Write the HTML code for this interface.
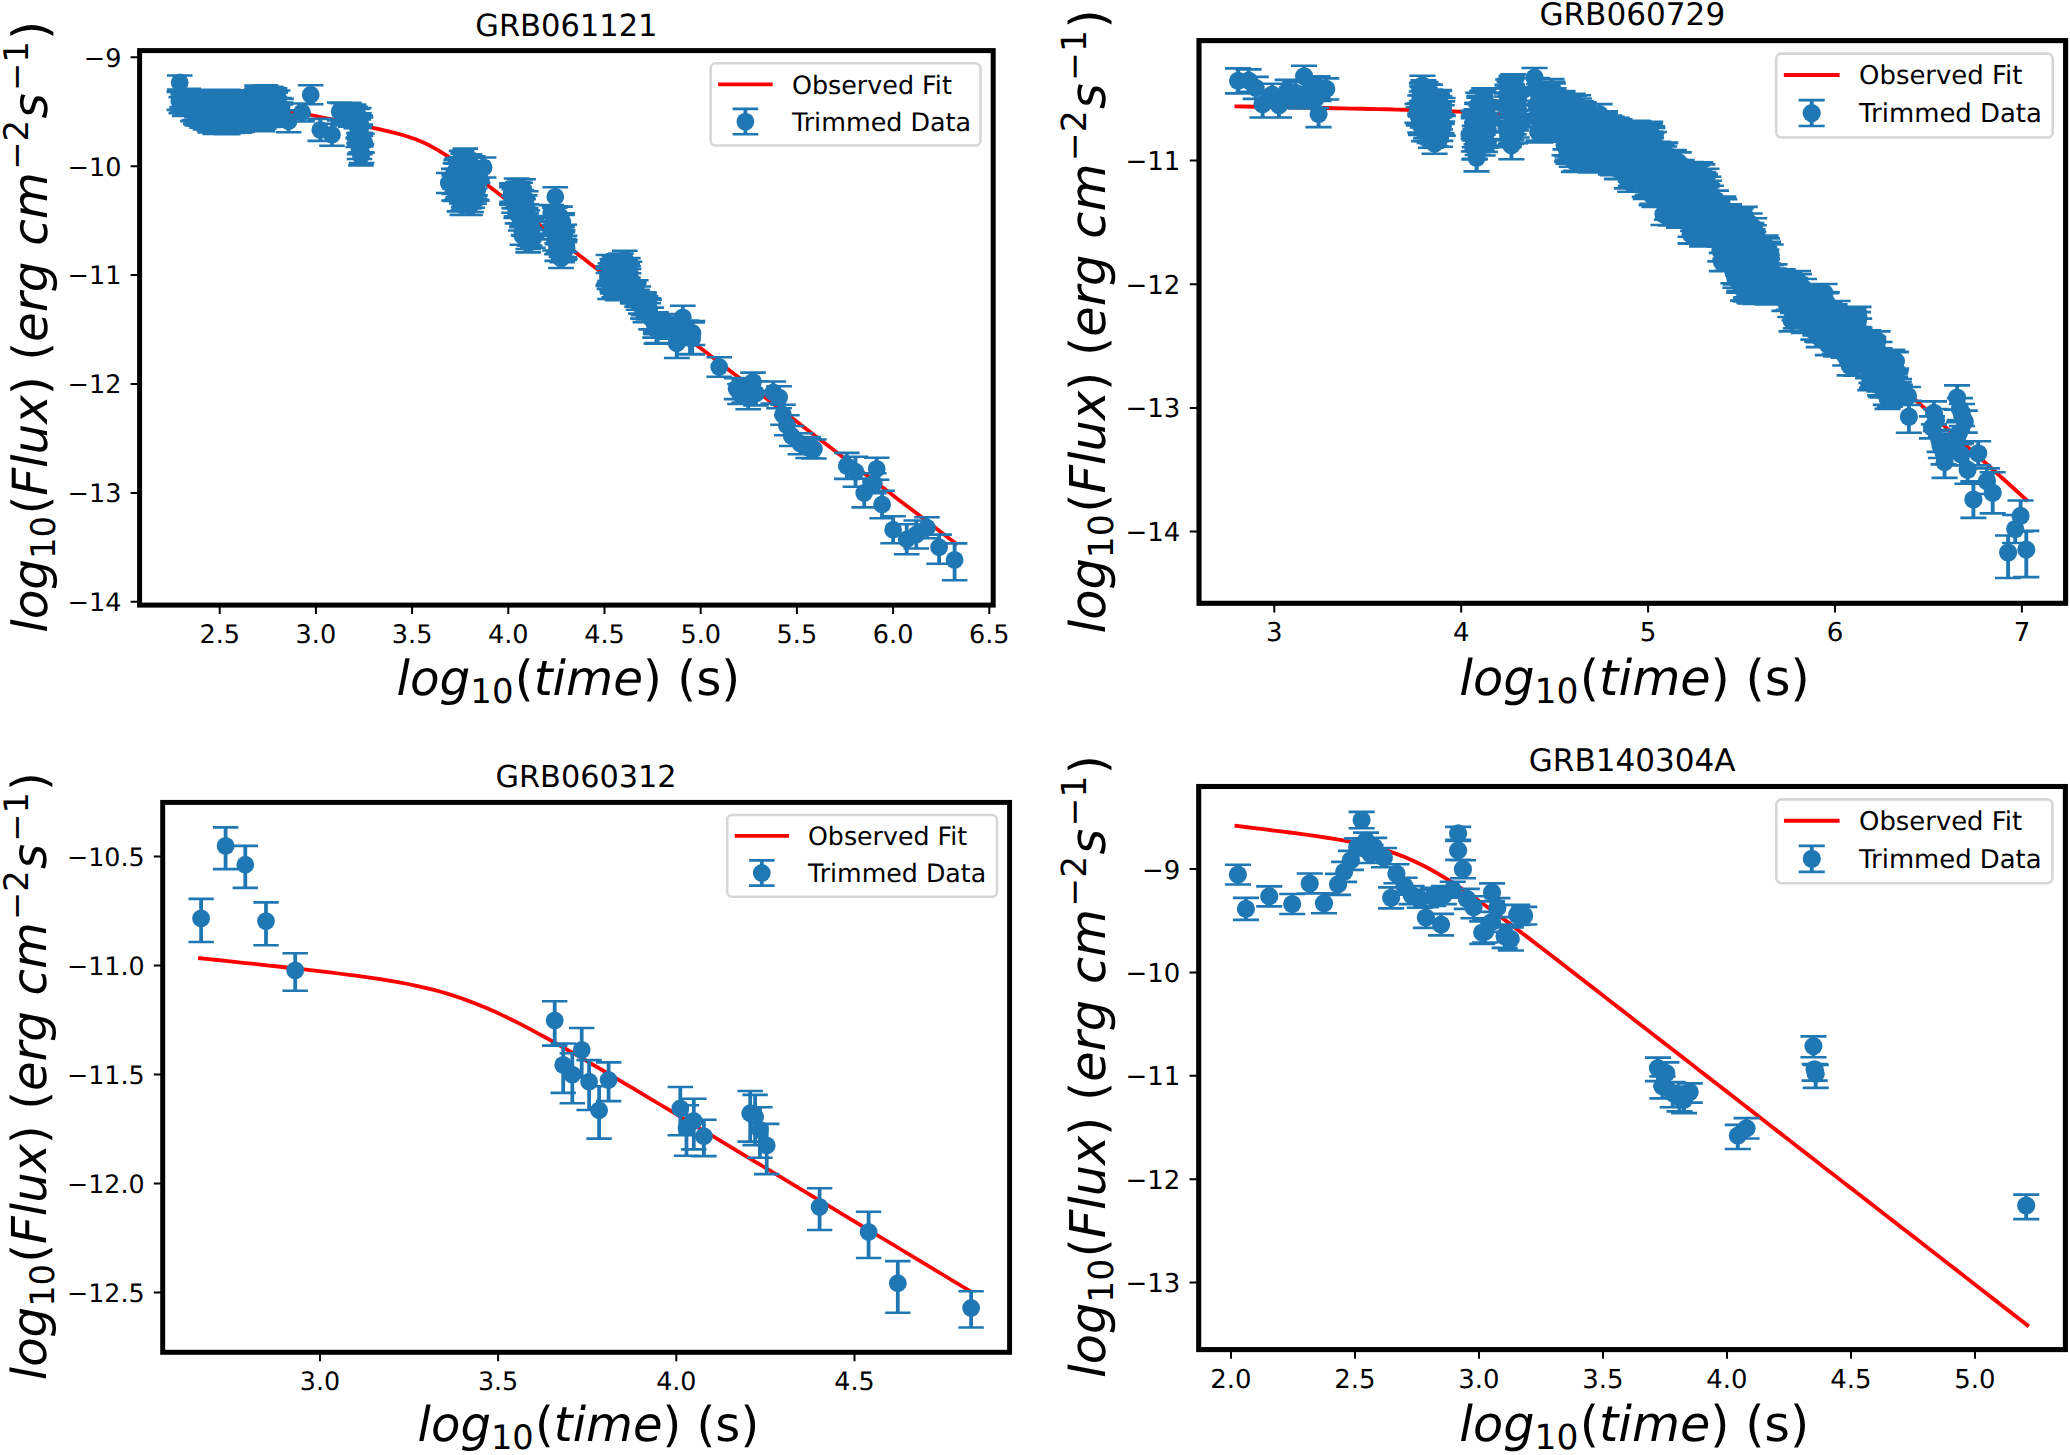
<!DOCTYPE html>
<html lang="en"><head><meta charset="utf-8"><title>GRB light curves</title>
<style>html,body{margin:0;padding:0;background:#fff}svg{display:block}text{font-family:"DejaVu Sans","Liberation Sans",sans-serif;fill:#000;text-rendering:geometricPrecision}.it{font-style:oblique}</style></head><body>
<svg width="2070" height="1455" viewBox="0 0 2070 1455">
<rect width="2070" height="1455" fill="#fff"/>
<g>
<path d="M179.7 105.0 L250.0 109.0 L306.0 114.0 L313.3 115.5 L320.6 117.0 L327.9 118.5 L335.2 120.0 L342.5 121.5 L349.8 123.0 L357.1 124.5 L364.4 126.0 L371.7 127.6 L379.0 129.1 L386.3 130.8 L393.6 132.6 L400.9 134.5 L408.2 136.7 L415.6 139.2 L422.9 142.2 L430.2 145.8 L437.5 149.8 L444.8 154.3 L452.1 159.2 L459.4 164.3 L466.7 169.6 L474.0 175.0 L481.3 180.5 L488.6 186.1 L495.9 191.6 L503.2 197.2 L510.5 202.7 L517.8 208.3 L525.1 213.9 L532.4 219.5 L539.7 225.1 L547.0 230.7 L554.3 236.3 L561.6 241.8 L568.9 247.4 L576.2 253.0 L583.5 258.6 L590.8 264.2 L598.1 269.8 L605.4 275.4 L612.7 281.0 L620.0 286.5 L627.3 292.1 L634.7 297.7 L642.0 303.3 L649.3 308.9 L656.6 314.5 L663.9 320.1 L671.2 325.7 L678.5 331.2 L685.8 336.8 L693.1 342.4 L700.4 348.0 L707.7 353.6 L715.0 359.2 L722.3 364.8 L729.6 370.4 L736.9 375.9 L744.2 381.5 L751.5 387.1 L758.8 392.7 L766.1 398.3 L773.4 403.9 L780.7 409.5 L788.0 415.1 L795.3 420.6 L802.6 426.2 L809.9 431.8 L817.2 437.4 L824.5 443.0 L831.8 448.6 L839.1 454.2 L846.4 459.8 L853.8 465.3 L861.1 470.9 L868.4 476.5 L875.7 482.1 L883.0 487.7 L890.3 493.3 L897.6 498.9 L904.9 504.5 L912.2 510.0 L919.5 515.6 L926.8 521.2 L934.1 526.8 L941.4 532.4 L948.7 538.0 L956.0 543.6" fill="none" stroke="#ff0000" stroke-width="3.80" stroke-linecap="square" stroke-linejoin="round"/>
<path d="M179.7 75.5V89.5M179.3 91.9V109.9M248.9 109.7V127.1M215.3 117.9V134.0M227.8 89.9V109.4M213.0 90.0V106.4M267.3 105.5V123.8M199.8 95.6V112.1M261.2 101.1V121.7M273.0 95.1V114.9M205.4 111.7V129.5M221.1 91.3V111.9M262.1 96.1V113.4M237.1 111.8V128.0M226.6 103.7V122.5M231.6 110.5V130.9M234.9 102.4V120.9M269.7 87.7V104.6M227.8 113.1V134.0M256.7 88.8V109.7M217.7 90.7V109.2M243.4 101.5V117.6M257.6 101.5V119.4M275.2 107.8V126.0M250.0 96.1V114.0M197.3 107.0V125.5M230.8 105.2V122.9M221.5 100.4V117.0M248.5 104.8V121.6M261.8 103.0V119.1M203.5 98.9V115.2M233.4 106.0V125.8M266.1 91.8V109.1M190.8 91.3V109.2M243.8 109.6V126.5M264.1 100.8V121.2M237.6 101.5V122.3M241.9 111.1V132.0M203.7 92.9V110.7M181.3 97.1V113.1M205.8 96.6V115.0M233.2 111.3V131.3M244.5 91.0V111.8M216.2 111.2V131.4M212.5 89.8V108.3M216.0 100.5V120.0M243.1 90.5V111.2M199.9 90.5V107.6M247.4 91.0V108.8M270.6 87.1V106.6M273.8 101.5V118.0M217.3 113.3V130.0M207.1 102.6V122.2M230.0 96.6V114.6M214.2 102.0V118.6M207.8 95.7V115.9M202.8 105.1V123.0M263.8 110.0V128.8M240.6 91.9V109.9M188.2 88.8V106.9M209.9 101.0V119.4M240.7 108.5V128.6M239.2 111.7V130.5M215.0 101.5V120.7M186.5 90.9V109.8M226.6 114.6V132.8M251.6 95.1V112.5M192.9 102.3V121.1M234.9 96.0V116.9M250.7 107.5V125.6M257.9 92.8V109.4M222.6 98.5V117.8M215.5 99.1V118.5M223.3 99.4V120.1M263.6 105.5V125.1M209.6 98.4V114.8M234.6 109.9V127.6M247.2 107.3V126.7M266.7 102.3V118.4M219.8 90.4V111.2M274.5 96.8V114.1M210.2 115.8V132.5M204.6 96.0V113.4M267.3 94.1V114.1M265.4 85.4V103.5M245.5 101.7V120.9M277.6 90.5V106.7M194.6 102.7V120.1M266.7 94.4V111.1M274.4 98.5V116.6M257.0 85.5V105.6M194.1 101.7V120.8M271.9 96.0V115.3M251.5 102.9V122.7M270.1 100.3V118.7M249.8 95.9V114.2M225.3 90.3V109.7M237.1 110.2V131.1M280.6 102.5V118.6M215.8 105.1V121.4M246.0 95.7V112.1M187.8 92.6V112.3M210.1 106.5V126.9M206.8 90.0V106.4M206.0 105.0V124.6M225.4 104.3V122.5M273.8 102.3V118.3M183.2 94.1V111.4M274.5 88.4V104.7M265.6 109.7V126.8M259.8 107.7V128.1M268.2 108.7V126.2M248.8 93.5V113.1M242.0 100.1V119.4M267.7 90.4V110.3M252.3 90.4V111.2M219.8 110.8V128.8M233.0 107.4V126.3M210.0 99.5V118.3M241.4 103.6V121.5M209.4 112.5V130.8M263.7 109.2V125.9M265.5 88.3V106.3M215.4 96.0V113.2M251.6 102.4V121.8M226.7 117.3V134.1M259.7 86.2V105.4M213.2 96.2V116.3M213.0 89.7V108.0M271.6 107.6V126.7M223.9 94.8V111.8M277.2 108.6V125.2M279.0 98.0V116.0M242.2 99.7V119.9M269.3 91.4V109.8M258.7 93.1V110.6M271.7 100.2V120.1M239.3 94.7V114.9M231.7 105.5V121.7M237.6 99.7V117.2M251.9 96.1V116.3M273.1 89.1V107.5M260.8 94.7V113.0M235.1 103.7V119.9M231.0 111.4V127.5M213.7 96.0V115.5M182.2 90.2V107.1M281.1 98.9V116.4M271.9 103.3V121.4M205.2 103.7V121.7M225.5 100.5V116.8M265.0 88.8V106.4M259.3 89.3V108.0M195.8 103.9V124.0M275.3 92.8V111.4M264.1 93.7V110.8M219.3 115.0V132.5M213.2 102.2V119.7M233.5 109.4V128.6M260.8 85.5V105.6M264.1 86.9V107.3M205.1 92.9V113.7M200.6 106.6V125.8M197.7 104.7V123.5M201.3 105.9V122.5M261.2 108.3V124.6M254.9 101.6V121.8M187.6 96.9V114.0M225.0 101.6V118.7M220.6 105.4V125.0M184.6 97.6V116.0M230.7 110.0V128.4M262.3 113.2V131.1M270.8 105.0V121.4M259.8 95.8V111.9M260.5 106.5V124.1M242.3 94.4V111.7M268.3 93.1V112.7M245.3 97.4V115.9M247.9 99.1V118.5M202.1 109.8V127.6M215.7 109.7V129.8M272.9 103.2V123.5M233.6 90.7V108.6M217.3 93.9V112.9M270.4 99.4V116.9M248.2 98.9V119.6M271.1 91.2V107.7M199.0 102.4V121.3M270.6 92.0V112.6M227.3 90.9V109.0M272.3 87.7V104.3M248.8 96.0V116.0M280.5 104.4V123.7M232.1 112.2V133.0M260.2 92.7V113.3M239.3 113.7V132.6M250.9 95.7V114.4M232.8 111.9V128.1M258.3 101.5V119.0M197.0 97.5V117.2M242.1 104.7V122.7M246.3 97.3V117.9M257.9 86.4V107.0M196.4 93.2V114.1M269.7 86.7V106.0M224.2 90.8V110.7M226.7 114.4V131.0M250.1 113.4V130.1M268.3 109.6V127.0M197.7 102.9V122.2M205.0 98.4V116.1M288.5 110.2V132.2M302.0 103.5V121.5M310.7 85.2V104.2M320.3 118.9V140.9M332.0 123.7V145.7M339.7 102.5V120.5M343.7 103.2V122.2M341.4 102.9V120.1M346.3 106.1V125.5M348.9 102.9V121.1M350.7 107.0V126.6M354.5 108.6V125.7M353.6 104.9V122.3M353.0 104.6V122.0M357.3 108.4V127.9M356.3 108.3V128.2M355.2 106.9V126.1M356.9 108.9V126.8M358.7 108.0V125.1M358.9 113.2V133.1M360.1 115.2V132.8M358.2 118.7V138.2M360.5 117.4V135.8M358.3 119.5V137.5M359.0 124.9V143.2M360.2 124.6V141.8M359.5 127.9V145.2M358.3 127.4V147.0M361.0 133.8V152.2M362.0 133.7V152.7M359.6 136.1V154.1M359.9 135.4V153.9M359.5 139.6V159.0M361.5 144.1V163.0M360.9 146.4V165.4M463.4 169.8V190.8M453.8 168.9V186.4M472.9 170.5V189.7M460.8 168.0V186.8M457.7 158.0V176.9M465.4 179.5V200.4M476.8 161.3V179.9M466.8 185.3V204.3M461.8 177.8V195.6M464.8 166.5V187.3M466.5 171.2V192.1M463.6 175.8V192.9M457.4 163.6V181.6M464.3 190.2V208.0M454.2 175.5V194.0M473.8 182.9V203.8M471.2 191.6V212.0M467.4 180.0V197.9M461.7 157.3V175.9M474.5 164.8V185.3M458.1 179.5V197.4M469.6 184.3V204.9M472.8 156.4V176.1M460.6 173.5V191.1M464.5 180.2V197.7M468.3 189.4V208.5M461.5 159.7V178.5M463.3 180.5V200.5M471.1 183.3V203.4M471.9 161.4V180.7M463.2 153.6V173.2M456.7 180.6V199.7M454.9 168.9V188.1M459.5 190.6V211.4M455.7 182.2V200.9M466.0 178.7V197.1M461.6 150.9V171.7M468.1 167.4V188.1M456.1 160.3V180.7M457.4 168.5V188.5M469.0 176.5V195.7M469.3 162.0V182.6M463.1 192.7V210.6M465.8 173.4V191.0M465.5 154.7V172.8M474.6 180.7V199.1M469.9 157.7V177.3M460.8 162.6V180.0M476.8 180.6V200.0M468.9 180.5V198.7M457.0 158.6V178.8M461.4 167.0V187.0M468.3 169.5V187.2M461.8 185.4V203.5M467.6 171.5V188.6M474.7 169.8V188.5M466.0 163.7V182.6M467.9 177.3V198.1M468.0 186.7V205.6M464.8 190.8V209.0M460.9 175.3V192.8M457.3 172.9V192.5M454.1 180.0V200.6M455.4 163.2V183.0M469.7 188.4V208.1M477.6 162.9V182.9M468.3 167.4V187.3M475.0 175.6V195.4M463.7 188.6V207.1M469.2 176.7V195.7M476.9 181.3V200.6M471.5 182.0V200.4M461.2 178.0V195.6M474.1 184.1V203.6M472.3 188.0V207.8M467.5 163.6V181.3M474.2 178.4V196.3M458.4 171.6V191.2M472.8 172.1V190.1M470.6 156.9V174.5M462.7 176.2V193.3M456.5 181.8V200.5M464.6 171.9V189.6M469.5 154.2V173.9M474.0 165.9V183.5M465.3 148.6V167.2M448.8 173.0V193.0M483.6 157.5V177.5M462.4 193.7V214.9M470.0 197.0V215.0M519.5 179.4V196.1M523.1 179.2V198.9M511.9 183.3V203.2M517.8 182.4V200.1M520.1 182.8V202.2M516.9 184.2V202.5M512.1 184.8V201.8M512.9 186.3V205.0M511.8 187.1V204.6M516.3 191.9V208.5M514.2 189.2V208.3M525.7 191.3V208.0M521.4 190.0V209.8M514.1 195.9V212.7M522.1 196.1V213.4M520.0 196.0V215.2M524.7 195.4V214.8M516.5 198.8V216.4M518.7 197.8V216.3M520.7 198.2V218.0M521.4 199.6V216.8M516.2 200.9V218.0M526.4 204.4V220.8M517.5 204.6V223.4M522.0 205.8V224.6M523.7 207.5V224.0M521.9 208.3V227.1M520.8 213.3V230.5M526.2 213.3V231.4M523.4 208.3V226.5M526.1 213.2V231.5M527.4 210.5V228.7M530.0 216.0V233.6M524.4 217.2V236.0M523.5 218.2V235.1M530.8 216.7V236.2M531.6 219.5V237.0M531.0 219.1V238.2M522.4 226.3V244.8M532.9 230.0V247.8M529.6 227.7V245.6M528.2 234.3V252.4M516.6 178.5V196.5M528.2 230.0V249.0M555.3 187.2V206.2M551.3 205.1V221.1M554.7 207.6V225.0M560.0 206.6V226.0M562.3 213.2V230.4M562.1 215.0V231.6M552.3 217.2V233.6M553.0 217.7V235.9M556.0 216.1V233.7M558.4 220.7V239.2M552.7 221.9V239.5M553.3 221.3V239.4M562.2 226.1V243.7M564.3 224.8V242.0M557.9 228.0V244.1M562.6 230.8V247.9M561.6 227.5V246.5M562.5 232.3V249.7M558.5 233.9V253.0M564.6 235.7V251.9M555.0 231.7V250.5M556.9 234.9V254.2M561.5 240.0V256.9M557.2 243.4V260.9M564.3 240.3V257.3M564.1 242.2V259.9M563.8 238.7V258.4M564.9 240.1V258.9M562.3 245.9V262.3M561.0 249.0V268.0M625.9 276.4V296.0M625.1 259.6V278.6M622.7 263.8V283.3M608.3 266.4V285.9M619.7 264.2V280.7M612.2 259.0V278.9M620.1 260.4V280.0M621.4 260.5V279.1M608.6 267.6V285.7M609.5 272.8V288.9M612.3 274.4V292.0M623.9 268.2V286.1M621.0 253.6V269.6M628.6 273.3V290.1M623.3 279.1V298.4M622.1 267.5V286.0M612.0 264.6V284.1M616.0 260.0V278.1M625.9 277.5V297.5M618.0 268.2V286.9M610.4 263.2V280.7M621.4 263.4V280.7M612.1 272.3V289.5M616.5 261.4V277.8M619.4 262.1V280.4M614.8 266.8V283.3M624.2 265.2V282.0M622.6 269.8V288.3M629.5 261.7V281.4M617.5 280.3V300.2M617.1 266.2V285.8M619.1 254.3V273.6M613.9 262.2V279.5M623.8 261.8V279.6M627.2 264.4V284.0M628.2 266.2V283.1M628.6 269.0V286.4M609.3 266.8V283.0M621.8 264.3V281.4M612.8 273.9V293.5M608.2 268.7V285.0M614.9 267.2V286.8M622.1 262.1V280.9M625.2 271.6V289.1M624.6 263.5V280.9M614.4 256.0V273.4M613.0 261.1V278.7M624.8 270.4V289.9M614.1 278.8V298.8M616.7 279.6V298.5M613.0 265.7V282.8M627.9 258.1V277.6M614.1 278.2V297.3M624.1 259.6V278.5M621.8 261.5V281.4M624.8 250.8V268.2M608.4 255.0V273.0M610.0 281.0V299.0M632.9 282.3V302.8M632.6 282.4V303.2M633.8 282.6V303.5M635.8 280.3V300.1M633.3 284.0V300.2M638.3 286.5V305.0M637.0 289.8V306.8M638.5 292.0V309.7M643.7 292.3V308.5M640.9 293.5V313.6M643.6 297.7V315.2M644.0 295.3V314.7M644.1 292.7V314.5M645.7 296.3V313.7M642.8 300.8V318.5M644.3 301.5V319.0M648.3 303.1V319.5M648.5 298.3V317.7M645.4 303.0V322.3M649.2 299.7V319.3M651.1 307.6V329.4M655.8 312.2V331.6M656.1 312.8V332.5M655.7 312.5V333.8M655.1 316.3V337.6M656.1 314.2V333.3M656.3 314.5V334.1M658.2 316.0V334.2M657.7 315.0V343.0M669.3 314.0V336.0M682.8 305.8V329.0M692.5 321.0V345.0M677.0 327.2V358.0M690.0 322.0V354.0M656.4 315.8V343.6M671.0 316.7V338.7M686.4 320.6V342.6M676.7 328.4V358.0M692.2 322.4V354.4M719.2 357.3V376.7M736.6 378.1V399.1M744.3 380.5V402.5M753.0 372.6V391.0M748.2 385.3V409.3M756.0 381.4V405.4M773.3 381.5V403.5M779.1 386.3V408.3M740.0 384.0V404.0M783.0 404.7V424.7M786.9 415.3V435.3M791.7 426.0V446.0M800.4 433.2V454.2M808.1 437.0V458.0M813.9 439.5V458.5M846.8 452.9V478.9M855.5 456.7V486.7M876.7 457.8V479.8M873.8 473.3V493.3M864.2 478.6V507.4M882.1 490.8V518.2M893.1 516.2V543.2M906.7 524.3V554.3M916.3 520.5V548.5M927.0 517.2V538.2M939.1 534.6V563.7M954.6 543.4V580.2" fill="none" stroke="#1f77b4" stroke-width="3.80"/>
<path d="M166.9 75.5h25.6M166.9 89.5h25.6M166.5 91.9h25.6M166.5 109.9h25.6M236.1 109.7h25.6M236.1 127.1h25.6M202.5 117.9h25.6M202.5 134.0h25.6M215.0 89.9h25.6M215.0 109.4h25.6M200.2 90.0h25.6M200.2 106.4h25.6M254.5 105.5h25.6M254.5 123.8h25.6M187.0 95.6h25.6M187.0 112.1h25.6M248.4 101.1h25.6M248.4 121.7h25.6M260.2 95.1h25.6M260.2 114.9h25.6M192.6 111.7h25.6M192.6 129.5h25.6M208.3 91.3h25.6M208.3 111.9h25.6M249.3 96.1h25.6M249.3 113.4h25.6M224.3 111.8h25.6M224.3 128.0h25.6M213.8 103.7h25.6M213.8 122.5h25.6M218.8 110.5h25.6M218.8 130.9h25.6M222.1 102.4h25.6M222.1 120.9h25.6M256.9 87.7h25.6M256.9 104.6h25.6M215.0 113.1h25.6M215.0 134.0h25.6M243.9 88.8h25.6M243.9 109.7h25.6M204.9 90.7h25.6M204.9 109.2h25.6M230.6 101.5h25.6M230.6 117.6h25.6M244.8 101.5h25.6M244.8 119.4h25.6M262.4 107.8h25.6M262.4 126.0h25.6M237.2 96.1h25.6M237.2 114.0h25.6M184.5 107.0h25.6M184.5 125.5h25.6M218.0 105.2h25.6M218.0 122.9h25.6M208.7 100.4h25.6M208.7 117.0h25.6M235.7 104.8h25.6M235.7 121.6h25.6M249.0 103.0h25.6M249.0 119.1h25.6M190.7 98.9h25.6M190.7 115.2h25.6M220.6 106.0h25.6M220.6 125.8h25.6M253.3 91.8h25.6M253.3 109.1h25.6M178.0 91.3h25.6M178.0 109.2h25.6M231.0 109.6h25.6M231.0 126.5h25.6M251.3 100.8h25.6M251.3 121.2h25.6M224.8 101.5h25.6M224.8 122.3h25.6M229.1 111.1h25.6M229.1 132.0h25.6M190.9 92.9h25.6M190.9 110.7h25.6M168.5 97.1h25.6M168.5 113.1h25.6M193.0 96.6h25.6M193.0 115.0h25.6M220.4 111.3h25.6M220.4 131.3h25.6M231.7 91.0h25.6M231.7 111.8h25.6M203.4 111.2h25.6M203.4 131.4h25.6M199.7 89.8h25.6M199.7 108.3h25.6M203.2 100.5h25.6M203.2 120.0h25.6M230.3 90.5h25.6M230.3 111.2h25.6M187.1 90.5h25.6M187.1 107.6h25.6M234.6 91.0h25.6M234.6 108.8h25.6M257.8 87.1h25.6M257.8 106.6h25.6M261.0 101.5h25.6M261.0 118.0h25.6M204.5 113.3h25.6M204.5 130.0h25.6M194.3 102.6h25.6M194.3 122.2h25.6M217.2 96.6h25.6M217.2 114.6h25.6M201.4 102.0h25.6M201.4 118.6h25.6M195.0 95.7h25.6M195.0 115.9h25.6M190.0 105.1h25.6M190.0 123.0h25.6M251.0 110.0h25.6M251.0 128.8h25.6M227.8 91.9h25.6M227.8 109.9h25.6M175.4 88.8h25.6M175.4 106.9h25.6M197.1 101.0h25.6M197.1 119.4h25.6M227.9 108.5h25.6M227.9 128.6h25.6M226.4 111.7h25.6M226.4 130.5h25.6M202.2 101.5h25.6M202.2 120.7h25.6M173.7 90.9h25.6M173.7 109.8h25.6M213.8 114.6h25.6M213.8 132.8h25.6M238.8 95.1h25.6M238.8 112.5h25.6M180.1 102.3h25.6M180.1 121.1h25.6M222.1 96.0h25.6M222.1 116.9h25.6M237.9 107.5h25.6M237.9 125.6h25.6M245.1 92.8h25.6M245.1 109.4h25.6M209.8 98.5h25.6M209.8 117.8h25.6M202.7 99.1h25.6M202.7 118.5h25.6M210.5 99.4h25.6M210.5 120.1h25.6M250.8 105.5h25.6M250.8 125.1h25.6M196.8 98.4h25.6M196.8 114.8h25.6M221.8 109.9h25.6M221.8 127.6h25.6M234.4 107.3h25.6M234.4 126.7h25.6M253.9 102.3h25.6M253.9 118.4h25.6M207.0 90.4h25.6M207.0 111.2h25.6M261.7 96.8h25.6M261.7 114.1h25.6M197.4 115.8h25.6M197.4 132.5h25.6M191.8 96.0h25.6M191.8 113.4h25.6M254.5 94.1h25.6M254.5 114.1h25.6M252.6 85.4h25.6M252.6 103.5h25.6M232.7 101.7h25.6M232.7 120.9h25.6M264.8 90.5h25.6M264.8 106.7h25.6M181.8 102.7h25.6M181.8 120.1h25.6M253.9 94.4h25.6M253.9 111.1h25.6M261.6 98.5h25.6M261.6 116.6h25.6M244.2 85.5h25.6M244.2 105.6h25.6M181.3 101.7h25.6M181.3 120.8h25.6M259.1 96.0h25.6M259.1 115.3h25.6M238.7 102.9h25.6M238.7 122.7h25.6M257.3 100.3h25.6M257.3 118.7h25.6M237.0 95.9h25.6M237.0 114.2h25.6M212.5 90.3h25.6M212.5 109.7h25.6M224.3 110.2h25.6M224.3 131.1h25.6M267.8 102.5h25.6M267.8 118.6h25.6M203.0 105.1h25.6M203.0 121.4h25.6M233.2 95.7h25.6M233.2 112.1h25.6M175.0 92.6h25.6M175.0 112.3h25.6M197.3 106.5h25.6M197.3 126.9h25.6M194.0 90.0h25.6M194.0 106.4h25.6M193.2 105.0h25.6M193.2 124.6h25.6M212.6 104.3h25.6M212.6 122.5h25.6M261.0 102.3h25.6M261.0 118.3h25.6M170.4 94.1h25.6M170.4 111.4h25.6M261.7 88.4h25.6M261.7 104.7h25.6M252.8 109.7h25.6M252.8 126.8h25.6M247.0 107.7h25.6M247.0 128.1h25.6M255.4 108.7h25.6M255.4 126.2h25.6M236.0 93.5h25.6M236.0 113.1h25.6M229.2 100.1h25.6M229.2 119.4h25.6M254.9 90.4h25.6M254.9 110.3h25.6M239.5 90.4h25.6M239.5 111.2h25.6M207.0 110.8h25.6M207.0 128.8h25.6M220.2 107.4h25.6M220.2 126.3h25.6M197.2 99.5h25.6M197.2 118.3h25.6M228.6 103.6h25.6M228.6 121.5h25.6M196.6 112.5h25.6M196.6 130.8h25.6M250.9 109.2h25.6M250.9 125.9h25.6M252.7 88.3h25.6M252.7 106.3h25.6M202.6 96.0h25.6M202.6 113.2h25.6M238.8 102.4h25.6M238.8 121.8h25.6M213.9 117.3h25.6M213.9 134.1h25.6M246.9 86.2h25.6M246.9 105.4h25.6M200.4 96.2h25.6M200.4 116.3h25.6M200.2 89.7h25.6M200.2 108.0h25.6M258.8 107.6h25.6M258.8 126.7h25.6M211.1 94.8h25.6M211.1 111.8h25.6M264.4 108.6h25.6M264.4 125.2h25.6M266.2 98.0h25.6M266.2 116.0h25.6M229.4 99.7h25.6M229.4 119.9h25.6M256.5 91.4h25.6M256.5 109.8h25.6M245.9 93.1h25.6M245.9 110.6h25.6M258.9 100.2h25.6M258.9 120.1h25.6M226.5 94.7h25.6M226.5 114.9h25.6M218.9 105.5h25.6M218.9 121.7h25.6M224.8 99.7h25.6M224.8 117.2h25.6M239.1 96.1h25.6M239.1 116.3h25.6M260.3 89.1h25.6M260.3 107.5h25.6M248.0 94.7h25.6M248.0 113.0h25.6M222.3 103.7h25.6M222.3 119.9h25.6M218.2 111.4h25.6M218.2 127.5h25.6M200.9 96.0h25.6M200.9 115.5h25.6M169.4 90.2h25.6M169.4 107.1h25.6M268.3 98.9h25.6M268.3 116.4h25.6M259.1 103.3h25.6M259.1 121.4h25.6M192.4 103.7h25.6M192.4 121.7h25.6M212.7 100.5h25.6M212.7 116.8h25.6M252.2 88.8h25.6M252.2 106.4h25.6M246.5 89.3h25.6M246.5 108.0h25.6M183.0 103.9h25.6M183.0 124.0h25.6M262.5 92.8h25.6M262.5 111.4h25.6M251.3 93.7h25.6M251.3 110.8h25.6M206.5 115.0h25.6M206.5 132.5h25.6M200.4 102.2h25.6M200.4 119.7h25.6M220.7 109.4h25.6M220.7 128.6h25.6M248.0 85.5h25.6M248.0 105.6h25.6M251.3 86.9h25.6M251.3 107.3h25.6M192.3 92.9h25.6M192.3 113.7h25.6M187.8 106.6h25.6M187.8 125.8h25.6M184.9 104.7h25.6M184.9 123.5h25.6M188.5 105.9h25.6M188.5 122.5h25.6M248.4 108.3h25.6M248.4 124.6h25.6M242.1 101.6h25.6M242.1 121.8h25.6M174.8 96.9h25.6M174.8 114.0h25.6M212.2 101.6h25.6M212.2 118.7h25.6M207.8 105.4h25.6M207.8 125.0h25.6M171.8 97.6h25.6M171.8 116.0h25.6M217.9 110.0h25.6M217.9 128.4h25.6M249.5 113.2h25.6M249.5 131.1h25.6M258.0 105.0h25.6M258.0 121.4h25.6M247.0 95.8h25.6M247.0 111.9h25.6M247.7 106.5h25.6M247.7 124.1h25.6M229.5 94.4h25.6M229.5 111.7h25.6M255.5 93.1h25.6M255.5 112.7h25.6M232.5 97.4h25.6M232.5 115.9h25.6M235.1 99.1h25.6M235.1 118.5h25.6M189.3 109.8h25.6M189.3 127.6h25.6M202.9 109.7h25.6M202.9 129.8h25.6M260.1 103.2h25.6M260.1 123.5h25.6M220.8 90.7h25.6M220.8 108.6h25.6M204.5 93.9h25.6M204.5 112.9h25.6M257.6 99.4h25.6M257.6 116.9h25.6M235.4 98.9h25.6M235.4 119.6h25.6M258.3 91.2h25.6M258.3 107.7h25.6M186.2 102.4h25.6M186.2 121.3h25.6M257.8 92.0h25.6M257.8 112.6h25.6M214.5 90.9h25.6M214.5 109.0h25.6M259.5 87.7h25.6M259.5 104.3h25.6M236.0 96.0h25.6M236.0 116.0h25.6M267.7 104.4h25.6M267.7 123.7h25.6M219.3 112.2h25.6M219.3 133.0h25.6M247.4 92.7h25.6M247.4 113.3h25.6M226.5 113.7h25.6M226.5 132.6h25.6M238.1 95.7h25.6M238.1 114.4h25.6M220.0 111.9h25.6M220.0 128.1h25.6M245.5 101.5h25.6M245.5 119.0h25.6M184.2 97.5h25.6M184.2 117.2h25.6M229.3 104.7h25.6M229.3 122.7h25.6M233.5 97.3h25.6M233.5 117.9h25.6M245.1 86.4h25.6M245.1 107.0h25.6M183.6 93.2h25.6M183.6 114.1h25.6M256.9 86.7h25.6M256.9 106.0h25.6M211.4 90.8h25.6M211.4 110.7h25.6M213.9 114.4h25.6M213.9 131.0h25.6M237.3 113.4h25.6M237.3 130.1h25.6M255.5 109.6h25.6M255.5 127.0h25.6M184.9 102.9h25.6M184.9 122.2h25.6M192.2 98.4h25.6M192.2 116.1h25.6M275.7 110.2h25.6M275.7 132.2h25.6M289.2 103.5h25.6M289.2 121.5h25.6M297.9 85.2h25.6M297.9 104.2h25.6M307.5 118.9h25.6M307.5 140.9h25.6M319.2 123.7h25.6M319.2 145.7h25.6M326.9 102.5h25.6M326.9 120.5h25.6M330.9 103.2h25.6M330.9 122.2h25.6M328.6 102.9h25.6M328.6 120.1h25.6M333.5 106.1h25.6M333.5 125.5h25.6M336.1 102.9h25.6M336.1 121.1h25.6M337.9 107.0h25.6M337.9 126.6h25.6M341.7 108.6h25.6M341.7 125.7h25.6M340.8 104.9h25.6M340.8 122.3h25.6M340.2 104.6h25.6M340.2 122.0h25.6M344.5 108.4h25.6M344.5 127.9h25.6M343.5 108.3h25.6M343.5 128.2h25.6M342.4 106.9h25.6M342.4 126.1h25.6M344.1 108.9h25.6M344.1 126.8h25.6M345.9 108.0h25.6M345.9 125.1h25.6M346.1 113.2h25.6M346.1 133.1h25.6M347.3 115.2h25.6M347.3 132.8h25.6M345.4 118.7h25.6M345.4 138.2h25.6M347.7 117.4h25.6M347.7 135.8h25.6M345.5 119.5h25.6M345.5 137.5h25.6M346.2 124.9h25.6M346.2 143.2h25.6M347.4 124.6h25.6M347.4 141.8h25.6M346.7 127.9h25.6M346.7 145.2h25.6M345.5 127.4h25.6M345.5 147.0h25.6M348.2 133.8h25.6M348.2 152.2h25.6M349.2 133.7h25.6M349.2 152.7h25.6M346.8 136.1h25.6M346.8 154.1h25.6M347.1 135.4h25.6M347.1 153.9h25.6M346.7 139.6h25.6M346.7 159.0h25.6M348.7 144.1h25.6M348.7 163.0h25.6M348.1 146.4h25.6M348.1 165.4h25.6M450.6 169.8h25.6M450.6 190.8h25.6M441.0 168.9h25.6M441.0 186.4h25.6M460.1 170.5h25.6M460.1 189.7h25.6M448.0 168.0h25.6M448.0 186.8h25.6M444.9 158.0h25.6M444.9 176.9h25.6M452.6 179.5h25.6M452.6 200.4h25.6M464.0 161.3h25.6M464.0 179.9h25.6M454.0 185.3h25.6M454.0 204.3h25.6M449.0 177.8h25.6M449.0 195.6h25.6M452.0 166.5h25.6M452.0 187.3h25.6M453.7 171.2h25.6M453.7 192.1h25.6M450.8 175.8h25.6M450.8 192.9h25.6M444.6 163.6h25.6M444.6 181.6h25.6M451.5 190.2h25.6M451.5 208.0h25.6M441.4 175.5h25.6M441.4 194.0h25.6M461.0 182.9h25.6M461.0 203.8h25.6M458.4 191.6h25.6M458.4 212.0h25.6M454.6 180.0h25.6M454.6 197.9h25.6M448.9 157.3h25.6M448.9 175.9h25.6M461.7 164.8h25.6M461.7 185.3h25.6M445.3 179.5h25.6M445.3 197.4h25.6M456.8 184.3h25.6M456.8 204.9h25.6M460.0 156.4h25.6M460.0 176.1h25.6M447.8 173.5h25.6M447.8 191.1h25.6M451.7 180.2h25.6M451.7 197.7h25.6M455.5 189.4h25.6M455.5 208.5h25.6M448.7 159.7h25.6M448.7 178.5h25.6M450.5 180.5h25.6M450.5 200.5h25.6M458.3 183.3h25.6M458.3 203.4h25.6M459.1 161.4h25.6M459.1 180.7h25.6M450.4 153.6h25.6M450.4 173.2h25.6M443.9 180.6h25.6M443.9 199.7h25.6M442.1 168.9h25.6M442.1 188.1h25.6M446.7 190.6h25.6M446.7 211.4h25.6M442.9 182.2h25.6M442.9 200.9h25.6M453.2 178.7h25.6M453.2 197.1h25.6M448.8 150.9h25.6M448.8 171.7h25.6M455.3 167.4h25.6M455.3 188.1h25.6M443.3 160.3h25.6M443.3 180.7h25.6M444.6 168.5h25.6M444.6 188.5h25.6M456.2 176.5h25.6M456.2 195.7h25.6M456.5 162.0h25.6M456.5 182.6h25.6M450.3 192.7h25.6M450.3 210.6h25.6M453.0 173.4h25.6M453.0 191.0h25.6M452.7 154.7h25.6M452.7 172.8h25.6M461.8 180.7h25.6M461.8 199.1h25.6M457.1 157.7h25.6M457.1 177.3h25.6M448.0 162.6h25.6M448.0 180.0h25.6M464.0 180.6h25.6M464.0 200.0h25.6M456.1 180.5h25.6M456.1 198.7h25.6M444.2 158.6h25.6M444.2 178.8h25.6M448.6 167.0h25.6M448.6 187.0h25.6M455.5 169.5h25.6M455.5 187.2h25.6M449.0 185.4h25.6M449.0 203.5h25.6M454.8 171.5h25.6M454.8 188.6h25.6M461.9 169.8h25.6M461.9 188.5h25.6M453.2 163.7h25.6M453.2 182.6h25.6M455.1 177.3h25.6M455.1 198.1h25.6M455.2 186.7h25.6M455.2 205.6h25.6M452.0 190.8h25.6M452.0 209.0h25.6M448.1 175.3h25.6M448.1 192.8h25.6M444.5 172.9h25.6M444.5 192.5h25.6M441.3 180.0h25.6M441.3 200.6h25.6M442.6 163.2h25.6M442.6 183.0h25.6M456.9 188.4h25.6M456.9 208.1h25.6M464.8 162.9h25.6M464.8 182.9h25.6M455.5 167.4h25.6M455.5 187.3h25.6M462.2 175.6h25.6M462.2 195.4h25.6M450.9 188.6h25.6M450.9 207.1h25.6M456.4 176.7h25.6M456.4 195.7h25.6M464.1 181.3h25.6M464.1 200.6h25.6M458.7 182.0h25.6M458.7 200.4h25.6M448.4 178.0h25.6M448.4 195.6h25.6M461.3 184.1h25.6M461.3 203.6h25.6M459.5 188.0h25.6M459.5 207.8h25.6M454.7 163.6h25.6M454.7 181.3h25.6M461.4 178.4h25.6M461.4 196.3h25.6M445.6 171.6h25.6M445.6 191.2h25.6M460.0 172.1h25.6M460.0 190.1h25.6M457.8 156.9h25.6M457.8 174.5h25.6M449.9 176.2h25.6M449.9 193.3h25.6M443.7 181.8h25.6M443.7 200.5h25.6M451.8 171.9h25.6M451.8 189.6h25.6M456.7 154.2h25.6M456.7 173.9h25.6M461.2 165.9h25.6M461.2 183.5h25.6M452.5 148.6h25.6M452.5 167.2h25.6M436.0 173.0h25.6M436.0 193.0h25.6M470.8 157.5h25.6M470.8 177.5h25.6M449.6 193.7h25.6M449.6 214.9h25.6M457.2 197.0h25.6M457.2 215.0h25.6M506.7 179.4h25.6M506.7 196.1h25.6M510.3 179.2h25.6M510.3 198.9h25.6M499.1 183.3h25.6M499.1 203.2h25.6M505.0 182.4h25.6M505.0 200.1h25.6M507.3 182.8h25.6M507.3 202.2h25.6M504.1 184.2h25.6M504.1 202.5h25.6M499.3 184.8h25.6M499.3 201.8h25.6M500.1 186.3h25.6M500.1 205.0h25.6M499.0 187.1h25.6M499.0 204.6h25.6M503.5 191.9h25.6M503.5 208.5h25.6M501.4 189.2h25.6M501.4 208.3h25.6M512.9 191.3h25.6M512.9 208.0h25.6M508.6 190.0h25.6M508.6 209.8h25.6M501.3 195.9h25.6M501.3 212.7h25.6M509.3 196.1h25.6M509.3 213.4h25.6M507.2 196.0h25.6M507.2 215.2h25.6M511.9 195.4h25.6M511.9 214.8h25.6M503.7 198.8h25.6M503.7 216.4h25.6M505.9 197.8h25.6M505.9 216.3h25.6M507.9 198.2h25.6M507.9 218.0h25.6M508.6 199.6h25.6M508.6 216.8h25.6M503.4 200.9h25.6M503.4 218.0h25.6M513.6 204.4h25.6M513.6 220.8h25.6M504.7 204.6h25.6M504.7 223.4h25.6M509.2 205.8h25.6M509.2 224.6h25.6M510.9 207.5h25.6M510.9 224.0h25.6M509.1 208.3h25.6M509.1 227.1h25.6M508.0 213.3h25.6M508.0 230.5h25.6M513.4 213.3h25.6M513.4 231.4h25.6M510.6 208.3h25.6M510.6 226.5h25.6M513.3 213.2h25.6M513.3 231.5h25.6M514.6 210.5h25.6M514.6 228.7h25.6M517.2 216.0h25.6M517.2 233.6h25.6M511.6 217.2h25.6M511.6 236.0h25.6M510.7 218.2h25.6M510.7 235.1h25.6M518.0 216.7h25.6M518.0 236.2h25.6M518.8 219.5h25.6M518.8 237.0h25.6M518.2 219.1h25.6M518.2 238.2h25.6M509.6 226.3h25.6M509.6 244.8h25.6M520.1 230.0h25.6M520.1 247.8h25.6M516.8 227.7h25.6M516.8 245.6h25.6M515.4 234.3h25.6M515.4 252.4h25.6M503.8 178.5h25.6M503.8 196.5h25.6M515.4 230.0h25.6M515.4 249.0h25.6M542.5 187.2h25.6M542.5 206.2h25.6M538.5 205.1h25.6M538.5 221.1h25.6M541.9 207.6h25.6M541.9 225.0h25.6M547.2 206.6h25.6M547.2 226.0h25.6M549.5 213.2h25.6M549.5 230.4h25.6M549.3 215.0h25.6M549.3 231.6h25.6M539.5 217.2h25.6M539.5 233.6h25.6M540.2 217.7h25.6M540.2 235.9h25.6M543.2 216.1h25.6M543.2 233.7h25.6M545.6 220.7h25.6M545.6 239.2h25.6M539.9 221.9h25.6M539.9 239.5h25.6M540.5 221.3h25.6M540.5 239.4h25.6M549.4 226.1h25.6M549.4 243.7h25.6M551.5 224.8h25.6M551.5 242.0h25.6M545.1 228.0h25.6M545.1 244.1h25.6M549.8 230.8h25.6M549.8 247.9h25.6M548.8 227.5h25.6M548.8 246.5h25.6M549.7 232.3h25.6M549.7 249.7h25.6M545.7 233.9h25.6M545.7 253.0h25.6M551.8 235.7h25.6M551.8 251.9h25.6M542.2 231.7h25.6M542.2 250.5h25.6M544.1 234.9h25.6M544.1 254.2h25.6M548.7 240.0h25.6M548.7 256.9h25.6M544.4 243.4h25.6M544.4 260.9h25.6M551.5 240.3h25.6M551.5 257.3h25.6M551.3 242.2h25.6M551.3 259.9h25.6M551.0 238.7h25.6M551.0 258.4h25.6M552.1 240.1h25.6M552.1 258.9h25.6M549.5 245.9h25.6M549.5 262.3h25.6M548.2 249.0h25.6M548.2 268.0h25.6M613.1 276.4h25.6M613.1 296.0h25.6M612.3 259.6h25.6M612.3 278.6h25.6M609.9 263.8h25.6M609.9 283.3h25.6M595.5 266.4h25.6M595.5 285.9h25.6M606.9 264.2h25.6M606.9 280.7h25.6M599.4 259.0h25.6M599.4 278.9h25.6M607.3 260.4h25.6M607.3 280.0h25.6M608.6 260.5h25.6M608.6 279.1h25.6M595.8 267.6h25.6M595.8 285.7h25.6M596.7 272.8h25.6M596.7 288.9h25.6M599.5 274.4h25.6M599.5 292.0h25.6M611.1 268.2h25.6M611.1 286.1h25.6M608.2 253.6h25.6M608.2 269.6h25.6M615.8 273.3h25.6M615.8 290.1h25.6M610.5 279.1h25.6M610.5 298.4h25.6M609.3 267.5h25.6M609.3 286.0h25.6M599.2 264.6h25.6M599.2 284.1h25.6M603.2 260.0h25.6M603.2 278.1h25.6M613.1 277.5h25.6M613.1 297.5h25.6M605.2 268.2h25.6M605.2 286.9h25.6M597.6 263.2h25.6M597.6 280.7h25.6M608.6 263.4h25.6M608.6 280.7h25.6M599.3 272.3h25.6M599.3 289.5h25.6M603.7 261.4h25.6M603.7 277.8h25.6M606.6 262.1h25.6M606.6 280.4h25.6M602.0 266.8h25.6M602.0 283.3h25.6M611.4 265.2h25.6M611.4 282.0h25.6M609.8 269.8h25.6M609.8 288.3h25.6M616.7 261.7h25.6M616.7 281.4h25.6M604.7 280.3h25.6M604.7 300.2h25.6M604.3 266.2h25.6M604.3 285.8h25.6M606.3 254.3h25.6M606.3 273.6h25.6M601.1 262.2h25.6M601.1 279.5h25.6M611.0 261.8h25.6M611.0 279.6h25.6M614.4 264.4h25.6M614.4 284.0h25.6M615.4 266.2h25.6M615.4 283.1h25.6M615.8 269.0h25.6M615.8 286.4h25.6M596.5 266.8h25.6M596.5 283.0h25.6M609.0 264.3h25.6M609.0 281.4h25.6M600.0 273.9h25.6M600.0 293.5h25.6M595.4 268.7h25.6M595.4 285.0h25.6M602.1 267.2h25.6M602.1 286.8h25.6M609.3 262.1h25.6M609.3 280.9h25.6M612.4 271.6h25.6M612.4 289.1h25.6M611.8 263.5h25.6M611.8 280.9h25.6M601.6 256.0h25.6M601.6 273.4h25.6M600.2 261.1h25.6M600.2 278.7h25.6M612.0 270.4h25.6M612.0 289.9h25.6M601.3 278.8h25.6M601.3 298.8h25.6M603.9 279.6h25.6M603.9 298.5h25.6M600.2 265.7h25.6M600.2 282.8h25.6M615.1 258.1h25.6M615.1 277.6h25.6M601.3 278.2h25.6M601.3 297.3h25.6M611.3 259.6h25.6M611.3 278.5h25.6M609.0 261.5h25.6M609.0 281.4h25.6M612.0 250.8h25.6M612.0 268.2h25.6M595.6 255.0h25.6M595.6 273.0h25.6M597.2 281.0h25.6M597.2 299.0h25.6M620.1 282.3h25.6M620.1 302.8h25.6M619.8 282.4h25.6M619.8 303.2h25.6M621.0 282.6h25.6M621.0 303.5h25.6M623.0 280.3h25.6M623.0 300.1h25.6M620.5 284.0h25.6M620.5 300.2h25.6M625.5 286.5h25.6M625.5 305.0h25.6M624.2 289.8h25.6M624.2 306.8h25.6M625.7 292.0h25.6M625.7 309.7h25.6M630.9 292.3h25.6M630.9 308.5h25.6M628.1 293.5h25.6M628.1 313.6h25.6M630.8 297.7h25.6M630.8 315.2h25.6M631.2 295.3h25.6M631.2 314.7h25.6M631.3 292.7h25.6M631.3 314.5h25.6M632.9 296.3h25.6M632.9 313.7h25.6M630.0 300.8h25.6M630.0 318.5h25.6M631.5 301.5h25.6M631.5 319.0h25.6M635.5 303.1h25.6M635.5 319.5h25.6M635.7 298.3h25.6M635.7 317.7h25.6M632.6 303.0h25.6M632.6 322.3h25.6M636.4 299.7h25.6M636.4 319.3h25.6M638.3 307.6h25.6M638.3 329.4h25.6M643.0 312.2h25.6M643.0 331.6h25.6M643.3 312.8h25.6M643.3 332.5h25.6M642.9 312.5h25.6M642.9 333.8h25.6M642.3 316.3h25.6M642.3 337.6h25.6M643.3 314.2h25.6M643.3 333.3h25.6M643.5 314.5h25.6M643.5 334.1h25.6M645.4 316.0h25.6M645.4 334.2h25.6M644.9 315.0h25.6M644.9 343.0h25.6M656.5 314.0h25.6M656.5 336.0h25.6M670.0 305.8h25.6M670.0 329.0h25.6M679.7 321.0h25.6M679.7 345.0h25.6M664.2 327.2h25.6M664.2 358.0h25.6M677.2 322.0h25.6M677.2 354.0h25.6M643.6 315.8h25.6M643.6 343.6h25.6M658.2 316.7h25.6M658.2 338.7h25.6M673.6 320.6h25.6M673.6 342.6h25.6M663.9 328.4h25.6M663.9 358.0h25.6M679.4 322.4h25.6M679.4 354.4h25.6M706.4 357.3h25.6M706.4 376.7h25.6M723.8 378.1h25.6M723.8 399.1h25.6M731.5 380.5h25.6M731.5 402.5h25.6M740.2 372.6h25.6M740.2 391.0h25.6M735.4 385.3h25.6M735.4 409.3h25.6M743.2 381.4h25.6M743.2 405.4h25.6M760.5 381.5h25.6M760.5 403.5h25.6M766.3 386.3h25.6M766.3 408.3h25.6M727.2 384.0h25.6M727.2 404.0h25.6M770.2 404.7h25.6M770.2 424.7h25.6M774.1 415.3h25.6M774.1 435.3h25.6M778.9 426.0h25.6M778.9 446.0h25.6M787.6 433.2h25.6M787.6 454.2h25.6M795.3 437.0h25.6M795.3 458.0h25.6M801.1 439.5h25.6M801.1 458.5h25.6M834.0 452.9h25.6M834.0 478.9h25.6M842.7 456.7h25.6M842.7 486.7h25.6M863.9 457.8h25.6M863.9 479.8h25.6M861.0 473.3h25.6M861.0 493.3h25.6M851.4 478.6h25.6M851.4 507.4h25.6M869.3 490.8h25.6M869.3 518.2h25.6M880.3 516.2h25.6M880.3 543.2h25.6M893.9 524.3h25.6M893.9 554.3h25.6M903.5 520.5h25.6M903.5 548.5h25.6M914.2 517.2h25.6M914.2 538.2h25.6M926.3 534.6h25.6M926.3 563.7h25.6M941.8 543.4h25.6M941.8 580.2h25.6" fill="none" stroke="#1f77b4" stroke-width="2.60"/>
<g fill="#1f77b4">
<circle cx="179.7" cy="82.5" r="8.9"/>
<circle cx="179.3" cy="100.9" r="8.9"/>
<circle cx="248.9" cy="118.4" r="8.9"/>
<circle cx="215.3" cy="125.9" r="8.9"/>
<circle cx="227.8" cy="99.6" r="8.9"/>
<circle cx="213.0" cy="98.2" r="8.9"/>
<circle cx="267.3" cy="114.6" r="8.9"/>
<circle cx="199.8" cy="103.8" r="8.9"/>
<circle cx="261.2" cy="111.4" r="8.9"/>
<circle cx="273.0" cy="105.0" r="8.9"/>
<circle cx="205.4" cy="120.6" r="8.9"/>
<circle cx="221.1" cy="101.6" r="8.9"/>
<circle cx="262.1" cy="104.7" r="8.9"/>
<circle cx="237.1" cy="119.9" r="8.9"/>
<circle cx="226.6" cy="113.1" r="8.9"/>
<circle cx="231.6" cy="120.7" r="8.9"/>
<circle cx="234.9" cy="111.7" r="8.9"/>
<circle cx="269.7" cy="96.2" r="8.9"/>
<circle cx="227.8" cy="123.5" r="8.9"/>
<circle cx="256.7" cy="99.3" r="8.9"/>
<circle cx="217.7" cy="99.9" r="8.9"/>
<circle cx="243.4" cy="109.6" r="8.9"/>
<circle cx="257.6" cy="110.5" r="8.9"/>
<circle cx="275.2" cy="116.9" r="8.9"/>
<circle cx="250.0" cy="105.0" r="8.9"/>
<circle cx="197.3" cy="116.2" r="8.9"/>
<circle cx="230.8" cy="114.1" r="8.9"/>
<circle cx="221.5" cy="108.7" r="8.9"/>
<circle cx="248.5" cy="113.2" r="8.9"/>
<circle cx="261.8" cy="111.1" r="8.9"/>
<circle cx="203.5" cy="107.1" r="8.9"/>
<circle cx="233.4" cy="115.9" r="8.9"/>
<circle cx="266.1" cy="100.5" r="8.9"/>
<circle cx="190.8" cy="100.2" r="8.9"/>
<circle cx="243.8" cy="118.1" r="8.9"/>
<circle cx="264.1" cy="111.0" r="8.9"/>
<circle cx="237.6" cy="111.9" r="8.9"/>
<circle cx="241.9" cy="121.6" r="8.9"/>
<circle cx="203.7" cy="101.8" r="8.9"/>
<circle cx="181.3" cy="105.1" r="8.9"/>
<circle cx="205.8" cy="105.8" r="8.9"/>
<circle cx="233.2" cy="121.3" r="8.9"/>
<circle cx="244.5" cy="101.4" r="8.9"/>
<circle cx="216.2" cy="121.3" r="8.9"/>
<circle cx="212.5" cy="99.0" r="8.9"/>
<circle cx="216.0" cy="110.2" r="8.9"/>
<circle cx="243.1" cy="100.9" r="8.9"/>
<circle cx="199.9" cy="99.1" r="8.9"/>
<circle cx="247.4" cy="99.9" r="8.9"/>
<circle cx="270.6" cy="96.8" r="8.9"/>
<circle cx="273.8" cy="109.8" r="8.9"/>
<circle cx="217.3" cy="121.7" r="8.9"/>
<circle cx="207.1" cy="112.4" r="8.9"/>
<circle cx="230.0" cy="105.6" r="8.9"/>
<circle cx="214.2" cy="110.3" r="8.9"/>
<circle cx="207.8" cy="105.8" r="8.9"/>
<circle cx="202.8" cy="114.1" r="8.9"/>
<circle cx="263.8" cy="119.4" r="8.9"/>
<circle cx="240.6" cy="100.9" r="8.9"/>
<circle cx="188.2" cy="97.9" r="8.9"/>
<circle cx="209.9" cy="110.2" r="8.9"/>
<circle cx="240.7" cy="118.5" r="8.9"/>
<circle cx="239.2" cy="121.1" r="8.9"/>
<circle cx="215.0" cy="111.1" r="8.9"/>
<circle cx="186.5" cy="100.3" r="8.9"/>
<circle cx="226.6" cy="123.7" r="8.9"/>
<circle cx="251.6" cy="103.8" r="8.9"/>
<circle cx="192.9" cy="111.7" r="8.9"/>
<circle cx="234.9" cy="106.5" r="8.9"/>
<circle cx="250.7" cy="116.5" r="8.9"/>
<circle cx="257.9" cy="101.1" r="8.9"/>
<circle cx="222.6" cy="108.2" r="8.9"/>
<circle cx="215.5" cy="108.8" r="8.9"/>
<circle cx="223.3" cy="109.7" r="8.9"/>
<circle cx="263.6" cy="115.3" r="8.9"/>
<circle cx="209.6" cy="106.6" r="8.9"/>
<circle cx="234.6" cy="118.7" r="8.9"/>
<circle cx="247.2" cy="117.0" r="8.9"/>
<circle cx="266.7" cy="110.4" r="8.9"/>
<circle cx="219.8" cy="100.8" r="8.9"/>
<circle cx="274.5" cy="105.4" r="8.9"/>
<circle cx="210.2" cy="124.1" r="8.9"/>
<circle cx="204.6" cy="104.7" r="8.9"/>
<circle cx="267.3" cy="104.1" r="8.9"/>
<circle cx="265.4" cy="94.5" r="8.9"/>
<circle cx="245.5" cy="111.3" r="8.9"/>
<circle cx="277.6" cy="98.6" r="8.9"/>
<circle cx="194.6" cy="111.4" r="8.9"/>
<circle cx="266.7" cy="102.7" r="8.9"/>
<circle cx="274.4" cy="107.5" r="8.9"/>
<circle cx="257.0" cy="95.5" r="8.9"/>
<circle cx="194.1" cy="111.3" r="8.9"/>
<circle cx="271.9" cy="105.7" r="8.9"/>
<circle cx="251.5" cy="112.8" r="8.9"/>
<circle cx="270.1" cy="109.5" r="8.9"/>
<circle cx="249.8" cy="105.0" r="8.9"/>
<circle cx="225.3" cy="100.0" r="8.9"/>
<circle cx="237.1" cy="120.6" r="8.9"/>
<circle cx="280.6" cy="110.6" r="8.9"/>
<circle cx="215.8" cy="113.3" r="8.9"/>
<circle cx="246.0" cy="103.9" r="8.9"/>
<circle cx="187.8" cy="102.5" r="8.9"/>
<circle cx="210.1" cy="116.7" r="8.9"/>
<circle cx="206.8" cy="98.2" r="8.9"/>
<circle cx="206.0" cy="114.8" r="8.9"/>
<circle cx="225.4" cy="113.4" r="8.9"/>
<circle cx="273.8" cy="110.3" r="8.9"/>
<circle cx="183.2" cy="102.8" r="8.9"/>
<circle cx="274.5" cy="96.5" r="8.9"/>
<circle cx="265.6" cy="118.3" r="8.9"/>
<circle cx="259.8" cy="117.9" r="8.9"/>
<circle cx="268.2" cy="117.4" r="8.9"/>
<circle cx="248.8" cy="103.3" r="8.9"/>
<circle cx="242.0" cy="109.8" r="8.9"/>
<circle cx="267.7" cy="100.3" r="8.9"/>
<circle cx="252.3" cy="100.8" r="8.9"/>
<circle cx="219.8" cy="119.8" r="8.9"/>
<circle cx="233.0" cy="116.9" r="8.9"/>
<circle cx="210.0" cy="108.9" r="8.9"/>
<circle cx="241.4" cy="112.6" r="8.9"/>
<circle cx="209.4" cy="121.7" r="8.9"/>
<circle cx="263.7" cy="117.6" r="8.9"/>
<circle cx="265.5" cy="97.3" r="8.9"/>
<circle cx="215.4" cy="104.6" r="8.9"/>
<circle cx="251.6" cy="112.1" r="8.9"/>
<circle cx="226.7" cy="125.7" r="8.9"/>
<circle cx="259.7" cy="95.8" r="8.9"/>
<circle cx="213.2" cy="106.2" r="8.9"/>
<circle cx="213.0" cy="98.8" r="8.9"/>
<circle cx="271.6" cy="117.2" r="8.9"/>
<circle cx="223.9" cy="103.3" r="8.9"/>
<circle cx="277.2" cy="116.9" r="8.9"/>
<circle cx="279.0" cy="107.0" r="8.9"/>
<circle cx="242.2" cy="109.8" r="8.9"/>
<circle cx="269.3" cy="100.6" r="8.9"/>
<circle cx="258.7" cy="101.8" r="8.9"/>
<circle cx="271.7" cy="110.1" r="8.9"/>
<circle cx="239.3" cy="104.8" r="8.9"/>
<circle cx="231.7" cy="113.6" r="8.9"/>
<circle cx="237.6" cy="108.5" r="8.9"/>
<circle cx="251.9" cy="106.2" r="8.9"/>
<circle cx="273.1" cy="98.3" r="8.9"/>
<circle cx="260.8" cy="103.8" r="8.9"/>
<circle cx="235.1" cy="111.8" r="8.9"/>
<circle cx="231.0" cy="119.4" r="8.9"/>
<circle cx="213.7" cy="105.7" r="8.9"/>
<circle cx="182.2" cy="98.6" r="8.9"/>
<circle cx="281.1" cy="107.7" r="8.9"/>
<circle cx="271.9" cy="112.4" r="8.9"/>
<circle cx="205.2" cy="112.7" r="8.9"/>
<circle cx="225.5" cy="108.7" r="8.9"/>
<circle cx="265.0" cy="97.6" r="8.9"/>
<circle cx="259.3" cy="98.6" r="8.9"/>
<circle cx="195.8" cy="113.9" r="8.9"/>
<circle cx="275.3" cy="102.1" r="8.9"/>
<circle cx="264.1" cy="102.2" r="8.9"/>
<circle cx="219.3" cy="123.8" r="8.9"/>
<circle cx="213.2" cy="110.9" r="8.9"/>
<circle cx="233.5" cy="119.0" r="8.9"/>
<circle cx="260.8" cy="95.6" r="8.9"/>
<circle cx="264.1" cy="97.1" r="8.9"/>
<circle cx="205.1" cy="103.3" r="8.9"/>
<circle cx="200.6" cy="116.2" r="8.9"/>
<circle cx="197.7" cy="114.1" r="8.9"/>
<circle cx="201.3" cy="114.2" r="8.9"/>
<circle cx="261.2" cy="116.4" r="8.9"/>
<circle cx="254.9" cy="111.7" r="8.9"/>
<circle cx="187.6" cy="105.5" r="8.9"/>
<circle cx="225.0" cy="110.1" r="8.9"/>
<circle cx="220.6" cy="115.2" r="8.9"/>
<circle cx="184.6" cy="106.8" r="8.9"/>
<circle cx="230.7" cy="119.2" r="8.9"/>
<circle cx="262.3" cy="122.1" r="8.9"/>
<circle cx="270.8" cy="113.2" r="8.9"/>
<circle cx="259.8" cy="103.8" r="8.9"/>
<circle cx="260.5" cy="115.3" r="8.9"/>
<circle cx="242.3" cy="103.1" r="8.9"/>
<circle cx="268.3" cy="102.9" r="8.9"/>
<circle cx="245.3" cy="106.6" r="8.9"/>
<circle cx="247.9" cy="108.8" r="8.9"/>
<circle cx="202.1" cy="118.7" r="8.9"/>
<circle cx="215.7" cy="119.7" r="8.9"/>
<circle cx="272.9" cy="113.3" r="8.9"/>
<circle cx="233.6" cy="99.7" r="8.9"/>
<circle cx="217.3" cy="103.4" r="8.9"/>
<circle cx="270.4" cy="108.1" r="8.9"/>
<circle cx="248.2" cy="109.2" r="8.9"/>
<circle cx="271.1" cy="99.4" r="8.9"/>
<circle cx="199.0" cy="111.9" r="8.9"/>
<circle cx="270.6" cy="102.3" r="8.9"/>
<circle cx="227.3" cy="100.0" r="8.9"/>
<circle cx="272.3" cy="96.0" r="8.9"/>
<circle cx="248.8" cy="106.0" r="8.9"/>
<circle cx="280.5" cy="114.1" r="8.9"/>
<circle cx="232.1" cy="122.6" r="8.9"/>
<circle cx="260.2" cy="103.0" r="8.9"/>
<circle cx="239.3" cy="123.1" r="8.9"/>
<circle cx="250.9" cy="105.1" r="8.9"/>
<circle cx="232.8" cy="120.0" r="8.9"/>
<circle cx="258.3" cy="110.2" r="8.9"/>
<circle cx="197.0" cy="107.4" r="8.9"/>
<circle cx="242.1" cy="113.7" r="8.9"/>
<circle cx="246.3" cy="107.6" r="8.9"/>
<circle cx="257.9" cy="96.7" r="8.9"/>
<circle cx="196.4" cy="103.6" r="8.9"/>
<circle cx="269.7" cy="96.3" r="8.9"/>
<circle cx="224.2" cy="100.7" r="8.9"/>
<circle cx="226.7" cy="122.7" r="8.9"/>
<circle cx="250.1" cy="121.7" r="8.9"/>
<circle cx="268.3" cy="118.3" r="8.9"/>
<circle cx="197.7" cy="112.6" r="8.9"/>
<circle cx="205.0" cy="107.2" r="8.9"/>
<circle cx="288.5" cy="121.2" r="8.9"/>
<circle cx="302.0" cy="112.5" r="8.9"/>
<circle cx="310.7" cy="94.7" r="8.9"/>
<circle cx="320.3" cy="129.9" r="8.9"/>
<circle cx="332.0" cy="134.7" r="8.9"/>
<circle cx="339.7" cy="111.5" r="8.9"/>
<circle cx="343.7" cy="112.7" r="8.9"/>
<circle cx="341.4" cy="111.5" r="8.9"/>
<circle cx="346.3" cy="115.8" r="8.9"/>
<circle cx="348.9" cy="112.0" r="8.9"/>
<circle cx="350.7" cy="116.8" r="8.9"/>
<circle cx="354.5" cy="117.2" r="8.9"/>
<circle cx="353.6" cy="113.6" r="8.9"/>
<circle cx="353.0" cy="113.3" r="8.9"/>
<circle cx="357.3" cy="118.2" r="8.9"/>
<circle cx="356.3" cy="118.2" r="8.9"/>
<circle cx="355.2" cy="116.5" r="8.9"/>
<circle cx="356.9" cy="117.8" r="8.9"/>
<circle cx="358.7" cy="116.5" r="8.9"/>
<circle cx="358.9" cy="123.2" r="8.9"/>
<circle cx="360.1" cy="124.0" r="8.9"/>
<circle cx="358.2" cy="128.4" r="8.9"/>
<circle cx="360.5" cy="126.6" r="8.9"/>
<circle cx="358.3" cy="128.5" r="8.9"/>
<circle cx="359.0" cy="134.1" r="8.9"/>
<circle cx="360.2" cy="133.2" r="8.9"/>
<circle cx="359.5" cy="136.5" r="8.9"/>
<circle cx="358.3" cy="137.2" r="8.9"/>
<circle cx="361.0" cy="143.0" r="8.9"/>
<circle cx="362.0" cy="143.2" r="8.9"/>
<circle cx="359.6" cy="145.1" r="8.9"/>
<circle cx="359.9" cy="144.7" r="8.9"/>
<circle cx="359.5" cy="149.3" r="8.9"/>
<circle cx="361.5" cy="153.5" r="8.9"/>
<circle cx="360.9" cy="155.9" r="8.9"/>
<circle cx="463.4" cy="180.3" r="8.9"/>
<circle cx="453.8" cy="177.7" r="8.9"/>
<circle cx="472.9" cy="180.1" r="8.9"/>
<circle cx="460.8" cy="177.4" r="8.9"/>
<circle cx="457.7" cy="167.5" r="8.9"/>
<circle cx="465.4" cy="189.9" r="8.9"/>
<circle cx="476.8" cy="170.6" r="8.9"/>
<circle cx="466.8" cy="194.8" r="8.9"/>
<circle cx="461.8" cy="186.7" r="8.9"/>
<circle cx="464.8" cy="176.9" r="8.9"/>
<circle cx="466.5" cy="181.6" r="8.9"/>
<circle cx="463.6" cy="184.3" r="8.9"/>
<circle cx="457.4" cy="172.6" r="8.9"/>
<circle cx="464.3" cy="199.1" r="8.9"/>
<circle cx="454.2" cy="184.8" r="8.9"/>
<circle cx="473.8" cy="193.4" r="8.9"/>
<circle cx="471.2" cy="201.8" r="8.9"/>
<circle cx="467.4" cy="189.0" r="8.9"/>
<circle cx="461.7" cy="166.6" r="8.9"/>
<circle cx="474.5" cy="175.0" r="8.9"/>
<circle cx="458.1" cy="188.5" r="8.9"/>
<circle cx="469.6" cy="194.6" r="8.9"/>
<circle cx="472.8" cy="166.3" r="8.9"/>
<circle cx="460.6" cy="182.3" r="8.9"/>
<circle cx="464.5" cy="189.0" r="8.9"/>
<circle cx="468.3" cy="198.9" r="8.9"/>
<circle cx="461.5" cy="169.1" r="8.9"/>
<circle cx="463.3" cy="190.5" r="8.9"/>
<circle cx="471.1" cy="193.4" r="8.9"/>
<circle cx="471.9" cy="171.0" r="8.9"/>
<circle cx="463.2" cy="163.4" r="8.9"/>
<circle cx="456.7" cy="190.2" r="8.9"/>
<circle cx="454.9" cy="178.5" r="8.9"/>
<circle cx="459.5" cy="201.0" r="8.9"/>
<circle cx="455.7" cy="191.6" r="8.9"/>
<circle cx="466.0" cy="187.9" r="8.9"/>
<circle cx="461.6" cy="161.3" r="8.9"/>
<circle cx="468.1" cy="177.8" r="8.9"/>
<circle cx="456.1" cy="170.5" r="8.9"/>
<circle cx="457.4" cy="178.5" r="8.9"/>
<circle cx="469.0" cy="186.1" r="8.9"/>
<circle cx="469.3" cy="172.3" r="8.9"/>
<circle cx="463.1" cy="201.7" r="8.9"/>
<circle cx="465.8" cy="182.2" r="8.9"/>
<circle cx="465.5" cy="163.8" r="8.9"/>
<circle cx="474.6" cy="189.9" r="8.9"/>
<circle cx="469.9" cy="167.5" r="8.9"/>
<circle cx="460.8" cy="171.3" r="8.9"/>
<circle cx="476.8" cy="190.3" r="8.9"/>
<circle cx="468.9" cy="189.6" r="8.9"/>
<circle cx="457.0" cy="168.7" r="8.9"/>
<circle cx="461.4" cy="177.0" r="8.9"/>
<circle cx="468.3" cy="178.4" r="8.9"/>
<circle cx="461.8" cy="194.4" r="8.9"/>
<circle cx="467.6" cy="180.0" r="8.9"/>
<circle cx="474.7" cy="179.1" r="8.9"/>
<circle cx="466.0" cy="173.1" r="8.9"/>
<circle cx="467.9" cy="187.7" r="8.9"/>
<circle cx="468.0" cy="196.2" r="8.9"/>
<circle cx="464.8" cy="199.9" r="8.9"/>
<circle cx="460.9" cy="184.1" r="8.9"/>
<circle cx="457.3" cy="182.7" r="8.9"/>
<circle cx="454.1" cy="190.3" r="8.9"/>
<circle cx="455.4" cy="173.1" r="8.9"/>
<circle cx="469.7" cy="198.3" r="8.9"/>
<circle cx="477.6" cy="172.9" r="8.9"/>
<circle cx="468.3" cy="177.3" r="8.9"/>
<circle cx="475.0" cy="185.5" r="8.9"/>
<circle cx="463.7" cy="197.8" r="8.9"/>
<circle cx="469.2" cy="186.2" r="8.9"/>
<circle cx="476.9" cy="191.0" r="8.9"/>
<circle cx="471.5" cy="191.2" r="8.9"/>
<circle cx="461.2" cy="186.8" r="8.9"/>
<circle cx="474.1" cy="193.8" r="8.9"/>
<circle cx="472.3" cy="197.9" r="8.9"/>
<circle cx="467.5" cy="172.5" r="8.9"/>
<circle cx="474.2" cy="187.3" r="8.9"/>
<circle cx="458.4" cy="181.4" r="8.9"/>
<circle cx="472.8" cy="181.1" r="8.9"/>
<circle cx="470.6" cy="165.7" r="8.9"/>
<circle cx="462.7" cy="184.7" r="8.9"/>
<circle cx="456.5" cy="191.1" r="8.9"/>
<circle cx="464.6" cy="180.8" r="8.9"/>
<circle cx="469.5" cy="164.0" r="8.9"/>
<circle cx="474.0" cy="174.7" r="8.9"/>
<circle cx="465.3" cy="157.9" r="8.9"/>
<circle cx="448.8" cy="183.0" r="8.9"/>
<circle cx="483.6" cy="167.5" r="8.9"/>
<circle cx="462.4" cy="204.3" r="8.9"/>
<circle cx="470.0" cy="206.0" r="8.9"/>
<circle cx="519.5" cy="187.7" r="8.9"/>
<circle cx="523.1" cy="189.0" r="8.9"/>
<circle cx="511.9" cy="193.3" r="8.9"/>
<circle cx="517.8" cy="191.3" r="8.9"/>
<circle cx="520.1" cy="192.5" r="8.9"/>
<circle cx="516.9" cy="193.4" r="8.9"/>
<circle cx="512.1" cy="193.3" r="8.9"/>
<circle cx="512.9" cy="195.7" r="8.9"/>
<circle cx="511.8" cy="195.9" r="8.9"/>
<circle cx="516.3" cy="200.2" r="8.9"/>
<circle cx="514.2" cy="198.7" r="8.9"/>
<circle cx="525.7" cy="199.6" r="8.9"/>
<circle cx="521.4" cy="199.9" r="8.9"/>
<circle cx="514.1" cy="204.3" r="8.9"/>
<circle cx="522.1" cy="204.7" r="8.9"/>
<circle cx="520.0" cy="205.6" r="8.9"/>
<circle cx="524.7" cy="205.1" r="8.9"/>
<circle cx="516.5" cy="207.6" r="8.9"/>
<circle cx="518.7" cy="207.0" r="8.9"/>
<circle cx="520.7" cy="208.1" r="8.9"/>
<circle cx="521.4" cy="208.2" r="8.9"/>
<circle cx="516.2" cy="209.5" r="8.9"/>
<circle cx="526.4" cy="212.6" r="8.9"/>
<circle cx="517.5" cy="214.0" r="8.9"/>
<circle cx="522.0" cy="215.2" r="8.9"/>
<circle cx="523.7" cy="215.8" r="8.9"/>
<circle cx="521.9" cy="217.7" r="8.9"/>
<circle cx="520.8" cy="221.9" r="8.9"/>
<circle cx="526.2" cy="222.3" r="8.9"/>
<circle cx="523.4" cy="217.4" r="8.9"/>
<circle cx="526.1" cy="222.3" r="8.9"/>
<circle cx="527.4" cy="219.6" r="8.9"/>
<circle cx="530.0" cy="224.8" r="8.9"/>
<circle cx="524.4" cy="226.6" r="8.9"/>
<circle cx="523.5" cy="226.7" r="8.9"/>
<circle cx="530.8" cy="226.4" r="8.9"/>
<circle cx="531.6" cy="228.2" r="8.9"/>
<circle cx="531.0" cy="228.6" r="8.9"/>
<circle cx="522.4" cy="235.6" r="8.9"/>
<circle cx="532.9" cy="238.9" r="8.9"/>
<circle cx="529.6" cy="236.7" r="8.9"/>
<circle cx="528.2" cy="243.3" r="8.9"/>
<circle cx="516.6" cy="187.5" r="8.9"/>
<circle cx="528.2" cy="239.5" r="8.9"/>
<circle cx="555.3" cy="196.7" r="8.9"/>
<circle cx="551.3" cy="213.1" r="8.9"/>
<circle cx="554.7" cy="216.3" r="8.9"/>
<circle cx="560.0" cy="216.3" r="8.9"/>
<circle cx="562.3" cy="221.8" r="8.9"/>
<circle cx="562.1" cy="223.3" r="8.9"/>
<circle cx="552.3" cy="225.4" r="8.9"/>
<circle cx="553.0" cy="226.8" r="8.9"/>
<circle cx="556.0" cy="224.9" r="8.9"/>
<circle cx="558.4" cy="230.0" r="8.9"/>
<circle cx="552.7" cy="230.7" r="8.9"/>
<circle cx="553.3" cy="230.3" r="8.9"/>
<circle cx="562.2" cy="234.9" r="8.9"/>
<circle cx="564.3" cy="233.4" r="8.9"/>
<circle cx="557.9" cy="236.0" r="8.9"/>
<circle cx="562.6" cy="239.3" r="8.9"/>
<circle cx="561.6" cy="237.0" r="8.9"/>
<circle cx="562.5" cy="241.0" r="8.9"/>
<circle cx="558.5" cy="243.5" r="8.9"/>
<circle cx="564.6" cy="243.8" r="8.9"/>
<circle cx="555.0" cy="241.1" r="8.9"/>
<circle cx="556.9" cy="244.6" r="8.9"/>
<circle cx="561.5" cy="248.4" r="8.9"/>
<circle cx="557.2" cy="252.1" r="8.9"/>
<circle cx="564.3" cy="248.8" r="8.9"/>
<circle cx="564.1" cy="251.1" r="8.9"/>
<circle cx="563.8" cy="248.5" r="8.9"/>
<circle cx="564.9" cy="249.5" r="8.9"/>
<circle cx="562.3" cy="254.1" r="8.9"/>
<circle cx="561.0" cy="258.5" r="8.9"/>
<circle cx="625.9" cy="286.2" r="8.9"/>
<circle cx="625.1" cy="269.1" r="8.9"/>
<circle cx="622.7" cy="273.5" r="8.9"/>
<circle cx="608.3" cy="276.1" r="8.9"/>
<circle cx="619.7" cy="272.5" r="8.9"/>
<circle cx="612.2" cy="268.9" r="8.9"/>
<circle cx="620.1" cy="270.2" r="8.9"/>
<circle cx="621.4" cy="269.8" r="8.9"/>
<circle cx="608.6" cy="276.7" r="8.9"/>
<circle cx="609.5" cy="280.8" r="8.9"/>
<circle cx="612.3" cy="283.2" r="8.9"/>
<circle cx="623.9" cy="277.2" r="8.9"/>
<circle cx="621.0" cy="261.6" r="8.9"/>
<circle cx="628.6" cy="281.7" r="8.9"/>
<circle cx="623.3" cy="288.8" r="8.9"/>
<circle cx="622.1" cy="276.8" r="8.9"/>
<circle cx="612.0" cy="274.4" r="8.9"/>
<circle cx="616.0" cy="269.0" r="8.9"/>
<circle cx="625.9" cy="287.5" r="8.9"/>
<circle cx="618.0" cy="277.6" r="8.9"/>
<circle cx="610.4" cy="271.9" r="8.9"/>
<circle cx="621.4" cy="272.1" r="8.9"/>
<circle cx="612.1" cy="280.9" r="8.9"/>
<circle cx="616.5" cy="269.6" r="8.9"/>
<circle cx="619.4" cy="271.2" r="8.9"/>
<circle cx="614.8" cy="275.1" r="8.9"/>
<circle cx="624.2" cy="273.6" r="8.9"/>
<circle cx="622.6" cy="279.1" r="8.9"/>
<circle cx="629.5" cy="271.6" r="8.9"/>
<circle cx="617.5" cy="290.3" r="8.9"/>
<circle cx="617.1" cy="276.0" r="8.9"/>
<circle cx="619.1" cy="263.9" r="8.9"/>
<circle cx="613.9" cy="270.9" r="8.9"/>
<circle cx="623.8" cy="270.7" r="8.9"/>
<circle cx="627.2" cy="274.2" r="8.9"/>
<circle cx="628.2" cy="274.6" r="8.9"/>
<circle cx="628.6" cy="277.7" r="8.9"/>
<circle cx="609.3" cy="274.9" r="8.9"/>
<circle cx="621.8" cy="272.8" r="8.9"/>
<circle cx="612.8" cy="283.7" r="8.9"/>
<circle cx="608.2" cy="276.9" r="8.9"/>
<circle cx="614.9" cy="277.0" r="8.9"/>
<circle cx="622.1" cy="271.5" r="8.9"/>
<circle cx="625.2" cy="280.4" r="8.9"/>
<circle cx="624.6" cy="272.2" r="8.9"/>
<circle cx="614.4" cy="264.7" r="8.9"/>
<circle cx="613.0" cy="269.9" r="8.9"/>
<circle cx="624.8" cy="280.2" r="8.9"/>
<circle cx="614.1" cy="288.8" r="8.9"/>
<circle cx="616.7" cy="289.1" r="8.9"/>
<circle cx="613.0" cy="274.2" r="8.9"/>
<circle cx="627.9" cy="267.9" r="8.9"/>
<circle cx="614.1" cy="287.8" r="8.9"/>
<circle cx="624.1" cy="269.1" r="8.9"/>
<circle cx="621.8" cy="271.4" r="8.9"/>
<circle cx="624.8" cy="259.5" r="8.9"/>
<circle cx="608.4" cy="264.0" r="8.9"/>
<circle cx="610.0" cy="290.0" r="8.9"/>
<circle cx="632.9" cy="292.5" r="8.9"/>
<circle cx="632.6" cy="292.8" r="8.9"/>
<circle cx="633.8" cy="293.0" r="8.9"/>
<circle cx="635.8" cy="290.2" r="8.9"/>
<circle cx="633.3" cy="292.1" r="8.9"/>
<circle cx="638.3" cy="295.8" r="8.9"/>
<circle cx="637.0" cy="298.3" r="8.9"/>
<circle cx="638.5" cy="300.9" r="8.9"/>
<circle cx="643.7" cy="300.4" r="8.9"/>
<circle cx="640.9" cy="303.6" r="8.9"/>
<circle cx="643.6" cy="306.4" r="8.9"/>
<circle cx="644.0" cy="305.0" r="8.9"/>
<circle cx="644.1" cy="303.6" r="8.9"/>
<circle cx="645.7" cy="305.0" r="8.9"/>
<circle cx="642.8" cy="309.7" r="8.9"/>
<circle cx="644.3" cy="310.2" r="8.9"/>
<circle cx="648.3" cy="311.3" r="8.9"/>
<circle cx="648.5" cy="308.0" r="8.9"/>
<circle cx="645.4" cy="312.7" r="8.9"/>
<circle cx="649.2" cy="309.5" r="8.9"/>
<circle cx="651.1" cy="318.5" r="8.9"/>
<circle cx="655.8" cy="321.9" r="8.9"/>
<circle cx="656.1" cy="322.6" r="8.9"/>
<circle cx="655.7" cy="323.1" r="8.9"/>
<circle cx="655.1" cy="327.0" r="8.9"/>
<circle cx="656.1" cy="323.7" r="8.9"/>
<circle cx="656.3" cy="324.3" r="8.9"/>
<circle cx="658.2" cy="325.1" r="8.9"/>
<circle cx="657.7" cy="329.0" r="8.9"/>
<circle cx="669.3" cy="325.0" r="8.9"/>
<circle cx="682.8" cy="317.4" r="8.9"/>
<circle cx="692.5" cy="333.0" r="8.9"/>
<circle cx="677.0" cy="342.6" r="8.9"/>
<circle cx="690.0" cy="338.0" r="8.9"/>
<circle cx="656.4" cy="329.7" r="8.9"/>
<circle cx="671.0" cy="327.7" r="8.9"/>
<circle cx="686.4" cy="331.6" r="8.9"/>
<circle cx="676.7" cy="343.2" r="8.9"/>
<circle cx="692.2" cy="338.4" r="8.9"/>
<circle cx="719.2" cy="367.0" r="8.9"/>
<circle cx="736.6" cy="388.6" r="8.9"/>
<circle cx="744.3" cy="391.5" r="8.9"/>
<circle cx="753.0" cy="381.8" r="8.9"/>
<circle cx="748.2" cy="397.3" r="8.9"/>
<circle cx="756.0" cy="393.4" r="8.9"/>
<circle cx="773.3" cy="392.5" r="8.9"/>
<circle cx="779.1" cy="397.3" r="8.9"/>
<circle cx="740.0" cy="394.0" r="8.9"/>
<circle cx="783.0" cy="414.7" r="8.9"/>
<circle cx="786.9" cy="425.3" r="8.9"/>
<circle cx="791.7" cy="436.0" r="8.9"/>
<circle cx="800.4" cy="443.7" r="8.9"/>
<circle cx="808.1" cy="447.5" r="8.9"/>
<circle cx="813.9" cy="449.0" r="8.9"/>
<circle cx="846.8" cy="465.9" r="8.9"/>
<circle cx="855.5" cy="471.7" r="8.9"/>
<circle cx="876.7" cy="468.8" r="8.9"/>
<circle cx="873.8" cy="483.3" r="8.9"/>
<circle cx="864.2" cy="493.0" r="8.9"/>
<circle cx="882.1" cy="504.5" r="8.9"/>
<circle cx="893.1" cy="529.7" r="8.9"/>
<circle cx="906.7" cy="539.3" r="8.9"/>
<circle cx="916.3" cy="534.5" r="8.9"/>
<circle cx="927.0" cy="527.7" r="8.9"/>
<circle cx="939.1" cy="547.2" r="8.9"/>
<circle cx="954.6" cy="559.9" r="8.9"/>
</g>
<rect x="139.6" y="50.6" width="853.6" height="554.5" fill="none" stroke="#000" stroke-width="5.00"/>
<path d="M219.7 605.1v9.0M315.9 605.1v9.0M412.1 605.1v9.0M508.3 605.1v9.0M604.5 605.1v9.0M700.7 605.1v9.0M796.9 605.1v9.0M893.1 605.1v9.0M989.3 605.1v9.0M139.6 57.3h-9.0M139.6 166.2h-9.0M139.6 275.1h-9.0M139.6 384.0h-9.0M139.6 492.9h-9.0M139.6 601.8h-9.0" stroke="#000" stroke-width="2.00" fill="none"/>
<g class="tk" font-size="25.50" text-anchor="middle">
<text x="219.7" y="642.6">2.5</text>
<text x="315.9" y="642.6">3.0</text>
<text x="412.1" y="642.6">3.5</text>
<text x="508.3" y="642.6">4.0</text>
<text x="604.5" y="642.6">4.5</text>
<text x="700.7" y="642.6">5.0</text>
<text x="796.9" y="642.6">5.5</text>
<text x="893.1" y="642.6">6.0</text>
<text x="989.3" y="642.6">6.5</text>
</g>
<g class="tk" font-size="25.50" text-anchor="end">
<text x="121.4" y="66.6">−9</text>
<text x="121.4" y="175.5">−10</text>
<text x="121.4" y="284.4">−11</text>
<text x="121.4" y="393.3">−12</text>
<text x="121.4" y="502.2">−13</text>
<text x="121.4" y="611.1">−14</text>
</g>
<text class="tk" font-size="30.50" text-anchor="middle" x="566.4" y="35.7">GRB061121</text>
<g transform="translate(568.4 695.2)"><text class="lab" font-size="48.4"><tspan class="it" x="-171.84" y="0">log</tspan><tspan x="-98.06" y="7.94" font-size="33.88">10</tspan><tspan x="-53.63" y="0">(</tspan><tspan class="it" x="-34.75" y="0">time</tspan><tspan x="74.60" y="0">) (s)</tspan></text></g>
<g transform="translate(46.9 326.9) rotate(-90)"><text class="lab" font-size="48.4"><tspan class="it" x="-305.92" y="0">log</tspan><tspan x="-232.14" y="7.94" font-size="33.88">10</tspan><tspan x="-187.71" y="0">(</tspan><tspan class="it" x="-168.83" y="0">Flux</tspan><tspan x="-68.22" y="0">) (</tspan><tspan class="it" x="-15.07" y="0">erg</tspan><tspan class="it" x="81.04" y="0">cm</tspan><tspan x="157.05" y="-18.53" font-size="33.88">−2</tspan><tspan class="it" x="208.32" y="0">s</tspan><tspan x="235.79" y="-18.53" font-size="33.88">−1</tspan><tspan x="287.05" y="0">)</tspan></text></g>
<rect x="710.6" y="63.3" width="269.9" height="82.3" rx="5.1" fill="#fff" fill-opacity="0.8" stroke="#ccc" stroke-opacity="0.8" stroke-width="2.54"/>
<path d="M720.0 84.3H770.8" stroke="#ff0000" stroke-width="3.80" stroke-linecap="square" fill="none"/>
<path d="M745.4 108.9V134.3" stroke="#1f77b4" stroke-width="3.80" fill="none"/>
<path d="M732.6 108.9h25.6M732.6 134.3h25.6" stroke="#1f77b4" stroke-width="2.60" fill="none"/>
<circle cx="745.4" cy="121.6" r="8.9" fill="#1f77b4"/>
<text class="tk" font-size="25.40" x="791.9" y="93.5">Observed Fit</text>
<text class="tk" font-size="25.40" x="791.9" y="130.5">Trimmed Data</text>
</g>
<g>
<path d="M1236.5 106.4 L1245.4 106.5 L1254.2 106.7 L1263.1 106.9 L1272.0 107.0 L1280.9 107.2 L1289.7 107.4 L1298.6 107.5 L1307.5 107.7 L1316.4 107.9 L1325.2 108.0 L1334.1 108.2 L1343.0 108.4 L1351.9 108.6 L1360.7 108.8 L1369.6 109.0 L1378.5 109.1 L1387.4 109.3 L1396.2 109.6 L1405.1 109.8 L1414.0 110.0 L1422.9 110.3 L1431.7 110.5 L1440.6 110.9 L1449.5 111.2 L1458.4 111.6 L1467.2 112.0 L1476.1 112.5 L1485.0 113.1 L1493.9 113.7 L1502.7 114.5 L1511.6 115.4 L1520.5 116.5 L1529.3 117.8 L1538.2 119.3 L1547.1 121.1 L1556.0 123.1 L1564.8 125.5 L1573.7 128.3 L1582.6 131.5 L1591.5 135.1 L1600.3 139.1 L1609.2 143.6 L1618.1 148.5 L1627.0 153.8 L1635.8 159.4 L1644.7 165.4 L1653.6 171.8 L1662.5 178.4 L1671.3 185.2 L1680.2 192.2 L1689.1 199.4 L1698.0 206.8 L1706.8 214.2 L1715.7 221.8 L1724.6 229.5 L1733.5 237.2 L1742.3 244.9 L1751.2 252.8 L1760.1 260.6 L1768.9 268.5 L1777.8 276.4 L1786.7 284.3 L1795.6 292.2 L1804.4 300.2 L1813.3 308.1 L1822.2 316.1 L1831.1 324.1 L1839.9 332.0 L1848.8 340.0 L1857.7 348.0 L1866.6 356.0 L1875.4 364.0 L1884.3 371.9 L1893.2 379.9 L1902.1 387.9 L1910.9 395.9 L1919.8 403.9 L1928.7 411.9 L1937.6 419.9 L1946.4 427.9 L1955.3 435.9 L1964.2 443.9 L1973.1 451.9 L1981.9 459.8 L1990.8 467.8 L1999.7 475.8 L2008.6 483.8 L2017.4 491.8 L2026.3 499.8" fill="none" stroke="#ff0000" stroke-width="3.88" stroke-linecap="square" stroke-linejoin="round"/>
<path d="M1238.1 68.3V93.3M1248.6 69.4V91.8M1292.0 87.5V107.5M1301.0 88.5V108.5M1310.0 89.5V108.5M1316.0 88.0V108.0M1255.8 76.9V98.9M1262.6 91.1V117.5M1272.2 83.7V105.7M1279.0 93.1V117.5M1287.7 79.8V101.8M1295.4 81.8V103.8M1304.1 65.7V86.9M1310.9 78.3V99.5M1317.6 76.4V97.6M1326.3 78.3V99.5M1318.6 100.9V127.1M1422.5 75.7V95.1M1424.6 98.0V115.3M1429.0 97.1V117.3M1422.9 108.0V127.5M1429.9 100.7V121.6M1421.1 116.4V135.0M1429.0 92.5V109.7M1422.6 86.9V104.7M1433.2 101.9V122.4M1426.1 117.8V138.1M1425.4 82.1V101.0M1423.9 89.9V107.1M1423.6 109.6V126.9M1422.3 85.8V105.7M1426.8 84.5V102.2M1433.5 123.6V144.2M1427.6 108.8V129.0M1426.0 96.9V115.7M1430.4 116.6V137.5M1442.9 116.0V135.7M1422.0 82.9V101.4M1423.5 80.3V100.6M1424.0 121.8V141.1M1432.7 115.8V135.2M1425.0 93.7V111.8M1432.1 97.0V114.1M1441.8 105.2V123.9M1439.2 96.3V117.2M1432.0 113.3V132.4M1432.7 91.1V111.8M1427.5 84.3V103.1M1424.9 100.7V117.7M1427.1 105.4V123.7M1428.9 92.0V112.5M1442.5 98.0V115.2M1435.4 125.5V146.1M1418.9 107.2V125.5M1435.4 120.3V139.6M1424.8 87.8V108.6M1427.7 121.7V141.5M1430.3 105.1V124.8M1429.3 84.5V103.2M1430.2 89.5V108.3M1437.7 110.8V127.8M1432.0 123.8V143.2M1442.2 101.3V121.6M1440.0 129.5V146.7M1438.9 90.1V108.1M1430.4 104.7V122.2M1437.5 113.3V131.9M1434.7 111.3V130.3M1422.7 113.0V134.0M1420.1 103.2V123.1M1436.6 92.3V113.3M1437.1 94.8V114.9M1420.4 95.5V113.5M1432.8 100.9V121.1M1420.2 115.3V132.5M1429.7 124.0V142.9M1425.1 100.2V121.0M1429.8 84.7V101.8M1417.6 103.9V122.8M1429.5 114.2V134.1M1437.6 117.7V134.7M1422.9 107.4V126.1M1441.4 114.4V133.0M1428.6 103.2V123.1M1421.7 91.5V111.1M1439.2 90.9V111.6M1437.3 111.9V130.5M1424.4 102.1V122.2M1432.2 112.4V130.0M1442.0 115.6V135.4M1440.3 122.7V140.8M1438.9 103.8V123.9M1425.5 99.9V120.5M1434.6 133.3V153.7M1431.0 129.3V147.7M1484.3 88.3V105.7M1476.6 144.4V171.4M1480.5 129.3V151.6M1484.9 100.2V120.2M1483.8 118.4V141.9M1481.5 105.7V124.3M1486.1 112.7V131.8M1482.5 102.4V121.4M1481.0 117.9V141.8M1475.3 118.0V140.3M1487.6 118.3V139.1M1473.5 110.9V134.1M1473.7 115.5V139.2M1479.3 97.6V121.5M1486.2 103.3V123.6M1473.9 131.7V151.5M1474.3 137.0V159.3M1484.3 130.7V151.8M1474.7 125.9V147.2M1483.0 124.1V146.8M1485.2 124.4V147.6M1473.7 118.1V136.2M1477.2 103.7V122.1M1482.3 119.5V141.6M1477.7 104.0V126.9M1481.5 129.8V149.2M1475.2 112.8V136.2M1475.5 129.1V151.3M1477.4 125.0V148.6M1477.5 102.9V123.2M1476.5 109.4V131.8M1485.0 124.3V145.5M1484.1 107.7V131.3M1477.2 103.4V122.1M1478.8 126.3V146.1M1484.8 132.4V152.0M1481.2 125.0V143.8M1482.1 121.2V144.4M1479.4 95.8V117.1M1478.2 92.7V116.6M1486.6 92.5V115.5M1482.1 91.1V109.5M1477.6 132.3V155.0M1483.3 90.5V114.2M1483.6 121.5V144.1M1475.0 135.6V158.8M1482.6 134.7V155.5M1513.3 74.4V92.6M1511.4 131.4V159.2M1517.2 91.0V110.0M1513.9 98.3V121.5M1511.4 83.8V104.0M1507.7 85.4V105.7M1517.7 104.1V123.7M1508.2 88.3V109.5M1508.3 79.5V102.4M1514.0 108.6V128.1M1511.0 124.5V144.0M1511.1 80.3V100.7M1506.6 116.2V140.1M1506.5 93.3V117.0M1507.1 121.1V139.7M1511.5 117.5V140.2M1515.9 92.5V113.8M1515.0 96.5V117.5M1513.1 95.1V115.1M1517.9 105.4V126.1M1511.6 75.8V95.8M1511.5 78.6V96.7M1513.6 116.1V134.4M1512.1 84.8V108.3M1510.1 85.8V106.4M1509.7 81.7V104.4M1508.3 124.7V147.1M1516.7 114.2V137.5M1508.9 125.1V146.3M1517.5 100.9V120.9M1516.3 89.5V110.0M1516.2 95.9V117.8M1507.5 84.8V108.7M1508.0 85.2V103.3M1506.5 96.5V118.2M1510.1 102.6V123.0M1511.5 122.6V143.1M1515.2 122.7V143.2M1509.9 79.1V101.1M1515.9 110.7V130.3M1576.7 114.9V137.1M1698.5 210.1V230.1M1692.7 204.2V224.9M1563.3 107.9V128.5M1770.8 279.7V301.8M1764.3 247.4V267.7M1742.3 245.8V264.4M1693.2 211.8V230.7M1693.0 200.2V220.4M1764.7 263.9V285.9M1727.1 250.7V270.8M1673.6 165.5V187.3M1807.5 291.9V313.2M1697.3 168.9V191.0M1679.8 171.8V193.4M1690.9 162.0V180.4M1611.0 155.3V174.4M1692.6 166.6V187.3M1717.1 201.1V219.7M1706.5 168.7V187.1M1733.5 261.9V283.2M1683.9 184.8V207.5M1644.9 127.4V149.1M1595.0 123.7V143.3M1644.7 174.0V196.8M1807.7 305.7V325.3M1596.5 151.6V170.3M1583.5 113.1V131.4M1659.8 174.7V197.4M1773.8 268.5V288.6M1579.2 141.3V160.2M1806.1 285.8V305.5M1752.4 229.4V248.1M1855.1 331.9V350.7M1645.1 130.5V149.3M1623.8 123.9V143.7M1762.1 273.9V296.7M1604.9 130.0V150.5M1617.4 158.3V179.2M1662.3 157.4V176.4M1769.5 279.9V299.7M1755.3 284.4V304.0M1739.2 231.3V252.8M1672.9 163.7V182.6M1652.4 127.8V145.9M1777.7 283.7V301.9M1553.3 98.5V119.4M1754.1 249.5V271.4M1898.9 379.0V398.9M1561.1 118.9V137.7M1878.0 354.5V375.2M1795.1 281.8V302.8M1673.7 175.0V195.6M1690.5 224.0V243.4M1662.6 184.3V203.2M1711.9 214.2V233.1M1651.1 132.2V150.4M1611.7 116.9V136.4M1616.8 117.7V137.0M1647.0 138.2V157.1M1539.1 84.2V105.3M1818.8 326.5V347.1M1734.2 230.5V248.8M1659.5 182.5V203.1M1814.2 304.9V324.1M1675.8 191.7V209.7M1643.6 122.5V142.3M1609.5 116.7V134.9M1725.4 237.1V259.1M1858.0 329.6V351.7M1794.7 298.6V320.3M1736.4 234.9V255.5M1698.9 173.6V192.1M1796.2 285.8V304.4M1569.2 96.6V117.6M1653.1 169.7V189.3M1608.1 125.1V147.3M1750.5 257.3V275.7M1683.5 177.8V200.0M1563.8 111.9V132.7M1794.0 289.5V311.5M1565.6 120.7V141.6M1552.8 83.4V102.3M1579.0 122.3V144.4M1700.3 179.3V199.9M1797.9 271.0V290.3M1896.7 382.5V400.7M1625.8 143.7V165.5M1899.9 384.9V403.9M1665.4 142.5V165.1M1740.3 228.1V248.5M1791.6 286.4V308.6M1715.5 201.7V222.2M1697.4 224.1V243.2M1620.6 122.5V140.6M1744.7 246.6V268.2M1835.3 325.1V347.7M1596.9 140.2V161.5M1854.8 343.5V363.8M1788.5 278.1V297.9M1663.9 154.6V175.0M1695.0 201.4V222.5M1887.6 388.1V408.8M1895.3 351.7V372.6M1702.3 220.1V238.1M1765.1 253.6V272.8M1593.4 126.4V145.5M1698.9 175.2V194.5M1702.8 186.2V206.6M1640.3 167.5V187.8M1819.8 307.7V330.2M1760.5 255.1V273.5M1801.7 301.1V322.0M1847.8 327.0V349.6M1746.1 279.4V298.5M1720.4 239.7V261.3M1650.8 135.5V158.2M1805.6 297.7V316.8M1619.5 119.3V138.9M1798.8 274.1V294.4M1826.0 293.1V312.4M1630.9 166.5V185.7M1754.0 282.4V300.9M1873.2 357.2V378.1M1700.3 162.2V183.8M1764.1 278.3V301.3M1664.2 146.5V168.3M1852.0 343.8V365.3M1869.0 334.7V353.0M1738.9 238.2V258.2M1651.1 138.1V159.3M1740.6 209.0V229.1M1662.5 165.2V187.2M1810.2 298.6V318.3M1584.1 119.9V142.0M1630.3 173.3V191.7M1570.7 127.0V149.8M1551.1 109.4V131.3M1573.9 150.6V171.8M1556.3 118.1V138.1M1572.6 93.9V112.3M1737.8 231.7V252.6M1762.1 268.7V289.7M1591.9 146.6V168.4M1879.4 368.5V391.5M1794.2 284.6V305.8M1605.4 119.4V140.5M1872.0 368.3V387.9M1630.9 162.5V181.4M1652.3 162.5V183.0M1873.3 364.4V385.5M1759.9 249.4V270.3M1826.7 292.3V313.4M1622.6 135.2V157.9M1688.9 191.2V212.1M1597.2 139.9V160.1M1782.7 269.4V290.2M1665.3 161.2V179.6M1667.0 158.1V177.7M1609.8 124.8V147.7M1777.3 284.3V303.2M1868.3 330.3V348.9M1660.3 165.1V184.0M1678.9 179.7V202.6M1681.6 184.8V207.6M1721.9 253.0V271.1M1645.5 159.4V179.2M1803.8 310.6V332.9M1696.5 165.6V184.4M1623.0 145.8V166.7M1708.4 176.7V194.9M1555.1 118.2V139.8M1703.9 210.1V228.1M1692.1 167.7V187.7M1568.5 141.4V163.6M1871.4 363.7V382.9M1827.4 322.5V344.8M1791.6 309.2V331.4M1704.9 174.1V195.0M1854.0 335.3V355.1M1754.1 218.2V237.5M1898.8 382.0V403.7M1835.2 319.9V340.2M1662.9 149.9V168.1M1560.3 91.6V110.3M1789.5 272.5V293.1M1724.2 199.2V221.1M1749.4 280.7V302.6M1687.2 192.5V212.1M1814.0 291.4V310.7M1682.7 166.5V186.5M1743.7 251.4V274.2M1808.3 303.1V321.6M1868.2 351.9V371.6M1583.3 102.4V122.2M1651.6 184.8V205.1M1729.1 224.7V244.4M1743.0 278.3V300.6M1827.8 334.0V355.1M1567.5 110.2V131.4M1560.8 91.6V114.3M1715.0 218.4V238.9M1586.0 146.8V166.1M1629.4 158.9V179.0M1882.4 354.1V376.3M1551.7 112.6V131.8M1658.1 141.9V161.0M1881.8 364.3V385.7M1581.2 124.5V146.1M1721.7 214.3V232.6M1668.5 178.0V197.5M1813.4 321.5V339.6M1611.2 149.8V168.7M1725.7 210.8V230.3M1730.8 217.6V236.8M1751.3 223.0V242.0M1891.7 367.4V388.9M1676.4 176.6V197.0M1543.7 86.1V105.2M1798.2 298.2V317.0M1762.6 259.5V279.7M1549.5 82.3V102.3M1678.7 152.3V172.5M1870.4 350.7V370.2M1727.7 225.2V245.6M1546.9 106.3V124.5M1743.5 225.2V246.6M1536.6 94.9V115.5M1543.1 94.1V114.7M1739.3 244.7V263.1M1780.3 269.2V291.7M1708.3 202.5V221.5M1700.9 191.5V213.1M1691.7 187.0V206.7M1565.5 128.7V149.4M1616.8 120.9V143.6M1588.2 138.9V159.3M1796.3 291.3V313.1M1741.1 230.2V251.6M1614.4 141.0V161.9M1669.9 163.0V184.8M1574.0 95.6V114.6M1583.9 102.7V121.4M1843.8 319.8V338.2M1583.8 144.9V163.4M1815.4 315.9V335.4M1853.5 309.1V327.8M1538.8 119.8V140.5M1857.9 312.1V330.1M1571.8 144.9V166.7M1774.4 264.4V284.6M1871.7 356.8V377.8M1858.5 306.9V327.1M1567.9 138.5V159.5M1690.8 177.6V200.6M1570.0 142.2V161.3M1572.5 122.7V145.3M1774.6 282.3V302.3M1816.5 304.3V322.5M1619.8 151.6V172.8M1558.0 118.2V136.9M1856.8 354.5V375.3M1617.6 149.6V169.0M1840.2 310.4V332.0M1645.8 177.7V198.9M1783.3 276.4V297.2M1824.5 284.0V302.1M1748.7 233.7V252.9M1612.9 154.1V175.2M1704.5 210.3V228.7M1543.6 83.8V106.1M1834.2 311.3V331.5M1641.5 169.9V191.4M1603.6 132.5V151.0M1580.9 101.2V123.3M1741.1 214.8V236.2M1706.0 184.5V202.9M1569.1 114.6V134.0M1856.0 327.9V348.8M1592.1 113.9V133.1M1667.3 156.6V179.4M1737.8 208.9V230.0M1617.8 122.9V145.0M1831.3 316.4V337.0M1719.9 227.5V246.6M1861.2 332.3V350.3M1742.3 242.6V261.2M1842.3 335.2V356.3M1755.1 280.3V299.0M1881.2 376.6V396.8M1636.4 146.6V165.6M1586.3 128.7V146.9M1604.9 111.2V129.9M1570.6 116.3V134.8M1718.8 210.6V233.4M1645.5 160.2V182.4M1790.4 298.2V317.0M1804.3 291.6V313.1M1803.9 279.0V298.1M1874.3 348.6V369.3M1564.6 134.6V155.2M1666.3 175.5V198.2M1752.0 233.0V253.1M1807.1 295.4V314.2M1638.5 121.3V140.5M1571.5 136.8V157.3M1889.9 388.2V406.7M1856.1 355.7V375.6M1796.0 286.5V308.8M1860.8 349.0V369.7M1603.9 133.1V154.3M1852.5 333.0V355.3M1672.5 161.1V183.3M1577.3 107.2V129.2M1750.2 284.2V303.5M1674.8 159.6V178.7M1880.2 373.9V395.4M1594.1 126.6V149.1M1591.1 108.1V130.4M1561.4 93.5V114.6M1766.3 242.2V261.4M1716.0 190.6V209.4M1836.1 333.3V356.3M1609.3 115.6V138.3M1873.2 336.8V357.2M1837.7 301.0V319.4M1639.9 144.1V165.5M1755.0 254.5V273.2M1649.9 124.6V143.4M1670.5 167.8V186.8M1699.7 181.3V202.7M1817.8 295.3V315.0M1854.3 311.6V330.4M1810.0 310.7V331.9M1750.9 247.0V268.9M1733.7 225.6V248.3M1759.1 265.5V288.2M1646.8 165.9V188.4M1589.3 122.1V143.3M1628.0 144.0V163.5M1874.4 356.0V376.1M1895.0 376.7V395.9M1699.4 180.0V199.3M1892.2 349.8V370.3M1567.2 140.4V161.6M1552.4 81.8V103.8M1681.6 160.1V179.8M1892.3 372.3V390.9M1883.6 355.3V377.4M1817.0 295.2V317.0M1618.4 119.2V138.9M1886.8 369.0V390.1M1710.9 185.7V206.2M1813.3 284.7V302.8M1701.8 209.7V232.1M1591.6 123.7V145.4M1598.8 145.0V164.1M1601.0 152.3V171.2M1654.5 164.2V183.7M1795.3 278.0V296.5M1585.4 107.2V128.8M1578.8 98.5V120.6M1811.3 306.1V325.8M1606.4 135.6V155.7M1713.2 223.1V245.0M1665.1 181.6V202.6M1542.4 94.1V114.0M1584.3 141.0V160.0M1559.2 95.0V115.4M1709.0 216.6V239.6M1547.0 120.2V138.6M1652.0 126.4V145.2M1564.1 104.7V125.0M1849.8 356.5V375.4M1676.9 197.4V218.8M1677.0 176.2V196.9M1840.8 316.3V339.1M1764.8 276.5V296.4M1703.7 219.3V240.1M1590.7 153.8V172.3M1735.4 269.3V287.7M1576.5 126.0V145.4M1651.5 133.0V153.3M1548.3 105.6V124.7M1868.0 359.0V378.1M1599.4 125.8V145.3M1810.0 287.1V310.0M1626.4 146.4V166.1M1613.6 130.9V152.4M1616.6 155.3V174.1M1600.0 141.6V161.3M1795.9 308.5V328.3M1688.0 173.8V196.3M1669.0 181.3V201.3M1732.3 215.6V236.0M1716.7 210.4V230.8M1685.6 188.1V209.0M1895.9 352.1V370.1M1634.5 159.8V182.0M1616.5 130.1V149.3M1583.6 115.4V138.4M1649.5 145.8V167.7M1599.2 141.1V160.6M1756.8 248.7V271.3M1582.7 112.1V133.8M1797.3 302.3V323.9M1598.6 138.5V161.2M1699.7 171.6V192.8M1843.5 336.3V357.6M1775.7 278.2V297.6M1741.4 260.8V280.9M1636.6 132.1V151.9M1576.5 114.9V137.4M1673.8 150.0V169.0M1656.4 153.9V175.2M1602.2 118.0V137.3M1839.5 323.7V342.8M1700.0 181.9V201.4M1834.9 332.5V353.7M1705.8 182.8V204.0M1707.1 184.4V207.1M1576.3 149.9V170.7M1815.7 296.0V317.7M1845.2 345.8V365.5M1726.9 236.2V255.9M1654.5 186.2V206.8M1578.1 95.2V115.8M1856.0 347.9V366.4M1562.6 91.1V111.3M1753.7 246.1V264.5M1667.0 200.8V219.6M1693.6 172.0V190.9M1879.6 348.4V369.5M1723.3 196.6V219.2M1655.7 185.4V204.9M1594.0 151.8V171.9M1599.5 117.2V136.4M1870.3 369.0V390.1M1744.8 206.8V225.0M1739.4 270.1V290.9M1749.9 258.0V280.5M1725.9 237.6V258.6M1681.1 201.4V220.9M1632.0 137.3V157.7M1735.3 237.9V257.7M1879.4 342.0V364.0M1817.3 295.6V314.8M1839.8 323.5V343.6M1797.0 294.4V316.7M1676.5 203.6V223.7M1703.3 172.1V194.5M1766.1 269.5V289.5M1679.0 206.4V227.7M1729.0 204.3V224.8M1735.3 249.5V268.0M1819.7 302.8V322.2M1767.0 238.4V258.9M1574.1 105.3V126.9M1637.4 120.7V142.6M1797.7 291.5V314.2M1536.3 78.2V100.7M1654.9 170.7V190.8M1625.2 150.2V172.7M1885.5 370.2V391.8M1885.7 382.6V404.8M1790.7 279.5V300.6M1859.4 327.8V350.7M1859.5 341.6V362.7M1789.2 278.7V296.9M1622.9 150.2V169.4M1743.8 262.3V282.4M1648.1 126.4V148.2M1721.8 232.6V252.7M1616.8 157.1V178.7M1823.3 292.0V312.4M1652.2 184.5V203.9M1748.7 247.7V266.1M1818.7 322.9V342.2M1771.9 280.1V299.9M1625.2 120.7V141.7M1658.0 171.3V192.2M1863.1 331.9V351.0M1643.1 144.3V164.9M1708.9 180.7V201.6M1747.4 264.0V286.1M1788.7 288.6V309.8M1767.1 278.1V297.9M1630.2 138.6V156.7M1537.4 105.5V127.3M1580.9 119.7V141.6M1762.8 250.7V272.8M1559.2 95.7V118.0M1650.1 121.8V141.5M1765.7 235.6V257.2M1675.6 188.8V208.3M1882.8 377.0V397.5M1743.4 259.0V280.7M1554.5 121.2V139.9M1744.9 250.1V270.5M1565.5 102.9V122.5M1625.7 148.3V168.9M1896.2 368.5V389.2M1642.3 157.6V179.0M1652.9 157.2V176.7M1797.7 291.4V312.4M1646.2 157.2V176.1M1767.4 286.2V304.3M1850.8 324.2V346.0M1753.2 231.8V252.0M1853.7 336.5V356.3M1628.0 150.4V171.2M1588.6 143.8V161.8M1817.0 303.4V326.0M1702.3 164.4V186.5M1702.2 225.5V246.3M1870.0 350.2V368.3M1663.5 203.6V225.0M1650.4 131.6V152.3M1852.3 341.3V363.5M1655.4 147.5V167.0M1563.5 118.0V139.3M1583.8 105.2V124.6M1821.7 311.4V330.0M1574.4 105.2V127.8M1658.6 158.1V178.8M1647.7 175.0V194.7M1664.9 143.2V163.4M1702.5 207.1V225.7M1729.1 234.4V255.8M1538.2 122.1V141.8M1865.2 338.3V360.8M1648.3 134.9V154.3M1747.9 227.4V245.8M1596.0 146.6V165.2M1705.3 217.7V240.0M1676.5 191.3V214.0M1678.7 196.2V219.0M1607.0 117.4V138.5M1671.3 168.5V190.7M1894.5 373.8V396.2M1877.5 331.3V350.4M1763.9 275.4V295.5M1760.5 243.3V266.2M1656.8 175.8V196.9M1767.0 275.6V296.7M1833.1 323.1V343.3M1703.3 172.8V193.9M1740.8 274.1V292.2M1796.7 290.1V311.9M1834.2 311.8V331.4M1753.7 225.2V243.4M1867.8 347.3V366.3M1653.8 132.0V155.0M1753.7 244.9V266.8M1829.0 307.1V329.1M1731.3 239.8V262.2M1582.2 149.8V171.3M1651.0 164.2V183.3M1700.2 200.2V220.2M1721.4 210.5V229.2M1604.6 114.2V136.7M1547.6 86.0V104.1M1567.4 138.3V156.5M1793.1 291.5V313.0M1652.1 149.3V169.0M1571.5 115.8V136.3M1661.5 144.0V162.3M1670.5 204.9V225.4M1868.1 337.8V357.0M1550.8 89.4V109.6M1745.4 261.4V281.7M1739.2 229.2V247.2M1730.3 207.3V226.0M1766.4 249.6V267.9M1566.6 106.7V127.9M1537.1 78.1V100.9M1690.6 216.9V236.7M1809.0 300.5V319.6M1688.6 190.4V209.8M1834.5 304.4V325.3M1746.9 271.7V292.2M1682.9 166.5V189.3M1735.8 263.3V284.4M1831.2 321.1V340.6M1688.8 184.4V205.6M1768.1 241.9V263.6M1717.0 225.1V243.6M1675.3 174.7V196.3M1746.2 278.5V297.3M1646.6 139.1V161.2M1869.7 357.6V378.0M1691.9 163.2V182.2M1717.1 216.1V236.7M1734.5 236.6V255.0M1540.4 123.1V142.4M1626.9 169.7V188.4M1572.9 123.9V142.2M1749.6 213.5V233.0M1733.9 209.5V228.1M1589.1 116.1V138.4M1649.4 146.4V168.6M1859.1 318.6V341.6M1745.9 280.2V301.5M1698.6 206.3V225.7M1709.1 195.5V216.7M1819.3 309.5V332.1M1685.5 192.9V214.1M1817.1 321.1V341.6M1759.0 240.1V262.4M1692.3 166.9V186.7M1838.3 309.1V328.8M1599.6 104.1V124.6M1598.2 152.0V172.4M1605.1 112.1V133.3M1770.7 244.5V265.2M1820.0 299.3V321.6M1848.2 329.2V352.0M1799.6 301.9V323.9M1739.3 273.4V292.6M1733.0 234.9V254.1M1812.7 306.2V328.6M1582.9 148.1V167.1M1579.3 123.8V145.8M1626.0 126.3V145.8M1747.3 224.4V243.8M1784.5 289.9V310.8M1884.0 364.0V386.0M1842.7 310.0V328.2M1848.9 329.9V351.5M1633.8 146.3V169.3M1667.4 181.7V203.5M1677.6 161.3V180.9M1573.9 141.6V161.8M1543.6 98.9V117.9M1691.3 225.0V243.6M1801.8 304.2V325.6M1618.7 127.6V149.0M1805.5 295.8V316.5M1812.0 287.1V307.5M1582.4 151.2V171.0M1543.3 83.7V104.6M1553.5 88.4V107.3M1547.0 82.6V101.7M1541.3 89.0V110.1M1551.5 79.0V99.9M1548.2 87.6V109.1M1548.3 91.7V111.5M1550.9 82.1V102.7M1547.1 95.2V113.7M1549.1 94.2V112.3M1534.6 68.0V87.4M1908.0 387.0V405.0M1908.9 400.7V432.7M1934.0 401.4V424.4M1932.0 416.4V438.4M1939.7 429.8V451.8M1943.6 440.4V464.4M1944.6 446.2V477.8M1957.1 385.4V409.6M1959.9 398.1V420.1M1964.8 410.6V432.6M1959.0 422.1V444.1M1953.2 433.7V455.7M1960.9 443.3V465.3M1967.6 455.7V483.7M1978.2 441.2V465.4M1973.4 481.2V517.8M1986.9 468.4V494.0M1992.7 472.2V513.4M1936.0 409.0V431.0M1962.0 404.0V426.0M1941.0 436.0V458.0M1957.0 430.0V452.0M2020.6 500.5V531.3M2015.2 515.0V543.0M2008.1 535.5V578.0M2026.3 530.9V577.1" fill="none" stroke="#1f77b4" stroke-width="3.88"/>
<path d="M1225.0 68.3h26.1M1225.0 93.3h26.1M1235.5 69.4h26.1M1235.5 91.8h26.1M1278.9 87.5h26.1M1278.9 107.5h26.1M1287.9 88.5h26.1M1287.9 108.5h26.1M1296.9 89.5h26.1M1296.9 108.5h26.1M1302.9 88.0h26.1M1302.9 108.0h26.1M1242.7 76.9h26.1M1242.7 98.9h26.1M1249.5 91.1h26.1M1249.5 117.5h26.1M1259.1 83.7h26.1M1259.1 105.7h26.1M1265.9 93.1h26.1M1265.9 117.5h26.1M1274.6 79.8h26.1M1274.6 101.8h26.1M1282.3 81.8h26.1M1282.3 103.8h26.1M1291.0 65.7h26.1M1291.0 86.9h26.1M1297.8 78.3h26.1M1297.8 99.5h26.1M1304.5 76.4h26.1M1304.5 97.6h26.1M1313.2 78.3h26.1M1313.2 99.5h26.1M1305.5 100.9h26.1M1305.5 127.1h26.1M1409.4 75.7h26.1M1409.4 95.1h26.1M1411.5 98.0h26.1M1411.5 115.3h26.1M1416.0 97.1h26.1M1416.0 117.3h26.1M1409.8 108.0h26.1M1409.8 127.5h26.1M1416.8 100.7h26.1M1416.8 121.6h26.1M1408.0 116.4h26.1M1408.0 135.0h26.1M1416.0 92.5h26.1M1416.0 109.7h26.1M1409.6 86.9h26.1M1409.6 104.7h26.1M1420.1 101.9h26.1M1420.1 122.4h26.1M1413.1 117.8h26.1M1413.1 138.1h26.1M1412.4 82.1h26.1M1412.4 101.0h26.1M1410.9 89.9h26.1M1410.9 107.1h26.1M1410.6 109.6h26.1M1410.6 126.9h26.1M1409.2 85.8h26.1M1409.2 105.7h26.1M1413.7 84.5h26.1M1413.7 102.2h26.1M1420.4 123.6h26.1M1420.4 144.2h26.1M1414.6 108.8h26.1M1414.6 129.0h26.1M1412.9 96.9h26.1M1412.9 115.7h26.1M1417.4 116.6h26.1M1417.4 137.5h26.1M1429.8 116.0h26.1M1429.8 135.7h26.1M1408.9 82.9h26.1M1408.9 101.4h26.1M1410.4 80.3h26.1M1410.4 100.6h26.1M1411.0 121.8h26.1M1411.0 141.1h26.1M1419.7 115.8h26.1M1419.7 135.2h26.1M1411.9 93.7h26.1M1411.9 111.8h26.1M1419.0 97.0h26.1M1419.0 114.1h26.1M1428.7 105.2h26.1M1428.7 123.9h26.1M1426.2 96.3h26.1M1426.2 117.2h26.1M1418.9 113.3h26.1M1418.9 132.4h26.1M1419.6 91.1h26.1M1419.6 111.8h26.1M1414.4 84.3h26.1M1414.4 103.1h26.1M1411.9 100.7h26.1M1411.9 117.7h26.1M1414.0 105.4h26.1M1414.0 123.7h26.1M1415.8 92.0h26.1M1415.8 112.5h26.1M1429.5 98.0h26.1M1429.5 115.2h26.1M1422.4 125.5h26.1M1422.4 146.1h26.1M1405.8 107.2h26.1M1405.8 125.5h26.1M1422.4 120.3h26.1M1422.4 139.6h26.1M1411.7 87.8h26.1M1411.7 108.6h26.1M1414.6 121.7h26.1M1414.6 141.5h26.1M1417.3 105.1h26.1M1417.3 124.8h26.1M1416.3 84.5h26.1M1416.3 103.2h26.1M1417.1 89.5h26.1M1417.1 108.3h26.1M1424.6 110.8h26.1M1424.6 127.8h26.1M1419.0 123.8h26.1M1419.0 143.2h26.1M1429.1 101.3h26.1M1429.1 121.6h26.1M1426.9 129.5h26.1M1426.9 146.7h26.1M1425.9 90.1h26.1M1425.9 108.1h26.1M1417.3 104.7h26.1M1417.3 122.2h26.1M1424.4 113.3h26.1M1424.4 131.9h26.1M1421.6 111.3h26.1M1421.6 130.3h26.1M1409.6 113.0h26.1M1409.6 134.0h26.1M1407.0 103.2h26.1M1407.0 123.1h26.1M1423.6 92.3h26.1M1423.6 113.3h26.1M1424.0 94.8h26.1M1424.0 114.9h26.1M1407.3 95.5h26.1M1407.3 113.5h26.1M1419.7 100.9h26.1M1419.7 121.1h26.1M1407.2 115.3h26.1M1407.2 132.5h26.1M1416.7 124.0h26.1M1416.7 142.9h26.1M1412.1 100.2h26.1M1412.1 121.0h26.1M1416.8 84.7h26.1M1416.8 101.8h26.1M1404.5 103.9h26.1M1404.5 122.8h26.1M1416.4 114.2h26.1M1416.4 134.1h26.1M1424.5 117.7h26.1M1424.5 134.7h26.1M1409.8 107.4h26.1M1409.8 126.1h26.1M1428.3 114.4h26.1M1428.3 133.0h26.1M1415.6 103.2h26.1M1415.6 123.1h26.1M1408.7 91.5h26.1M1408.7 111.1h26.1M1426.1 90.9h26.1M1426.1 111.6h26.1M1424.3 111.9h26.1M1424.3 130.5h26.1M1411.3 102.1h26.1M1411.3 122.2h26.1M1419.1 112.4h26.1M1419.1 130.0h26.1M1429.0 115.6h26.1M1429.0 135.4h26.1M1427.2 122.7h26.1M1427.2 140.8h26.1M1425.8 103.8h26.1M1425.8 123.9h26.1M1412.5 99.9h26.1M1412.5 120.5h26.1M1421.5 133.3h26.1M1421.5 153.7h26.1M1417.9 129.3h26.1M1417.9 147.7h26.1M1471.2 88.3h26.1M1471.2 105.7h26.1M1463.5 144.4h26.1M1463.5 171.4h26.1M1467.4 129.3h26.1M1467.4 151.6h26.1M1471.8 100.2h26.1M1471.8 120.2h26.1M1470.8 118.4h26.1M1470.8 141.9h26.1M1468.4 105.7h26.1M1468.4 124.3h26.1M1473.0 112.7h26.1M1473.0 131.8h26.1M1469.4 102.4h26.1M1469.4 121.4h26.1M1467.9 117.9h26.1M1467.9 141.8h26.1M1462.2 118.0h26.1M1462.2 140.3h26.1M1474.5 118.3h26.1M1474.5 139.1h26.1M1460.5 110.9h26.1M1460.5 134.1h26.1M1460.7 115.5h26.1M1460.7 139.2h26.1M1466.2 97.6h26.1M1466.2 121.5h26.1M1473.2 103.3h26.1M1473.2 123.6h26.1M1460.9 131.7h26.1M1460.9 151.5h26.1M1461.3 137.0h26.1M1461.3 159.3h26.1M1471.3 130.7h26.1M1471.3 151.8h26.1M1461.7 125.9h26.1M1461.7 147.2h26.1M1469.9 124.1h26.1M1469.9 146.8h26.1M1472.2 124.4h26.1M1472.2 147.6h26.1M1460.7 118.1h26.1M1460.7 136.2h26.1M1464.1 103.7h26.1M1464.1 122.1h26.1M1469.2 119.5h26.1M1469.2 141.6h26.1M1464.7 104.0h26.1M1464.7 126.9h26.1M1468.4 129.8h26.1M1468.4 149.2h26.1M1462.1 112.8h26.1M1462.1 136.2h26.1M1462.4 129.1h26.1M1462.4 151.3h26.1M1464.4 125.0h26.1M1464.4 148.6h26.1M1464.4 102.9h26.1M1464.4 123.2h26.1M1463.4 109.4h26.1M1463.4 131.8h26.1M1471.9 124.3h26.1M1471.9 145.5h26.1M1471.0 107.7h26.1M1471.0 131.3h26.1M1464.2 103.4h26.1M1464.2 122.1h26.1M1465.7 126.3h26.1M1465.7 146.1h26.1M1471.8 132.4h26.1M1471.8 152.0h26.1M1468.2 125.0h26.1M1468.2 143.8h26.1M1469.0 121.2h26.1M1469.0 144.4h26.1M1466.4 95.8h26.1M1466.4 117.1h26.1M1465.2 92.7h26.1M1465.2 116.6h26.1M1473.5 92.5h26.1M1473.5 115.5h26.1M1469.1 91.1h26.1M1469.1 109.5h26.1M1464.6 132.3h26.1M1464.6 155.0h26.1M1470.3 90.5h26.1M1470.3 114.2h26.1M1470.5 121.5h26.1M1470.5 144.1h26.1M1461.9 135.6h26.1M1461.9 158.8h26.1M1469.6 134.7h26.1M1469.6 155.5h26.1M1500.2 74.4h26.1M1500.2 92.6h26.1M1498.3 131.4h26.1M1498.3 159.2h26.1M1504.1 91.0h26.1M1504.1 110.0h26.1M1500.9 98.3h26.1M1500.9 121.5h26.1M1498.3 83.8h26.1M1498.3 104.0h26.1M1494.6 85.4h26.1M1494.6 105.7h26.1M1504.7 104.1h26.1M1504.7 123.7h26.1M1495.2 88.3h26.1M1495.2 109.5h26.1M1495.2 79.5h26.1M1495.2 102.4h26.1M1501.0 108.6h26.1M1501.0 128.1h26.1M1497.9 124.5h26.1M1497.9 144.0h26.1M1498.1 80.3h26.1M1498.1 100.7h26.1M1493.5 116.2h26.1M1493.5 140.1h26.1M1493.4 93.3h26.1M1493.4 117.0h26.1M1494.0 121.1h26.1M1494.0 139.7h26.1M1498.4 117.5h26.1M1498.4 140.2h26.1M1502.9 92.5h26.1M1502.9 113.8h26.1M1502.0 96.5h26.1M1502.0 117.5h26.1M1500.0 95.1h26.1M1500.0 115.1h26.1M1504.8 105.4h26.1M1504.8 126.1h26.1M1498.6 75.8h26.1M1498.6 95.8h26.1M1498.4 78.6h26.1M1498.4 96.7h26.1M1500.6 116.1h26.1M1500.6 134.4h26.1M1499.1 84.8h26.1M1499.1 108.3h26.1M1497.1 85.8h26.1M1497.1 106.4h26.1M1496.6 81.7h26.1M1496.6 104.4h26.1M1495.3 124.7h26.1M1495.3 147.1h26.1M1503.6 114.2h26.1M1503.6 137.5h26.1M1495.8 125.1h26.1M1495.8 146.3h26.1M1504.4 100.9h26.1M1504.4 120.9h26.1M1503.3 89.5h26.1M1503.3 110.0h26.1M1503.2 95.9h26.1M1503.2 117.8h26.1M1494.4 84.8h26.1M1494.4 108.7h26.1M1495.0 85.2h26.1M1495.0 103.3h26.1M1493.4 96.5h26.1M1493.4 118.2h26.1M1497.1 102.6h26.1M1497.1 123.0h26.1M1498.5 122.6h26.1M1498.5 143.1h26.1M1502.1 122.7h26.1M1502.1 143.2h26.1M1496.9 79.1h26.1M1496.9 101.1h26.1M1502.8 110.7h26.1M1502.8 130.3h26.1M1563.7 114.9h26.1M1563.7 137.1h26.1M1685.4 210.1h26.1M1685.4 230.1h26.1M1679.6 204.2h26.1M1679.6 224.9h26.1M1550.2 107.9h26.1M1550.2 128.5h26.1M1757.7 279.7h26.1M1757.7 301.8h26.1M1751.2 247.4h26.1M1751.2 267.7h26.1M1729.2 245.8h26.1M1729.2 264.4h26.1M1680.1 211.8h26.1M1680.1 230.7h26.1M1679.9 200.2h26.1M1679.9 220.4h26.1M1751.7 263.9h26.1M1751.7 285.9h26.1M1714.1 250.7h26.1M1714.1 270.8h26.1M1660.6 165.5h26.1M1660.6 187.3h26.1M1794.5 291.9h26.1M1794.5 313.2h26.1M1684.2 168.9h26.1M1684.2 191.0h26.1M1666.8 171.8h26.1M1666.8 193.4h26.1M1677.9 162.0h26.1M1677.9 180.4h26.1M1597.9 155.3h26.1M1597.9 174.4h26.1M1679.6 166.6h26.1M1679.6 187.3h26.1M1704.1 201.1h26.1M1704.1 219.7h26.1M1693.4 168.7h26.1M1693.4 187.1h26.1M1720.4 261.9h26.1M1720.4 283.2h26.1M1670.8 184.8h26.1M1670.8 207.5h26.1M1631.8 127.4h26.1M1631.8 149.1h26.1M1582.0 123.7h26.1M1582.0 143.3h26.1M1631.7 174.0h26.1M1631.7 196.8h26.1M1794.7 305.7h26.1M1794.7 325.3h26.1M1583.4 151.6h26.1M1583.4 170.3h26.1M1570.5 113.1h26.1M1570.5 131.4h26.1M1646.8 174.7h26.1M1646.8 197.4h26.1M1760.7 268.5h26.1M1760.7 288.6h26.1M1566.2 141.3h26.1M1566.2 160.2h26.1M1793.1 285.8h26.1M1793.1 305.5h26.1M1739.4 229.4h26.1M1739.4 248.1h26.1M1842.1 331.9h26.1M1842.1 350.7h26.1M1632.1 130.5h26.1M1632.1 149.3h26.1M1610.8 123.9h26.1M1610.8 143.7h26.1M1749.1 273.9h26.1M1749.1 296.7h26.1M1591.8 130.0h26.1M1591.8 150.5h26.1M1604.3 158.3h26.1M1604.3 179.2h26.1M1649.2 157.4h26.1M1649.2 176.4h26.1M1756.5 279.9h26.1M1756.5 299.7h26.1M1742.3 284.4h26.1M1742.3 304.0h26.1M1726.1 231.3h26.1M1726.1 252.8h26.1M1659.9 163.7h26.1M1659.9 182.6h26.1M1639.3 127.8h26.1M1639.3 145.9h26.1M1764.7 283.7h26.1M1764.7 301.9h26.1M1540.2 98.5h26.1M1540.2 119.4h26.1M1741.0 249.5h26.1M1741.0 271.4h26.1M1885.9 379.0h26.1M1885.9 398.9h26.1M1548.1 118.9h26.1M1548.1 137.7h26.1M1864.9 354.5h26.1M1864.9 375.2h26.1M1782.1 281.8h26.1M1782.1 302.8h26.1M1660.6 175.0h26.1M1660.6 195.6h26.1M1677.5 224.0h26.1M1677.5 243.4h26.1M1649.6 184.3h26.1M1649.6 203.2h26.1M1698.8 214.2h26.1M1698.8 233.1h26.1M1638.0 132.2h26.1M1638.0 150.4h26.1M1598.7 116.9h26.1M1598.7 136.4h26.1M1603.7 117.7h26.1M1603.7 137.0h26.1M1634.0 138.2h26.1M1634.0 157.1h26.1M1526.1 84.2h26.1M1526.1 105.3h26.1M1805.7 326.5h26.1M1805.7 347.1h26.1M1721.1 230.5h26.1M1721.1 248.8h26.1M1646.5 182.5h26.1M1646.5 203.1h26.1M1801.1 304.9h26.1M1801.1 324.1h26.1M1662.7 191.7h26.1M1662.7 209.7h26.1M1630.6 122.5h26.1M1630.6 142.3h26.1M1596.4 116.7h26.1M1596.4 134.9h26.1M1712.3 237.1h26.1M1712.3 259.1h26.1M1844.9 329.6h26.1M1844.9 351.7h26.1M1781.6 298.6h26.1M1781.6 320.3h26.1M1723.4 234.9h26.1M1723.4 255.5h26.1M1685.8 173.6h26.1M1685.8 192.1h26.1M1783.1 285.8h26.1M1783.1 304.4h26.1M1556.1 96.6h26.1M1556.1 117.6h26.1M1640.0 169.7h26.1M1640.0 189.3h26.1M1595.0 125.1h26.1M1595.0 147.3h26.1M1737.5 257.3h26.1M1737.5 275.7h26.1M1670.4 177.8h26.1M1670.4 200.0h26.1M1550.7 111.9h26.1M1550.7 132.7h26.1M1781.0 289.5h26.1M1781.0 311.5h26.1M1552.6 120.7h26.1M1552.6 141.6h26.1M1539.7 83.4h26.1M1539.7 102.3h26.1M1566.0 122.3h26.1M1566.0 144.4h26.1M1687.2 179.3h26.1M1687.2 199.9h26.1M1784.9 271.0h26.1M1784.9 290.3h26.1M1883.7 382.5h26.1M1883.7 400.7h26.1M1612.7 143.7h26.1M1612.7 165.5h26.1M1886.8 384.9h26.1M1886.8 403.9h26.1M1652.3 142.5h26.1M1652.3 165.1h26.1M1727.3 228.1h26.1M1727.3 248.5h26.1M1778.5 286.4h26.1M1778.5 308.6h26.1M1702.4 201.7h26.1M1702.4 222.2h26.1M1684.4 224.1h26.1M1684.4 243.2h26.1M1607.6 122.5h26.1M1607.6 140.6h26.1M1731.6 246.6h26.1M1731.6 268.2h26.1M1822.3 325.1h26.1M1822.3 347.7h26.1M1583.9 140.2h26.1M1583.9 161.5h26.1M1841.8 343.5h26.1M1841.8 363.8h26.1M1775.5 278.1h26.1M1775.5 297.9h26.1M1650.9 154.6h26.1M1650.9 175.0h26.1M1681.9 201.4h26.1M1681.9 222.5h26.1M1874.5 388.1h26.1M1874.5 408.8h26.1M1882.2 351.7h26.1M1882.2 372.6h26.1M1689.3 220.1h26.1M1689.3 238.1h26.1M1752.0 253.6h26.1M1752.0 272.8h26.1M1580.3 126.4h26.1M1580.3 145.5h26.1M1685.8 175.2h26.1M1685.8 194.5h26.1M1689.8 186.2h26.1M1689.8 206.6h26.1M1627.2 167.5h26.1M1627.2 187.8h26.1M1806.8 307.7h26.1M1806.8 330.2h26.1M1747.5 255.1h26.1M1747.5 273.5h26.1M1788.6 301.1h26.1M1788.6 322.0h26.1M1834.8 327.0h26.1M1834.8 349.6h26.1M1733.0 279.4h26.1M1733.0 298.5h26.1M1707.3 239.7h26.1M1707.3 261.3h26.1M1637.7 135.5h26.1M1637.7 158.2h26.1M1792.5 297.7h26.1M1792.5 316.8h26.1M1606.5 119.3h26.1M1606.5 138.9h26.1M1785.8 274.1h26.1M1785.8 294.4h26.1M1812.9 293.1h26.1M1812.9 312.4h26.1M1617.8 166.5h26.1M1617.8 185.7h26.1M1740.9 282.4h26.1M1740.9 300.9h26.1M1860.2 357.2h26.1M1860.2 378.1h26.1M1687.3 162.2h26.1M1687.3 183.8h26.1M1751.1 278.3h26.1M1751.1 301.3h26.1M1651.1 146.5h26.1M1651.1 168.3h26.1M1838.9 343.8h26.1M1838.9 365.3h26.1M1855.9 334.7h26.1M1855.9 353.0h26.1M1725.8 238.2h26.1M1725.8 258.2h26.1M1638.0 138.1h26.1M1638.0 159.3h26.1M1727.5 209.0h26.1M1727.5 229.1h26.1M1649.5 165.2h26.1M1649.5 187.2h26.1M1797.2 298.6h26.1M1797.2 318.3h26.1M1571.0 119.9h26.1M1571.0 142.0h26.1M1617.2 173.3h26.1M1617.2 191.7h26.1M1557.7 127.0h26.1M1557.7 149.8h26.1M1538.0 109.4h26.1M1538.0 131.3h26.1M1560.9 150.6h26.1M1560.9 171.8h26.1M1543.2 118.1h26.1M1543.2 138.1h26.1M1559.6 93.9h26.1M1559.6 112.3h26.1M1724.7 231.7h26.1M1724.7 252.6h26.1M1749.1 268.7h26.1M1749.1 289.7h26.1M1578.9 146.6h26.1M1578.9 168.4h26.1M1866.4 368.5h26.1M1866.4 391.5h26.1M1781.2 284.6h26.1M1781.2 305.8h26.1M1592.3 119.4h26.1M1592.3 140.5h26.1M1858.9 368.3h26.1M1858.9 387.9h26.1M1617.8 162.5h26.1M1617.8 181.4h26.1M1639.2 162.5h26.1M1639.2 183.0h26.1M1860.3 364.4h26.1M1860.3 385.5h26.1M1746.9 249.4h26.1M1746.9 270.3h26.1M1813.7 292.3h26.1M1813.7 313.4h26.1M1609.5 135.2h26.1M1609.5 157.9h26.1M1675.8 191.2h26.1M1675.8 212.1h26.1M1584.2 139.9h26.1M1584.2 160.1h26.1M1769.7 269.4h26.1M1769.7 290.2h26.1M1652.3 161.2h26.1M1652.3 179.6h26.1M1653.9 158.1h26.1M1653.9 177.7h26.1M1596.7 124.8h26.1M1596.7 147.7h26.1M1764.2 284.3h26.1M1764.2 303.2h26.1M1855.2 330.3h26.1M1855.2 348.9h26.1M1647.2 165.1h26.1M1647.2 184.0h26.1M1665.9 179.7h26.1M1665.9 202.6h26.1M1668.5 184.8h26.1M1668.5 207.6h26.1M1708.8 253.0h26.1M1708.8 271.1h26.1M1632.4 159.4h26.1M1632.4 179.2h26.1M1790.8 310.6h26.1M1790.8 332.9h26.1M1683.4 165.6h26.1M1683.4 184.4h26.1M1610.0 145.8h26.1M1610.0 166.7h26.1M1695.3 176.7h26.1M1695.3 194.9h26.1M1542.0 118.2h26.1M1542.0 139.8h26.1M1690.8 210.1h26.1M1690.8 228.1h26.1M1679.0 167.7h26.1M1679.0 187.7h26.1M1555.4 141.4h26.1M1555.4 163.6h26.1M1858.4 363.7h26.1M1858.4 382.9h26.1M1814.3 322.5h26.1M1814.3 344.8h26.1M1778.5 309.2h26.1M1778.5 331.4h26.1M1691.9 174.1h26.1M1691.9 195.0h26.1M1841.0 335.3h26.1M1841.0 355.1h26.1M1741.1 218.2h26.1M1741.1 237.5h26.1M1885.7 382.0h26.1M1885.7 403.7h26.1M1822.1 319.9h26.1M1822.1 340.2h26.1M1649.8 149.9h26.1M1649.8 168.1h26.1M1547.3 91.6h26.1M1547.3 110.3h26.1M1776.4 272.5h26.1M1776.4 293.1h26.1M1711.2 199.2h26.1M1711.2 221.1h26.1M1736.3 280.7h26.1M1736.3 302.6h26.1M1674.1 192.5h26.1M1674.1 212.1h26.1M1801.0 291.4h26.1M1801.0 310.7h26.1M1669.6 166.5h26.1M1669.6 186.5h26.1M1730.7 251.4h26.1M1730.7 274.2h26.1M1795.2 303.1h26.1M1795.2 321.6h26.1M1855.2 351.9h26.1M1855.2 371.6h26.1M1570.3 102.4h26.1M1570.3 122.2h26.1M1638.6 184.8h26.1M1638.6 205.1h26.1M1716.1 224.7h26.1M1716.1 244.4h26.1M1730.0 278.3h26.1M1730.0 300.6h26.1M1814.8 334.0h26.1M1814.8 355.1h26.1M1554.4 110.2h26.1M1554.4 131.4h26.1M1547.7 91.6h26.1M1547.7 114.3h26.1M1701.9 218.4h26.1M1701.9 238.9h26.1M1573.0 146.8h26.1M1573.0 166.1h26.1M1616.3 158.9h26.1M1616.3 179.0h26.1M1869.4 354.1h26.1M1869.4 376.3h26.1M1538.7 112.6h26.1M1538.7 131.8h26.1M1645.1 141.9h26.1M1645.1 161.0h26.1M1868.8 364.3h26.1M1868.8 385.7h26.1M1568.2 124.5h26.1M1568.2 146.1h26.1M1708.7 214.3h26.1M1708.7 232.6h26.1M1655.5 178.0h26.1M1655.5 197.5h26.1M1800.4 321.5h26.1M1800.4 339.6h26.1M1598.1 149.8h26.1M1598.1 168.7h26.1M1712.7 210.8h26.1M1712.7 230.3h26.1M1717.7 217.6h26.1M1717.7 236.8h26.1M1738.3 223.0h26.1M1738.3 242.0h26.1M1878.6 367.4h26.1M1878.6 388.9h26.1M1663.4 176.6h26.1M1663.4 197.0h26.1M1530.6 86.1h26.1M1530.6 105.2h26.1M1785.1 298.2h26.1M1785.1 317.0h26.1M1749.5 259.5h26.1M1749.5 279.7h26.1M1536.5 82.3h26.1M1536.5 102.3h26.1M1665.7 152.3h26.1M1665.7 172.5h26.1M1857.3 350.7h26.1M1857.3 370.2h26.1M1714.6 225.2h26.1M1714.6 245.6h26.1M1533.9 106.3h26.1M1533.9 124.5h26.1M1730.4 225.2h26.1M1730.4 246.6h26.1M1523.5 94.9h26.1M1523.5 115.5h26.1M1530.0 94.1h26.1M1530.0 114.7h26.1M1726.3 244.7h26.1M1726.3 263.1h26.1M1767.2 269.2h26.1M1767.2 291.7h26.1M1695.3 202.5h26.1M1695.3 221.5h26.1M1687.9 191.5h26.1M1687.9 213.1h26.1M1678.7 187.0h26.1M1678.7 206.7h26.1M1552.5 128.7h26.1M1552.5 149.4h26.1M1603.8 120.9h26.1M1603.8 143.6h26.1M1575.2 138.9h26.1M1575.2 159.3h26.1M1783.3 291.3h26.1M1783.3 313.1h26.1M1728.0 230.2h26.1M1728.0 251.6h26.1M1601.4 141.0h26.1M1601.4 161.9h26.1M1656.8 163.0h26.1M1656.8 184.8h26.1M1560.9 95.6h26.1M1560.9 114.6h26.1M1570.9 102.7h26.1M1570.9 121.4h26.1M1830.7 319.8h26.1M1830.7 338.2h26.1M1570.7 144.9h26.1M1570.7 163.4h26.1M1802.3 315.9h26.1M1802.3 335.4h26.1M1840.4 309.1h26.1M1840.4 327.8h26.1M1525.8 119.8h26.1M1525.8 140.5h26.1M1844.9 312.1h26.1M1844.9 330.1h26.1M1558.7 144.9h26.1M1558.7 166.7h26.1M1761.4 264.4h26.1M1761.4 284.6h26.1M1858.7 356.8h26.1M1858.7 377.8h26.1M1845.4 306.9h26.1M1845.4 327.1h26.1M1554.8 138.5h26.1M1554.8 159.5h26.1M1677.7 177.6h26.1M1677.7 200.6h26.1M1556.9 142.2h26.1M1556.9 161.3h26.1M1559.4 122.7h26.1M1559.4 145.3h26.1M1761.5 282.3h26.1M1761.5 302.3h26.1M1803.4 304.3h26.1M1803.4 322.5h26.1M1606.7 151.6h26.1M1606.7 172.8h26.1M1544.9 118.2h26.1M1544.9 136.9h26.1M1843.8 354.5h26.1M1843.8 375.3h26.1M1604.6 149.6h26.1M1604.6 169.0h26.1M1827.1 310.4h26.1M1827.1 332.0h26.1M1632.8 177.7h26.1M1632.8 198.9h26.1M1770.2 276.4h26.1M1770.2 297.2h26.1M1811.5 284.0h26.1M1811.5 302.1h26.1M1735.7 233.7h26.1M1735.7 252.9h26.1M1599.9 154.1h26.1M1599.9 175.2h26.1M1691.4 210.3h26.1M1691.4 228.7h26.1M1530.5 83.8h26.1M1530.5 106.1h26.1M1821.1 311.3h26.1M1821.1 331.5h26.1M1628.4 169.9h26.1M1628.4 191.4h26.1M1590.6 132.5h26.1M1590.6 151.0h26.1M1567.8 101.2h26.1M1567.8 123.3h26.1M1728.0 214.8h26.1M1728.0 236.2h26.1M1692.9 184.5h26.1M1692.9 202.9h26.1M1556.1 114.6h26.1M1556.1 134.0h26.1M1843.0 327.9h26.1M1843.0 348.8h26.1M1579.0 113.9h26.1M1579.0 133.1h26.1M1654.3 156.6h26.1M1654.3 179.4h26.1M1724.7 208.9h26.1M1724.7 230.0h26.1M1604.7 122.9h26.1M1604.7 145.0h26.1M1818.2 316.4h26.1M1818.2 337.0h26.1M1706.8 227.5h26.1M1706.8 246.6h26.1M1848.1 332.3h26.1M1848.1 350.3h26.1M1729.2 242.6h26.1M1729.2 261.2h26.1M1829.3 335.2h26.1M1829.3 356.3h26.1M1742.0 280.3h26.1M1742.0 299.0h26.1M1868.1 376.6h26.1M1868.1 396.8h26.1M1623.3 146.6h26.1M1623.3 165.6h26.1M1573.2 128.7h26.1M1573.2 146.9h26.1M1591.8 111.2h26.1M1591.8 129.9h26.1M1557.5 116.3h26.1M1557.5 134.8h26.1M1705.7 210.6h26.1M1705.7 233.4h26.1M1632.4 160.2h26.1M1632.4 182.4h26.1M1777.3 298.2h26.1M1777.3 317.0h26.1M1791.2 291.6h26.1M1791.2 313.1h26.1M1790.9 279.0h26.1M1790.9 298.1h26.1M1861.2 348.6h26.1M1861.2 369.3h26.1M1551.5 134.6h26.1M1551.5 155.2h26.1M1653.2 175.5h26.1M1653.2 198.2h26.1M1739.0 233.0h26.1M1739.0 253.1h26.1M1794.1 295.4h26.1M1794.1 314.2h26.1M1625.4 121.3h26.1M1625.4 140.5h26.1M1558.4 136.8h26.1M1558.4 157.3h26.1M1876.8 388.2h26.1M1876.8 406.7h26.1M1843.1 355.7h26.1M1843.1 375.6h26.1M1783.0 286.5h26.1M1783.0 308.8h26.1M1847.7 349.0h26.1M1847.7 369.7h26.1M1590.8 133.1h26.1M1590.8 154.3h26.1M1839.4 333.0h26.1M1839.4 355.3h26.1M1659.4 161.1h26.1M1659.4 183.3h26.1M1564.3 107.2h26.1M1564.3 129.2h26.1M1737.2 284.2h26.1M1737.2 303.5h26.1M1661.7 159.6h26.1M1661.7 178.7h26.1M1867.1 373.9h26.1M1867.1 395.4h26.1M1581.0 126.6h26.1M1581.0 149.1h26.1M1578.1 108.1h26.1M1578.1 130.4h26.1M1548.3 93.5h26.1M1548.3 114.6h26.1M1753.2 242.2h26.1M1753.2 261.4h26.1M1703.0 190.6h26.1M1703.0 209.4h26.1M1823.0 333.3h26.1M1823.0 356.3h26.1M1596.3 115.6h26.1M1596.3 138.3h26.1M1860.2 336.8h26.1M1860.2 357.2h26.1M1824.6 301.0h26.1M1824.6 319.4h26.1M1626.8 144.1h26.1M1626.8 165.5h26.1M1741.9 254.5h26.1M1741.9 273.2h26.1M1636.8 124.6h26.1M1636.8 143.4h26.1M1657.5 167.8h26.1M1657.5 186.8h26.1M1686.7 181.3h26.1M1686.7 202.7h26.1M1804.7 295.3h26.1M1804.7 315.0h26.1M1841.2 311.6h26.1M1841.2 330.4h26.1M1796.9 310.7h26.1M1796.9 331.9h26.1M1737.9 247.0h26.1M1737.9 268.9h26.1M1720.7 225.6h26.1M1720.7 248.3h26.1M1746.1 265.5h26.1M1746.1 288.2h26.1M1633.7 165.9h26.1M1633.7 188.4h26.1M1576.2 122.1h26.1M1576.2 143.3h26.1M1614.9 144.0h26.1M1614.9 163.5h26.1M1861.4 356.0h26.1M1861.4 376.1h26.1M1882.0 376.7h26.1M1882.0 395.9h26.1M1686.3 180.0h26.1M1686.3 199.3h26.1M1879.2 349.8h26.1M1879.2 370.3h26.1M1554.1 140.4h26.1M1554.1 161.6h26.1M1539.4 81.8h26.1M1539.4 103.8h26.1M1668.6 160.1h26.1M1668.6 179.8h26.1M1879.2 372.3h26.1M1879.2 390.9h26.1M1870.5 355.3h26.1M1870.5 377.4h26.1M1804.0 295.2h26.1M1804.0 317.0h26.1M1605.4 119.2h26.1M1605.4 138.9h26.1M1873.8 369.0h26.1M1873.8 390.1h26.1M1697.8 185.7h26.1M1697.8 206.2h26.1M1800.2 284.7h26.1M1800.2 302.8h26.1M1688.8 209.7h26.1M1688.8 232.1h26.1M1578.6 123.7h26.1M1578.6 145.4h26.1M1585.7 145.0h26.1M1585.7 164.1h26.1M1588.0 152.3h26.1M1588.0 171.2h26.1M1641.5 164.2h26.1M1641.5 183.7h26.1M1782.3 278.0h26.1M1782.3 296.5h26.1M1572.3 107.2h26.1M1572.3 128.8h26.1M1565.8 98.5h26.1M1565.8 120.6h26.1M1798.2 306.1h26.1M1798.2 325.8h26.1M1593.3 135.6h26.1M1593.3 155.7h26.1M1700.2 223.1h26.1M1700.2 245.0h26.1M1652.1 181.6h26.1M1652.1 202.6h26.1M1529.3 94.1h26.1M1529.3 114.0h26.1M1571.2 141.0h26.1M1571.2 160.0h26.1M1546.1 95.0h26.1M1546.1 115.4h26.1M1695.9 216.6h26.1M1695.9 239.6h26.1M1533.9 120.2h26.1M1533.9 138.6h26.1M1638.9 126.4h26.1M1638.9 145.2h26.1M1551.0 104.7h26.1M1551.0 125.0h26.1M1836.7 356.5h26.1M1836.7 375.4h26.1M1663.8 197.4h26.1M1663.8 218.8h26.1M1663.9 176.2h26.1M1663.9 196.9h26.1M1827.7 316.3h26.1M1827.7 339.1h26.1M1751.8 276.5h26.1M1751.8 296.4h26.1M1690.6 219.3h26.1M1690.6 240.1h26.1M1577.7 153.8h26.1M1577.7 172.3h26.1M1722.4 269.3h26.1M1722.4 287.7h26.1M1563.5 126.0h26.1M1563.5 145.4h26.1M1638.5 133.0h26.1M1638.5 153.3h26.1M1535.2 105.6h26.1M1535.2 124.7h26.1M1855.0 359.0h26.1M1855.0 378.1h26.1M1586.3 125.8h26.1M1586.3 145.3h26.1M1797.0 287.1h26.1M1797.0 310.0h26.1M1613.4 146.4h26.1M1613.4 166.1h26.1M1600.5 130.9h26.1M1600.5 152.4h26.1M1603.6 155.3h26.1M1603.6 174.1h26.1M1586.9 141.6h26.1M1586.9 161.3h26.1M1782.8 308.5h26.1M1782.8 328.3h26.1M1675.0 173.8h26.1M1675.0 196.3h26.1M1655.9 181.3h26.1M1655.9 201.3h26.1M1719.2 215.6h26.1M1719.2 236.0h26.1M1703.7 210.4h26.1M1703.7 230.8h26.1M1672.6 188.1h26.1M1672.6 209.0h26.1M1882.8 352.1h26.1M1882.8 370.1h26.1M1621.5 159.8h26.1M1621.5 182.0h26.1M1603.5 130.1h26.1M1603.5 149.3h26.1M1570.5 115.4h26.1M1570.5 138.4h26.1M1636.4 145.8h26.1M1636.4 167.7h26.1M1586.2 141.1h26.1M1586.2 160.6h26.1M1743.7 248.7h26.1M1743.7 271.3h26.1M1569.6 112.1h26.1M1569.6 133.8h26.1M1784.3 302.3h26.1M1784.3 323.9h26.1M1585.5 138.5h26.1M1585.5 161.2h26.1M1686.6 171.6h26.1M1686.6 192.8h26.1M1830.5 336.3h26.1M1830.5 357.6h26.1M1762.7 278.2h26.1M1762.7 297.6h26.1M1728.4 260.8h26.1M1728.4 280.9h26.1M1623.5 132.1h26.1M1623.5 151.9h26.1M1563.4 114.9h26.1M1563.4 137.4h26.1M1660.8 150.0h26.1M1660.8 169.0h26.1M1643.3 153.9h26.1M1643.3 175.2h26.1M1589.1 118.0h26.1M1589.1 137.3h26.1M1826.4 323.7h26.1M1826.4 342.8h26.1M1686.9 181.9h26.1M1686.9 201.4h26.1M1821.8 332.5h26.1M1821.8 353.7h26.1M1692.8 182.8h26.1M1692.8 204.0h26.1M1694.0 184.4h26.1M1694.0 207.1h26.1M1563.2 149.9h26.1M1563.2 170.7h26.1M1802.6 296.0h26.1M1802.6 317.7h26.1M1832.2 345.8h26.1M1832.2 365.5h26.1M1713.9 236.2h26.1M1713.9 255.9h26.1M1641.4 186.2h26.1M1641.4 206.8h26.1M1565.0 95.2h26.1M1565.0 115.8h26.1M1842.9 347.9h26.1M1842.9 366.4h26.1M1549.5 91.1h26.1M1549.5 111.3h26.1M1740.7 246.1h26.1M1740.7 264.5h26.1M1653.9 200.8h26.1M1653.9 219.6h26.1M1680.6 172.0h26.1M1680.6 190.9h26.1M1866.5 348.4h26.1M1866.5 369.5h26.1M1710.3 196.6h26.1M1710.3 219.2h26.1M1642.7 185.4h26.1M1642.7 204.9h26.1M1580.9 151.8h26.1M1580.9 171.9h26.1M1586.4 117.2h26.1M1586.4 136.4h26.1M1857.3 369.0h26.1M1857.3 390.1h26.1M1731.7 206.8h26.1M1731.7 225.0h26.1M1726.3 270.1h26.1M1726.3 290.9h26.1M1736.8 258.0h26.1M1736.8 280.5h26.1M1712.8 237.6h26.1M1712.8 258.6h26.1M1668.0 201.4h26.1M1668.0 220.9h26.1M1618.9 137.3h26.1M1618.9 157.7h26.1M1722.2 237.9h26.1M1722.2 257.7h26.1M1866.4 342.0h26.1M1866.4 364.0h26.1M1804.2 295.6h26.1M1804.2 314.8h26.1M1826.8 323.5h26.1M1826.8 343.6h26.1M1783.9 294.4h26.1M1783.9 316.7h26.1M1663.5 203.6h26.1M1663.5 223.7h26.1M1690.3 172.1h26.1M1690.3 194.5h26.1M1753.0 269.5h26.1M1753.0 289.5h26.1M1665.9 206.4h26.1M1665.9 227.7h26.1M1715.9 204.3h26.1M1715.9 224.8h26.1M1722.2 249.5h26.1M1722.2 268.0h26.1M1806.7 302.8h26.1M1806.7 322.2h26.1M1753.9 238.4h26.1M1753.9 258.9h26.1M1561.0 105.3h26.1M1561.0 126.9h26.1M1624.3 120.7h26.1M1624.3 142.6h26.1M1784.6 291.5h26.1M1784.6 314.2h26.1M1523.2 78.2h26.1M1523.2 100.7h26.1M1641.8 170.7h26.1M1641.8 190.8h26.1M1612.1 150.2h26.1M1612.1 172.7h26.1M1872.5 370.2h26.1M1872.5 391.8h26.1M1872.7 382.6h26.1M1872.7 404.8h26.1M1777.6 279.5h26.1M1777.6 300.6h26.1M1846.4 327.8h26.1M1846.4 350.7h26.1M1846.4 341.6h26.1M1846.4 362.7h26.1M1776.1 278.7h26.1M1776.1 296.9h26.1M1609.8 150.2h26.1M1609.8 169.4h26.1M1730.8 262.3h26.1M1730.8 282.4h26.1M1635.0 126.4h26.1M1635.0 148.2h26.1M1708.7 232.6h26.1M1708.7 252.7h26.1M1603.8 157.1h26.1M1603.8 178.7h26.1M1810.3 292.0h26.1M1810.3 312.4h26.1M1639.2 184.5h26.1M1639.2 203.9h26.1M1735.6 247.7h26.1M1735.6 266.1h26.1M1805.7 322.9h26.1M1805.7 342.2h26.1M1758.8 280.1h26.1M1758.8 299.9h26.1M1612.1 120.7h26.1M1612.1 141.7h26.1M1644.9 171.3h26.1M1644.9 192.2h26.1M1850.1 331.9h26.1M1850.1 351.0h26.1M1630.1 144.3h26.1M1630.1 164.9h26.1M1695.8 180.7h26.1M1695.8 201.6h26.1M1734.3 264.0h26.1M1734.3 286.1h26.1M1775.6 288.6h26.1M1775.6 309.8h26.1M1754.0 278.1h26.1M1754.0 297.9h26.1M1617.1 138.6h26.1M1617.1 156.7h26.1M1524.3 105.5h26.1M1524.3 127.3h26.1M1567.8 119.7h26.1M1567.8 141.6h26.1M1749.7 250.7h26.1M1749.7 272.8h26.1M1546.2 95.7h26.1M1546.2 118.0h26.1M1637.1 121.8h26.1M1637.1 141.5h26.1M1752.6 235.6h26.1M1752.6 257.2h26.1M1662.5 188.8h26.1M1662.5 208.3h26.1M1869.8 377.0h26.1M1869.8 397.5h26.1M1730.3 259.0h26.1M1730.3 280.7h26.1M1541.4 121.2h26.1M1541.4 139.9h26.1M1731.9 250.1h26.1M1731.9 270.5h26.1M1552.4 102.9h26.1M1552.4 122.5h26.1M1612.7 148.3h26.1M1612.7 168.9h26.1M1883.1 368.5h26.1M1883.1 389.2h26.1M1629.2 157.6h26.1M1629.2 179.0h26.1M1639.9 157.2h26.1M1639.9 176.7h26.1M1784.7 291.4h26.1M1784.7 312.4h26.1M1633.1 157.2h26.1M1633.1 176.1h26.1M1754.3 286.2h26.1M1754.3 304.3h26.1M1837.7 324.2h26.1M1837.7 346.0h26.1M1740.2 231.8h26.1M1740.2 252.0h26.1M1840.7 336.5h26.1M1840.7 356.3h26.1M1615.0 150.4h26.1M1615.0 171.2h26.1M1575.6 143.8h26.1M1575.6 161.8h26.1M1803.9 303.4h26.1M1803.9 326.0h26.1M1689.3 164.4h26.1M1689.3 186.5h26.1M1689.1 225.5h26.1M1689.1 246.3h26.1M1857.0 350.2h26.1M1857.0 368.3h26.1M1650.4 203.6h26.1M1650.4 225.0h26.1M1637.3 131.6h26.1M1637.3 152.3h26.1M1839.3 341.3h26.1M1839.3 363.5h26.1M1642.4 147.5h26.1M1642.4 167.0h26.1M1550.4 118.0h26.1M1550.4 139.3h26.1M1570.7 105.2h26.1M1570.7 124.6h26.1M1808.6 311.4h26.1M1808.6 330.0h26.1M1561.4 105.2h26.1M1561.4 127.8h26.1M1645.5 158.1h26.1M1645.5 178.8h26.1M1634.7 175.0h26.1M1634.7 194.7h26.1M1651.8 143.2h26.1M1651.8 163.4h26.1M1689.5 207.1h26.1M1689.5 225.7h26.1M1716.0 234.4h26.1M1716.0 255.8h26.1M1525.1 122.1h26.1M1525.1 141.8h26.1M1852.2 338.3h26.1M1852.2 360.8h26.1M1635.3 134.9h26.1M1635.3 154.3h26.1M1734.8 227.4h26.1M1734.8 245.8h26.1M1582.9 146.6h26.1M1582.9 165.2h26.1M1692.3 217.7h26.1M1692.3 240.0h26.1M1663.5 191.3h26.1M1663.5 214.0h26.1M1665.6 196.2h26.1M1665.6 219.0h26.1M1594.0 117.4h26.1M1594.0 138.5h26.1M1658.2 168.5h26.1M1658.2 190.7h26.1M1881.5 373.8h26.1M1881.5 396.2h26.1M1864.5 331.3h26.1M1864.5 350.4h26.1M1750.8 275.4h26.1M1750.8 295.5h26.1M1747.5 243.3h26.1M1747.5 266.2h26.1M1643.8 175.8h26.1M1643.8 196.9h26.1M1753.9 275.6h26.1M1753.9 296.7h26.1M1820.1 323.1h26.1M1820.1 343.3h26.1M1690.3 172.8h26.1M1690.3 193.9h26.1M1727.8 274.1h26.1M1727.8 292.2h26.1M1783.6 290.1h26.1M1783.6 311.9h26.1M1821.1 311.8h26.1M1821.1 331.4h26.1M1740.7 225.2h26.1M1740.7 243.4h26.1M1854.7 347.3h26.1M1854.7 366.3h26.1M1640.8 132.0h26.1M1640.8 155.0h26.1M1740.6 244.9h26.1M1740.6 266.8h26.1M1816.0 307.1h26.1M1816.0 329.1h26.1M1718.2 239.8h26.1M1718.2 262.2h26.1M1569.2 149.8h26.1M1569.2 171.3h26.1M1637.9 164.2h26.1M1637.9 183.3h26.1M1687.1 200.2h26.1M1687.1 220.2h26.1M1708.3 210.5h26.1M1708.3 229.2h26.1M1591.6 114.2h26.1M1591.6 136.7h26.1M1534.5 86.0h26.1M1534.5 104.1h26.1M1554.3 138.3h26.1M1554.3 156.5h26.1M1780.0 291.5h26.1M1780.0 313.0h26.1M1639.1 149.3h26.1M1639.1 169.0h26.1M1558.4 115.8h26.1M1558.4 136.3h26.1M1648.4 144.0h26.1M1648.4 162.3h26.1M1657.4 204.9h26.1M1657.4 225.4h26.1M1855.1 337.8h26.1M1855.1 357.0h26.1M1537.7 89.4h26.1M1537.7 109.6h26.1M1732.4 261.4h26.1M1732.4 281.7h26.1M1726.1 229.2h26.1M1726.1 247.2h26.1M1717.2 207.3h26.1M1717.2 226.0h26.1M1753.3 249.6h26.1M1753.3 267.9h26.1M1553.5 106.7h26.1M1553.5 127.9h26.1M1524.0 78.1h26.1M1524.0 100.9h26.1M1677.5 216.9h26.1M1677.5 236.7h26.1M1796.0 300.5h26.1M1796.0 319.6h26.1M1675.5 190.4h26.1M1675.5 209.8h26.1M1821.5 304.4h26.1M1821.5 325.3h26.1M1733.8 271.7h26.1M1733.8 292.2h26.1M1669.9 166.5h26.1M1669.9 189.3h26.1M1722.7 263.3h26.1M1722.7 284.4h26.1M1818.2 321.1h26.1M1818.2 340.6h26.1M1675.8 184.4h26.1M1675.8 205.6h26.1M1755.0 241.9h26.1M1755.0 263.6h26.1M1704.0 225.1h26.1M1704.0 243.6h26.1M1662.3 174.7h26.1M1662.3 196.3h26.1M1733.2 278.5h26.1M1733.2 297.3h26.1M1633.5 139.1h26.1M1633.5 161.2h26.1M1856.7 357.6h26.1M1856.7 378.0h26.1M1678.9 163.2h26.1M1678.9 182.2h26.1M1704.0 216.1h26.1M1704.0 236.7h26.1M1721.5 236.6h26.1M1721.5 255.0h26.1M1527.3 123.1h26.1M1527.3 142.4h26.1M1613.8 169.7h26.1M1613.8 188.4h26.1M1559.9 123.9h26.1M1559.9 142.2h26.1M1736.6 213.5h26.1M1736.6 233.0h26.1M1720.9 209.5h26.1M1720.9 228.1h26.1M1576.0 116.1h26.1M1576.0 138.4h26.1M1636.3 146.4h26.1M1636.3 168.6h26.1M1846.1 318.6h26.1M1846.1 341.6h26.1M1732.8 280.2h26.1M1732.8 301.5h26.1M1685.5 206.3h26.1M1685.5 225.7h26.1M1696.1 195.5h26.1M1696.1 216.7h26.1M1806.2 309.5h26.1M1806.2 332.1h26.1M1672.4 192.9h26.1M1672.4 214.1h26.1M1804.1 321.1h26.1M1804.1 341.6h26.1M1745.9 240.1h26.1M1745.9 262.4h26.1M1679.3 166.9h26.1M1679.3 186.7h26.1M1825.2 309.1h26.1M1825.2 328.8h26.1M1586.5 104.1h26.1M1586.5 124.6h26.1M1585.1 152.0h26.1M1585.1 172.4h26.1M1592.0 112.1h26.1M1592.0 133.3h26.1M1757.6 244.5h26.1M1757.6 265.2h26.1M1807.0 299.3h26.1M1807.0 321.6h26.1M1835.2 329.2h26.1M1835.2 352.0h26.1M1786.6 301.9h26.1M1786.6 323.9h26.1M1726.2 273.4h26.1M1726.2 292.6h26.1M1719.9 234.9h26.1M1719.9 254.1h26.1M1799.7 306.2h26.1M1799.7 328.6h26.1M1569.9 148.1h26.1M1569.9 167.1h26.1M1566.3 123.8h26.1M1566.3 145.8h26.1M1612.9 126.3h26.1M1612.9 145.8h26.1M1734.3 224.4h26.1M1734.3 243.8h26.1M1771.4 289.9h26.1M1771.4 310.8h26.1M1870.9 364.0h26.1M1870.9 386.0h26.1M1829.6 310.0h26.1M1829.6 328.2h26.1M1835.8 329.9h26.1M1835.8 351.5h26.1M1620.8 146.3h26.1M1620.8 169.3h26.1M1654.3 181.7h26.1M1654.3 203.5h26.1M1664.5 161.3h26.1M1664.5 180.9h26.1M1560.8 141.6h26.1M1560.8 161.8h26.1M1530.6 98.9h26.1M1530.6 117.9h26.1M1678.3 225.0h26.1M1678.3 243.6h26.1M1788.8 304.2h26.1M1788.8 325.6h26.1M1605.7 127.6h26.1M1605.7 149.0h26.1M1792.5 295.8h26.1M1792.5 316.5h26.1M1799.0 287.1h26.1M1799.0 307.5h26.1M1569.3 151.2h26.1M1569.3 171.0h26.1M1530.3 83.7h26.1M1530.3 104.6h26.1M1540.5 88.4h26.1M1540.5 107.3h26.1M1533.9 82.6h26.1M1533.9 101.7h26.1M1528.3 89.0h26.1M1528.3 110.1h26.1M1538.4 79.0h26.1M1538.4 99.9h26.1M1535.1 87.6h26.1M1535.1 109.1h26.1M1535.3 91.7h26.1M1535.3 111.5h26.1M1537.8 82.1h26.1M1537.8 102.7h26.1M1534.0 95.2h26.1M1534.0 113.7h26.1M1536.0 94.2h26.1M1536.0 112.3h26.1M1521.5 68.0h26.1M1521.5 87.4h26.1M1894.9 387.0h26.1M1894.9 405.0h26.1M1895.8 400.7h26.1M1895.8 432.7h26.1M1920.9 401.4h26.1M1920.9 424.4h26.1M1918.9 416.4h26.1M1918.9 438.4h26.1M1926.6 429.8h26.1M1926.6 451.8h26.1M1930.5 440.4h26.1M1930.5 464.4h26.1M1931.5 446.2h26.1M1931.5 477.8h26.1M1944.0 385.4h26.1M1944.0 409.6h26.1M1946.8 398.1h26.1M1946.8 420.1h26.1M1951.7 410.6h26.1M1951.7 432.6h26.1M1945.9 422.1h26.1M1945.9 444.1h26.1M1940.1 433.7h26.1M1940.1 455.7h26.1M1947.8 443.3h26.1M1947.8 465.3h26.1M1954.5 455.7h26.1M1954.5 483.7h26.1M1965.1 441.2h26.1M1965.1 465.4h26.1M1960.3 481.2h26.1M1960.3 517.8h26.1M1973.8 468.4h26.1M1973.8 494.0h26.1M1979.6 472.2h26.1M1979.6 513.4h26.1M1922.9 409.0h26.1M1922.9 431.0h26.1M1948.9 404.0h26.1M1948.9 426.0h26.1M1927.9 436.0h26.1M1927.9 458.0h26.1M1943.9 430.0h26.1M1943.9 452.0h26.1M2007.5 500.5h26.1M2007.5 531.3h26.1M2002.1 515.0h26.1M2002.1 543.0h26.1M1995.0 535.5h26.1M1995.0 578.0h26.1M2013.2 530.9h26.1M2013.2 577.1h26.1" fill="none" stroke="#1f77b4" stroke-width="2.65"/>
<g fill="#1f77b4">
<circle cx="1238.1" cy="80.8" r="9.1"/>
<circle cx="1248.6" cy="80.6" r="9.1"/>
<circle cx="1292.0" cy="97.5" r="9.1"/>
<circle cx="1301.0" cy="98.5" r="9.1"/>
<circle cx="1310.0" cy="99.0" r="9.1"/>
<circle cx="1316.0" cy="98.0" r="9.1"/>
<circle cx="1255.8" cy="87.9" r="9.1"/>
<circle cx="1262.6" cy="104.3" r="9.1"/>
<circle cx="1272.2" cy="94.7" r="9.1"/>
<circle cx="1279.0" cy="105.3" r="9.1"/>
<circle cx="1287.7" cy="90.8" r="9.1"/>
<circle cx="1295.4" cy="92.8" r="9.1"/>
<circle cx="1304.1" cy="76.3" r="9.1"/>
<circle cx="1310.9" cy="88.9" r="9.1"/>
<circle cx="1317.6" cy="87.0" r="9.1"/>
<circle cx="1326.3" cy="88.9" r="9.1"/>
<circle cx="1318.6" cy="114.0" r="9.1"/>
<circle cx="1422.5" cy="85.4" r="9.1"/>
<circle cx="1424.6" cy="106.6" r="9.1"/>
<circle cx="1429.0" cy="107.2" r="9.1"/>
<circle cx="1422.9" cy="117.8" r="9.1"/>
<circle cx="1429.9" cy="111.2" r="9.1"/>
<circle cx="1421.1" cy="125.7" r="9.1"/>
<circle cx="1429.0" cy="101.1" r="9.1"/>
<circle cx="1422.6" cy="95.8" r="9.1"/>
<circle cx="1433.2" cy="112.2" r="9.1"/>
<circle cx="1426.1" cy="128.0" r="9.1"/>
<circle cx="1425.4" cy="91.6" r="9.1"/>
<circle cx="1423.9" cy="98.5" r="9.1"/>
<circle cx="1423.6" cy="118.3" r="9.1"/>
<circle cx="1422.3" cy="95.7" r="9.1"/>
<circle cx="1426.8" cy="93.3" r="9.1"/>
<circle cx="1433.5" cy="133.9" r="9.1"/>
<circle cx="1427.6" cy="118.9" r="9.1"/>
<circle cx="1426.0" cy="106.3" r="9.1"/>
<circle cx="1430.4" cy="127.1" r="9.1"/>
<circle cx="1442.9" cy="125.9" r="9.1"/>
<circle cx="1422.0" cy="92.2" r="9.1"/>
<circle cx="1423.5" cy="90.5" r="9.1"/>
<circle cx="1424.0" cy="131.4" r="9.1"/>
<circle cx="1432.7" cy="125.5" r="9.1"/>
<circle cx="1425.0" cy="102.8" r="9.1"/>
<circle cx="1432.1" cy="105.6" r="9.1"/>
<circle cx="1441.8" cy="114.5" r="9.1"/>
<circle cx="1439.2" cy="106.8" r="9.1"/>
<circle cx="1432.0" cy="122.8" r="9.1"/>
<circle cx="1432.7" cy="101.5" r="9.1"/>
<circle cx="1427.5" cy="93.7" r="9.1"/>
<circle cx="1424.9" cy="109.2" r="9.1"/>
<circle cx="1427.1" cy="114.6" r="9.1"/>
<circle cx="1428.9" cy="102.2" r="9.1"/>
<circle cx="1442.5" cy="106.6" r="9.1"/>
<circle cx="1435.4" cy="135.8" r="9.1"/>
<circle cx="1418.9" cy="116.3" r="9.1"/>
<circle cx="1435.4" cy="130.0" r="9.1"/>
<circle cx="1424.8" cy="98.2" r="9.1"/>
<circle cx="1427.7" cy="131.6" r="9.1"/>
<circle cx="1430.3" cy="115.0" r="9.1"/>
<circle cx="1429.3" cy="93.9" r="9.1"/>
<circle cx="1430.2" cy="98.9" r="9.1"/>
<circle cx="1437.7" cy="119.3" r="9.1"/>
<circle cx="1432.0" cy="133.5" r="9.1"/>
<circle cx="1442.2" cy="111.5" r="9.1"/>
<circle cx="1440.0" cy="138.1" r="9.1"/>
<circle cx="1438.9" cy="99.1" r="9.1"/>
<circle cx="1430.4" cy="113.5" r="9.1"/>
<circle cx="1437.5" cy="122.6" r="9.1"/>
<circle cx="1434.7" cy="120.8" r="9.1"/>
<circle cx="1422.7" cy="123.5" r="9.1"/>
<circle cx="1420.1" cy="113.1" r="9.1"/>
<circle cx="1436.6" cy="102.8" r="9.1"/>
<circle cx="1437.1" cy="104.9" r="9.1"/>
<circle cx="1420.4" cy="104.5" r="9.1"/>
<circle cx="1432.8" cy="111.0" r="9.1"/>
<circle cx="1420.2" cy="123.9" r="9.1"/>
<circle cx="1429.7" cy="133.5" r="9.1"/>
<circle cx="1425.1" cy="110.6" r="9.1"/>
<circle cx="1429.8" cy="93.2" r="9.1"/>
<circle cx="1417.6" cy="113.3" r="9.1"/>
<circle cx="1429.5" cy="124.1" r="9.1"/>
<circle cx="1437.6" cy="126.2" r="9.1"/>
<circle cx="1422.9" cy="116.8" r="9.1"/>
<circle cx="1441.4" cy="123.7" r="9.1"/>
<circle cx="1428.6" cy="113.2" r="9.1"/>
<circle cx="1421.7" cy="101.3" r="9.1"/>
<circle cx="1439.2" cy="101.2" r="9.1"/>
<circle cx="1437.3" cy="121.2" r="9.1"/>
<circle cx="1424.4" cy="112.1" r="9.1"/>
<circle cx="1432.2" cy="121.2" r="9.1"/>
<circle cx="1442.0" cy="125.5" r="9.1"/>
<circle cx="1440.3" cy="131.7" r="9.1"/>
<circle cx="1438.9" cy="113.8" r="9.1"/>
<circle cx="1425.5" cy="110.2" r="9.1"/>
<circle cx="1434.6" cy="143.5" r="9.1"/>
<circle cx="1431.0" cy="138.5" r="9.1"/>
<circle cx="1484.3" cy="97.0" r="9.1"/>
<circle cx="1476.6" cy="157.9" r="9.1"/>
<circle cx="1480.5" cy="140.4" r="9.1"/>
<circle cx="1484.9" cy="110.2" r="9.1"/>
<circle cx="1483.8" cy="130.2" r="9.1"/>
<circle cx="1481.5" cy="115.0" r="9.1"/>
<circle cx="1486.1" cy="122.3" r="9.1"/>
<circle cx="1482.5" cy="111.9" r="9.1"/>
<circle cx="1481.0" cy="129.8" r="9.1"/>
<circle cx="1475.3" cy="129.2" r="9.1"/>
<circle cx="1487.6" cy="128.7" r="9.1"/>
<circle cx="1473.5" cy="122.5" r="9.1"/>
<circle cx="1473.7" cy="127.4" r="9.1"/>
<circle cx="1479.3" cy="109.5" r="9.1"/>
<circle cx="1486.2" cy="113.5" r="9.1"/>
<circle cx="1473.9" cy="141.6" r="9.1"/>
<circle cx="1474.3" cy="148.2" r="9.1"/>
<circle cx="1484.3" cy="141.3" r="9.1"/>
<circle cx="1474.7" cy="136.5" r="9.1"/>
<circle cx="1483.0" cy="135.4" r="9.1"/>
<circle cx="1485.2" cy="136.0" r="9.1"/>
<circle cx="1473.7" cy="127.2" r="9.1"/>
<circle cx="1477.2" cy="112.9" r="9.1"/>
<circle cx="1482.3" cy="130.6" r="9.1"/>
<circle cx="1477.7" cy="115.5" r="9.1"/>
<circle cx="1481.5" cy="139.5" r="9.1"/>
<circle cx="1475.2" cy="124.5" r="9.1"/>
<circle cx="1475.5" cy="140.2" r="9.1"/>
<circle cx="1477.4" cy="136.8" r="9.1"/>
<circle cx="1477.5" cy="113.1" r="9.1"/>
<circle cx="1476.5" cy="120.6" r="9.1"/>
<circle cx="1485.0" cy="134.9" r="9.1"/>
<circle cx="1484.1" cy="119.5" r="9.1"/>
<circle cx="1477.2" cy="112.8" r="9.1"/>
<circle cx="1478.8" cy="136.2" r="9.1"/>
<circle cx="1484.8" cy="142.2" r="9.1"/>
<circle cx="1481.2" cy="134.4" r="9.1"/>
<circle cx="1482.1" cy="132.8" r="9.1"/>
<circle cx="1479.4" cy="106.4" r="9.1"/>
<circle cx="1478.2" cy="104.7" r="9.1"/>
<circle cx="1486.6" cy="104.0" r="9.1"/>
<circle cx="1482.1" cy="100.3" r="9.1"/>
<circle cx="1477.6" cy="143.6" r="9.1"/>
<circle cx="1483.3" cy="102.4" r="9.1"/>
<circle cx="1483.6" cy="132.8" r="9.1"/>
<circle cx="1475.0" cy="147.2" r="9.1"/>
<circle cx="1482.6" cy="145.1" r="9.1"/>
<circle cx="1513.3" cy="83.5" r="9.1"/>
<circle cx="1511.4" cy="145.3" r="9.1"/>
<circle cx="1517.2" cy="100.5" r="9.1"/>
<circle cx="1513.9" cy="109.9" r="9.1"/>
<circle cx="1511.4" cy="93.9" r="9.1"/>
<circle cx="1507.7" cy="95.5" r="9.1"/>
<circle cx="1517.7" cy="113.9" r="9.1"/>
<circle cx="1508.2" cy="98.9" r="9.1"/>
<circle cx="1508.3" cy="90.9" r="9.1"/>
<circle cx="1514.0" cy="118.3" r="9.1"/>
<circle cx="1511.0" cy="134.2" r="9.1"/>
<circle cx="1511.1" cy="90.5" r="9.1"/>
<circle cx="1506.6" cy="128.2" r="9.1"/>
<circle cx="1506.5" cy="105.2" r="9.1"/>
<circle cx="1507.1" cy="130.4" r="9.1"/>
<circle cx="1511.5" cy="128.9" r="9.1"/>
<circle cx="1515.9" cy="103.1" r="9.1"/>
<circle cx="1515.0" cy="107.0" r="9.1"/>
<circle cx="1513.1" cy="105.1" r="9.1"/>
<circle cx="1517.9" cy="115.7" r="9.1"/>
<circle cx="1511.6" cy="85.8" r="9.1"/>
<circle cx="1511.5" cy="87.6" r="9.1"/>
<circle cx="1513.6" cy="125.2" r="9.1"/>
<circle cx="1512.1" cy="96.6" r="9.1"/>
<circle cx="1510.1" cy="96.1" r="9.1"/>
<circle cx="1509.7" cy="93.1" r="9.1"/>
<circle cx="1508.3" cy="135.9" r="9.1"/>
<circle cx="1516.7" cy="125.8" r="9.1"/>
<circle cx="1508.9" cy="135.7" r="9.1"/>
<circle cx="1517.5" cy="110.9" r="9.1"/>
<circle cx="1516.3" cy="99.7" r="9.1"/>
<circle cx="1516.2" cy="106.9" r="9.1"/>
<circle cx="1507.5" cy="96.8" r="9.1"/>
<circle cx="1508.0" cy="94.2" r="9.1"/>
<circle cx="1506.5" cy="107.4" r="9.1"/>
<circle cx="1510.1" cy="112.8" r="9.1"/>
<circle cx="1511.5" cy="132.9" r="9.1"/>
<circle cx="1515.2" cy="133.0" r="9.1"/>
<circle cx="1509.9" cy="90.1" r="9.1"/>
<circle cx="1515.9" cy="120.5" r="9.1"/>
<circle cx="1576.7" cy="126.0" r="9.1"/>
<circle cx="1698.5" cy="220.1" r="9.1"/>
<circle cx="1692.7" cy="214.6" r="9.1"/>
<circle cx="1563.3" cy="118.2" r="9.1"/>
<circle cx="1770.8" cy="290.7" r="9.1"/>
<circle cx="1764.3" cy="257.6" r="9.1"/>
<circle cx="1742.3" cy="255.1" r="9.1"/>
<circle cx="1693.2" cy="221.2" r="9.1"/>
<circle cx="1693.0" cy="210.3" r="9.1"/>
<circle cx="1764.7" cy="274.9" r="9.1"/>
<circle cx="1727.1" cy="260.7" r="9.1"/>
<circle cx="1673.6" cy="176.4" r="9.1"/>
<circle cx="1807.5" cy="302.5" r="9.1"/>
<circle cx="1697.3" cy="179.9" r="9.1"/>
<circle cx="1679.8" cy="182.6" r="9.1"/>
<circle cx="1690.9" cy="171.2" r="9.1"/>
<circle cx="1611.0" cy="164.8" r="9.1"/>
<circle cx="1692.6" cy="176.9" r="9.1"/>
<circle cx="1717.1" cy="210.4" r="9.1"/>
<circle cx="1706.5" cy="177.9" r="9.1"/>
<circle cx="1733.5" cy="272.5" r="9.1"/>
<circle cx="1683.9" cy="196.2" r="9.1"/>
<circle cx="1644.9" cy="138.3" r="9.1"/>
<circle cx="1595.0" cy="133.5" r="9.1"/>
<circle cx="1644.7" cy="185.4" r="9.1"/>
<circle cx="1807.7" cy="315.5" r="9.1"/>
<circle cx="1596.5" cy="160.9" r="9.1"/>
<circle cx="1583.5" cy="122.3" r="9.1"/>
<circle cx="1659.8" cy="186.0" r="9.1"/>
<circle cx="1773.8" cy="278.6" r="9.1"/>
<circle cx="1579.2" cy="150.7" r="9.1"/>
<circle cx="1806.1" cy="295.7" r="9.1"/>
<circle cx="1752.4" cy="238.8" r="9.1"/>
<circle cx="1855.1" cy="341.3" r="9.1"/>
<circle cx="1645.1" cy="139.9" r="9.1"/>
<circle cx="1623.8" cy="133.8" r="9.1"/>
<circle cx="1762.1" cy="285.3" r="9.1"/>
<circle cx="1604.9" cy="140.3" r="9.1"/>
<circle cx="1617.4" cy="168.8" r="9.1"/>
<circle cx="1662.3" cy="166.9" r="9.1"/>
<circle cx="1769.5" cy="289.8" r="9.1"/>
<circle cx="1755.3" cy="294.2" r="9.1"/>
<circle cx="1739.2" cy="242.1" r="9.1"/>
<circle cx="1672.9" cy="173.1" r="9.1"/>
<circle cx="1652.4" cy="136.9" r="9.1"/>
<circle cx="1777.7" cy="292.8" r="9.1"/>
<circle cx="1553.3" cy="108.9" r="9.1"/>
<circle cx="1754.1" cy="260.4" r="9.1"/>
<circle cx="1898.9" cy="389.0" r="9.1"/>
<circle cx="1561.1" cy="128.3" r="9.1"/>
<circle cx="1878.0" cy="364.8" r="9.1"/>
<circle cx="1795.1" cy="292.3" r="9.1"/>
<circle cx="1673.7" cy="185.3" r="9.1"/>
<circle cx="1690.5" cy="233.7" r="9.1"/>
<circle cx="1662.6" cy="193.8" r="9.1"/>
<circle cx="1711.9" cy="223.7" r="9.1"/>
<circle cx="1651.1" cy="141.3" r="9.1"/>
<circle cx="1611.7" cy="126.7" r="9.1"/>
<circle cx="1616.8" cy="127.3" r="9.1"/>
<circle cx="1647.0" cy="147.6" r="9.1"/>
<circle cx="1539.1" cy="94.8" r="9.1"/>
<circle cx="1818.8" cy="336.8" r="9.1"/>
<circle cx="1734.2" cy="239.7" r="9.1"/>
<circle cx="1659.5" cy="192.8" r="9.1"/>
<circle cx="1814.2" cy="314.5" r="9.1"/>
<circle cx="1675.8" cy="200.7" r="9.1"/>
<circle cx="1643.6" cy="132.4" r="9.1"/>
<circle cx="1609.5" cy="125.8" r="9.1"/>
<circle cx="1725.4" cy="248.1" r="9.1"/>
<circle cx="1858.0" cy="340.6" r="9.1"/>
<circle cx="1794.7" cy="309.4" r="9.1"/>
<circle cx="1736.4" cy="245.2" r="9.1"/>
<circle cx="1698.9" cy="182.8" r="9.1"/>
<circle cx="1796.2" cy="295.1" r="9.1"/>
<circle cx="1569.2" cy="107.1" r="9.1"/>
<circle cx="1653.1" cy="179.5" r="9.1"/>
<circle cx="1608.1" cy="136.2" r="9.1"/>
<circle cx="1750.5" cy="266.5" r="9.1"/>
<circle cx="1683.5" cy="188.9" r="9.1"/>
<circle cx="1563.8" cy="122.3" r="9.1"/>
<circle cx="1794.0" cy="300.5" r="9.1"/>
<circle cx="1565.6" cy="131.2" r="9.1"/>
<circle cx="1552.8" cy="92.9" r="9.1"/>
<circle cx="1579.0" cy="133.4" r="9.1"/>
<circle cx="1700.3" cy="189.6" r="9.1"/>
<circle cx="1797.9" cy="280.7" r="9.1"/>
<circle cx="1896.7" cy="391.6" r="9.1"/>
<circle cx="1625.8" cy="154.6" r="9.1"/>
<circle cx="1899.9" cy="394.4" r="9.1"/>
<circle cx="1665.4" cy="153.8" r="9.1"/>
<circle cx="1740.3" cy="238.3" r="9.1"/>
<circle cx="1791.6" cy="297.5" r="9.1"/>
<circle cx="1715.5" cy="211.9" r="9.1"/>
<circle cx="1697.4" cy="233.7" r="9.1"/>
<circle cx="1620.6" cy="131.6" r="9.1"/>
<circle cx="1744.7" cy="257.4" r="9.1"/>
<circle cx="1835.3" cy="336.4" r="9.1"/>
<circle cx="1596.9" cy="150.8" r="9.1"/>
<circle cx="1854.8" cy="353.6" r="9.1"/>
<circle cx="1788.5" cy="288.0" r="9.1"/>
<circle cx="1663.9" cy="164.8" r="9.1"/>
<circle cx="1695.0" cy="211.9" r="9.1"/>
<circle cx="1887.6" cy="398.4" r="9.1"/>
<circle cx="1895.3" cy="362.2" r="9.1"/>
<circle cx="1702.3" cy="229.1" r="9.1"/>
<circle cx="1765.1" cy="263.2" r="9.1"/>
<circle cx="1593.4" cy="136.0" r="9.1"/>
<circle cx="1698.9" cy="184.9" r="9.1"/>
<circle cx="1702.8" cy="196.4" r="9.1"/>
<circle cx="1640.3" cy="177.6" r="9.1"/>
<circle cx="1819.8" cy="318.9" r="9.1"/>
<circle cx="1760.5" cy="264.3" r="9.1"/>
<circle cx="1801.7" cy="311.6" r="9.1"/>
<circle cx="1847.8" cy="338.3" r="9.1"/>
<circle cx="1746.1" cy="288.9" r="9.1"/>
<circle cx="1720.4" cy="250.5" r="9.1"/>
<circle cx="1650.8" cy="146.9" r="9.1"/>
<circle cx="1805.6" cy="307.3" r="9.1"/>
<circle cx="1619.5" cy="129.1" r="9.1"/>
<circle cx="1798.8" cy="284.2" r="9.1"/>
<circle cx="1826.0" cy="302.7" r="9.1"/>
<circle cx="1630.9" cy="176.1" r="9.1"/>
<circle cx="1754.0" cy="291.7" r="9.1"/>
<circle cx="1873.2" cy="367.7" r="9.1"/>
<circle cx="1700.3" cy="173.0" r="9.1"/>
<circle cx="1764.1" cy="289.8" r="9.1"/>
<circle cx="1664.2" cy="157.4" r="9.1"/>
<circle cx="1852.0" cy="354.6" r="9.1"/>
<circle cx="1869.0" cy="343.8" r="9.1"/>
<circle cx="1738.9" cy="248.2" r="9.1"/>
<circle cx="1651.1" cy="148.7" r="9.1"/>
<circle cx="1740.6" cy="219.0" r="9.1"/>
<circle cx="1662.5" cy="176.2" r="9.1"/>
<circle cx="1810.2" cy="308.5" r="9.1"/>
<circle cx="1584.1" cy="131.0" r="9.1"/>
<circle cx="1630.3" cy="182.5" r="9.1"/>
<circle cx="1570.7" cy="138.4" r="9.1"/>
<circle cx="1551.1" cy="120.3" r="9.1"/>
<circle cx="1573.9" cy="161.2" r="9.1"/>
<circle cx="1556.3" cy="128.1" r="9.1"/>
<circle cx="1572.6" cy="103.1" r="9.1"/>
<circle cx="1737.8" cy="242.2" r="9.1"/>
<circle cx="1762.1" cy="279.2" r="9.1"/>
<circle cx="1591.9" cy="157.5" r="9.1"/>
<circle cx="1879.4" cy="380.0" r="9.1"/>
<circle cx="1794.2" cy="295.2" r="9.1"/>
<circle cx="1605.4" cy="129.9" r="9.1"/>
<circle cx="1872.0" cy="378.1" r="9.1"/>
<circle cx="1630.9" cy="172.0" r="9.1"/>
<circle cx="1652.3" cy="172.8" r="9.1"/>
<circle cx="1873.3" cy="374.9" r="9.1"/>
<circle cx="1759.9" cy="259.8" r="9.1"/>
<circle cx="1826.7" cy="302.9" r="9.1"/>
<circle cx="1622.6" cy="146.5" r="9.1"/>
<circle cx="1688.9" cy="201.7" r="9.1"/>
<circle cx="1597.2" cy="150.0" r="9.1"/>
<circle cx="1782.7" cy="279.8" r="9.1"/>
<circle cx="1665.3" cy="170.4" r="9.1"/>
<circle cx="1667.0" cy="167.9" r="9.1"/>
<circle cx="1609.8" cy="136.3" r="9.1"/>
<circle cx="1777.3" cy="293.7" r="9.1"/>
<circle cx="1868.3" cy="339.6" r="9.1"/>
<circle cx="1660.3" cy="174.6" r="9.1"/>
<circle cx="1678.9" cy="191.1" r="9.1"/>
<circle cx="1681.6" cy="196.2" r="9.1"/>
<circle cx="1721.9" cy="262.1" r="9.1"/>
<circle cx="1645.5" cy="169.3" r="9.1"/>
<circle cx="1803.8" cy="321.8" r="9.1"/>
<circle cx="1696.5" cy="175.0" r="9.1"/>
<circle cx="1623.0" cy="156.3" r="9.1"/>
<circle cx="1708.4" cy="185.8" r="9.1"/>
<circle cx="1555.1" cy="129.0" r="9.1"/>
<circle cx="1703.9" cy="219.1" r="9.1"/>
<circle cx="1692.1" cy="177.7" r="9.1"/>
<circle cx="1568.5" cy="152.5" r="9.1"/>
<circle cx="1871.4" cy="373.3" r="9.1"/>
<circle cx="1827.4" cy="333.6" r="9.1"/>
<circle cx="1791.6" cy="320.3" r="9.1"/>
<circle cx="1704.9" cy="184.6" r="9.1"/>
<circle cx="1854.0" cy="345.2" r="9.1"/>
<circle cx="1754.1" cy="227.9" r="9.1"/>
<circle cx="1898.8" cy="392.9" r="9.1"/>
<circle cx="1835.2" cy="330.0" r="9.1"/>
<circle cx="1662.9" cy="159.0" r="9.1"/>
<circle cx="1560.3" cy="101.0" r="9.1"/>
<circle cx="1789.5" cy="282.8" r="9.1"/>
<circle cx="1724.2" cy="210.2" r="9.1"/>
<circle cx="1749.4" cy="291.6" r="9.1"/>
<circle cx="1687.2" cy="202.3" r="9.1"/>
<circle cx="1814.0" cy="301.0" r="9.1"/>
<circle cx="1682.7" cy="176.5" r="9.1"/>
<circle cx="1743.7" cy="262.8" r="9.1"/>
<circle cx="1808.3" cy="312.3" r="9.1"/>
<circle cx="1868.2" cy="361.8" r="9.1"/>
<circle cx="1583.3" cy="112.3" r="9.1"/>
<circle cx="1651.6" cy="194.9" r="9.1"/>
<circle cx="1729.1" cy="234.6" r="9.1"/>
<circle cx="1743.0" cy="289.5" r="9.1"/>
<circle cx="1827.8" cy="344.6" r="9.1"/>
<circle cx="1567.5" cy="120.8" r="9.1"/>
<circle cx="1560.8" cy="102.9" r="9.1"/>
<circle cx="1715.0" cy="228.6" r="9.1"/>
<circle cx="1586.0" cy="156.5" r="9.1"/>
<circle cx="1629.4" cy="168.9" r="9.1"/>
<circle cx="1882.4" cy="365.2" r="9.1"/>
<circle cx="1551.7" cy="122.2" r="9.1"/>
<circle cx="1658.1" cy="151.5" r="9.1"/>
<circle cx="1881.8" cy="375.0" r="9.1"/>
<circle cx="1581.2" cy="135.3" r="9.1"/>
<circle cx="1721.7" cy="223.4" r="9.1"/>
<circle cx="1668.5" cy="187.7" r="9.1"/>
<circle cx="1813.4" cy="330.6" r="9.1"/>
<circle cx="1611.2" cy="159.3" r="9.1"/>
<circle cx="1725.7" cy="220.6" r="9.1"/>
<circle cx="1730.8" cy="227.2" r="9.1"/>
<circle cx="1751.3" cy="232.5" r="9.1"/>
<circle cx="1891.7" cy="378.2" r="9.1"/>
<circle cx="1676.4" cy="186.8" r="9.1"/>
<circle cx="1543.7" cy="95.6" r="9.1"/>
<circle cx="1798.2" cy="307.6" r="9.1"/>
<circle cx="1762.6" cy="269.6" r="9.1"/>
<circle cx="1549.5" cy="92.3" r="9.1"/>
<circle cx="1678.7" cy="162.4" r="9.1"/>
<circle cx="1870.4" cy="360.5" r="9.1"/>
<circle cx="1727.7" cy="235.4" r="9.1"/>
<circle cx="1546.9" cy="115.4" r="9.1"/>
<circle cx="1743.5" cy="235.9" r="9.1"/>
<circle cx="1536.6" cy="105.2" r="9.1"/>
<circle cx="1543.1" cy="104.4" r="9.1"/>
<circle cx="1739.3" cy="253.9" r="9.1"/>
<circle cx="1780.3" cy="280.4" r="9.1"/>
<circle cx="1708.3" cy="212.0" r="9.1"/>
<circle cx="1700.9" cy="202.3" r="9.1"/>
<circle cx="1691.7" cy="196.8" r="9.1"/>
<circle cx="1565.5" cy="139.1" r="9.1"/>
<circle cx="1616.8" cy="132.3" r="9.1"/>
<circle cx="1588.2" cy="149.1" r="9.1"/>
<circle cx="1796.3" cy="302.2" r="9.1"/>
<circle cx="1741.1" cy="240.9" r="9.1"/>
<circle cx="1614.4" cy="151.4" r="9.1"/>
<circle cx="1669.9" cy="173.9" r="9.1"/>
<circle cx="1574.0" cy="105.1" r="9.1"/>
<circle cx="1583.9" cy="112.0" r="9.1"/>
<circle cx="1843.8" cy="329.0" r="9.1"/>
<circle cx="1583.8" cy="154.2" r="9.1"/>
<circle cx="1815.4" cy="325.6" r="9.1"/>
<circle cx="1853.5" cy="318.5" r="9.1"/>
<circle cx="1538.8" cy="130.1" r="9.1"/>
<circle cx="1857.9" cy="321.1" r="9.1"/>
<circle cx="1571.8" cy="155.8" r="9.1"/>
<circle cx="1774.4" cy="274.5" r="9.1"/>
<circle cx="1871.7" cy="367.3" r="9.1"/>
<circle cx="1858.5" cy="317.0" r="9.1"/>
<circle cx="1567.9" cy="149.0" r="9.1"/>
<circle cx="1690.8" cy="189.1" r="9.1"/>
<circle cx="1570.0" cy="151.7" r="9.1"/>
<circle cx="1572.5" cy="134.0" r="9.1"/>
<circle cx="1774.6" cy="292.3" r="9.1"/>
<circle cx="1816.5" cy="313.4" r="9.1"/>
<circle cx="1619.8" cy="162.2" r="9.1"/>
<circle cx="1558.0" cy="127.6" r="9.1"/>
<circle cx="1856.8" cy="364.9" r="9.1"/>
<circle cx="1617.6" cy="159.3" r="9.1"/>
<circle cx="1840.2" cy="321.2" r="9.1"/>
<circle cx="1645.8" cy="188.3" r="9.1"/>
<circle cx="1783.3" cy="286.8" r="9.1"/>
<circle cx="1824.5" cy="293.0" r="9.1"/>
<circle cx="1748.7" cy="243.3" r="9.1"/>
<circle cx="1612.9" cy="164.6" r="9.1"/>
<circle cx="1704.5" cy="219.5" r="9.1"/>
<circle cx="1543.6" cy="95.0" r="9.1"/>
<circle cx="1834.2" cy="321.4" r="9.1"/>
<circle cx="1641.5" cy="180.6" r="9.1"/>
<circle cx="1603.6" cy="141.7" r="9.1"/>
<circle cx="1580.9" cy="112.2" r="9.1"/>
<circle cx="1741.1" cy="225.5" r="9.1"/>
<circle cx="1706.0" cy="193.7" r="9.1"/>
<circle cx="1569.1" cy="124.3" r="9.1"/>
<circle cx="1856.0" cy="338.3" r="9.1"/>
<circle cx="1592.1" cy="123.5" r="9.1"/>
<circle cx="1667.3" cy="168.0" r="9.1"/>
<circle cx="1737.8" cy="219.4" r="9.1"/>
<circle cx="1617.8" cy="134.0" r="9.1"/>
<circle cx="1831.3" cy="326.7" r="9.1"/>
<circle cx="1719.9" cy="237.0" r="9.1"/>
<circle cx="1861.2" cy="341.3" r="9.1"/>
<circle cx="1742.3" cy="251.9" r="9.1"/>
<circle cx="1842.3" cy="345.7" r="9.1"/>
<circle cx="1755.1" cy="289.7" r="9.1"/>
<circle cx="1881.2" cy="386.7" r="9.1"/>
<circle cx="1636.4" cy="156.1" r="9.1"/>
<circle cx="1586.3" cy="137.8" r="9.1"/>
<circle cx="1604.9" cy="120.5" r="9.1"/>
<circle cx="1570.6" cy="125.5" r="9.1"/>
<circle cx="1718.8" cy="222.0" r="9.1"/>
<circle cx="1645.5" cy="171.3" r="9.1"/>
<circle cx="1790.4" cy="307.6" r="9.1"/>
<circle cx="1804.3" cy="302.4" r="9.1"/>
<circle cx="1803.9" cy="288.6" r="9.1"/>
<circle cx="1874.3" cy="358.9" r="9.1"/>
<circle cx="1564.6" cy="144.9" r="9.1"/>
<circle cx="1666.3" cy="186.8" r="9.1"/>
<circle cx="1752.0" cy="243.0" r="9.1"/>
<circle cx="1807.1" cy="304.8" r="9.1"/>
<circle cx="1638.5" cy="130.9" r="9.1"/>
<circle cx="1571.5" cy="147.0" r="9.1"/>
<circle cx="1889.9" cy="397.4" r="9.1"/>
<circle cx="1856.1" cy="365.6" r="9.1"/>
<circle cx="1796.0" cy="297.7" r="9.1"/>
<circle cx="1860.8" cy="359.3" r="9.1"/>
<circle cx="1603.9" cy="143.7" r="9.1"/>
<circle cx="1852.5" cy="344.1" r="9.1"/>
<circle cx="1672.5" cy="172.2" r="9.1"/>
<circle cx="1577.3" cy="118.2" r="9.1"/>
<circle cx="1750.2" cy="293.9" r="9.1"/>
<circle cx="1674.8" cy="169.1" r="9.1"/>
<circle cx="1880.2" cy="384.7" r="9.1"/>
<circle cx="1594.1" cy="137.8" r="9.1"/>
<circle cx="1591.1" cy="119.2" r="9.1"/>
<circle cx="1561.4" cy="104.0" r="9.1"/>
<circle cx="1766.3" cy="251.8" r="9.1"/>
<circle cx="1716.0" cy="200.0" r="9.1"/>
<circle cx="1836.1" cy="344.8" r="9.1"/>
<circle cx="1609.3" cy="127.0" r="9.1"/>
<circle cx="1873.2" cy="347.0" r="9.1"/>
<circle cx="1837.7" cy="310.2" r="9.1"/>
<circle cx="1639.9" cy="154.8" r="9.1"/>
<circle cx="1755.0" cy="263.9" r="9.1"/>
<circle cx="1649.9" cy="134.0" r="9.1"/>
<circle cx="1670.5" cy="177.3" r="9.1"/>
<circle cx="1699.7" cy="192.0" r="9.1"/>
<circle cx="1817.8" cy="305.2" r="9.1"/>
<circle cx="1854.3" cy="321.0" r="9.1"/>
<circle cx="1810.0" cy="321.3" r="9.1"/>
<circle cx="1750.9" cy="257.9" r="9.1"/>
<circle cx="1733.7" cy="236.9" r="9.1"/>
<circle cx="1759.1" cy="276.8" r="9.1"/>
<circle cx="1646.8" cy="177.2" r="9.1"/>
<circle cx="1589.3" cy="132.7" r="9.1"/>
<circle cx="1628.0" cy="153.8" r="9.1"/>
<circle cx="1874.4" cy="366.1" r="9.1"/>
<circle cx="1895.0" cy="386.3" r="9.1"/>
<circle cx="1699.4" cy="189.6" r="9.1"/>
<circle cx="1892.2" cy="360.1" r="9.1"/>
<circle cx="1567.2" cy="151.0" r="9.1"/>
<circle cx="1552.4" cy="92.8" r="9.1"/>
<circle cx="1681.6" cy="169.9" r="9.1"/>
<circle cx="1892.3" cy="381.6" r="9.1"/>
<circle cx="1883.6" cy="366.4" r="9.1"/>
<circle cx="1817.0" cy="306.1" r="9.1"/>
<circle cx="1618.4" cy="129.1" r="9.1"/>
<circle cx="1886.8" cy="379.5" r="9.1"/>
<circle cx="1710.9" cy="196.0" r="9.1"/>
<circle cx="1813.3" cy="293.7" r="9.1"/>
<circle cx="1701.8" cy="220.9" r="9.1"/>
<circle cx="1591.6" cy="134.6" r="9.1"/>
<circle cx="1598.8" cy="154.5" r="9.1"/>
<circle cx="1601.0" cy="161.7" r="9.1"/>
<circle cx="1654.5" cy="174.0" r="9.1"/>
<circle cx="1795.3" cy="287.3" r="9.1"/>
<circle cx="1585.4" cy="118.0" r="9.1"/>
<circle cx="1578.8" cy="109.5" r="9.1"/>
<circle cx="1811.3" cy="315.9" r="9.1"/>
<circle cx="1606.4" cy="145.7" r="9.1"/>
<circle cx="1713.2" cy="234.1" r="9.1"/>
<circle cx="1665.1" cy="192.1" r="9.1"/>
<circle cx="1542.4" cy="104.0" r="9.1"/>
<circle cx="1584.3" cy="150.5" r="9.1"/>
<circle cx="1559.2" cy="105.2" r="9.1"/>
<circle cx="1709.0" cy="228.1" r="9.1"/>
<circle cx="1547.0" cy="129.4" r="9.1"/>
<circle cx="1652.0" cy="135.8" r="9.1"/>
<circle cx="1564.1" cy="114.9" r="9.1"/>
<circle cx="1849.8" cy="365.9" r="9.1"/>
<circle cx="1676.9" cy="208.1" r="9.1"/>
<circle cx="1677.0" cy="186.5" r="9.1"/>
<circle cx="1840.8" cy="327.7" r="9.1"/>
<circle cx="1764.8" cy="286.5" r="9.1"/>
<circle cx="1703.7" cy="229.7" r="9.1"/>
<circle cx="1590.7" cy="163.1" r="9.1"/>
<circle cx="1735.4" cy="278.5" r="9.1"/>
<circle cx="1576.5" cy="135.7" r="9.1"/>
<circle cx="1651.5" cy="143.2" r="9.1"/>
<circle cx="1548.3" cy="115.2" r="9.1"/>
<circle cx="1868.0" cy="368.6" r="9.1"/>
<circle cx="1599.4" cy="135.5" r="9.1"/>
<circle cx="1810.0" cy="298.6" r="9.1"/>
<circle cx="1626.4" cy="156.2" r="9.1"/>
<circle cx="1613.6" cy="141.7" r="9.1"/>
<circle cx="1616.6" cy="164.7" r="9.1"/>
<circle cx="1600.0" cy="151.4" r="9.1"/>
<circle cx="1795.9" cy="318.4" r="9.1"/>
<circle cx="1688.0" cy="185.0" r="9.1"/>
<circle cx="1669.0" cy="191.3" r="9.1"/>
<circle cx="1732.3" cy="225.8" r="9.1"/>
<circle cx="1716.7" cy="220.6" r="9.1"/>
<circle cx="1685.6" cy="198.5" r="9.1"/>
<circle cx="1895.9" cy="361.1" r="9.1"/>
<circle cx="1634.5" cy="170.9" r="9.1"/>
<circle cx="1616.5" cy="139.7" r="9.1"/>
<circle cx="1583.6" cy="126.9" r="9.1"/>
<circle cx="1649.5" cy="156.8" r="9.1"/>
<circle cx="1599.2" cy="150.9" r="9.1"/>
<circle cx="1756.8" cy="260.0" r="9.1"/>
<circle cx="1582.7" cy="122.9" r="9.1"/>
<circle cx="1797.3" cy="313.1" r="9.1"/>
<circle cx="1598.6" cy="149.8" r="9.1"/>
<circle cx="1699.7" cy="182.2" r="9.1"/>
<circle cx="1843.5" cy="347.0" r="9.1"/>
<circle cx="1775.7" cy="287.9" r="9.1"/>
<circle cx="1741.4" cy="270.9" r="9.1"/>
<circle cx="1636.6" cy="142.0" r="9.1"/>
<circle cx="1576.5" cy="126.1" r="9.1"/>
<circle cx="1673.8" cy="159.5" r="9.1"/>
<circle cx="1656.4" cy="164.6" r="9.1"/>
<circle cx="1602.2" cy="127.7" r="9.1"/>
<circle cx="1839.5" cy="333.3" r="9.1"/>
<circle cx="1700.0" cy="191.6" r="9.1"/>
<circle cx="1834.9" cy="343.1" r="9.1"/>
<circle cx="1705.8" cy="193.4" r="9.1"/>
<circle cx="1707.1" cy="195.7" r="9.1"/>
<circle cx="1576.3" cy="160.3" r="9.1"/>
<circle cx="1815.7" cy="306.9" r="9.1"/>
<circle cx="1845.2" cy="355.7" r="9.1"/>
<circle cx="1726.9" cy="246.0" r="9.1"/>
<circle cx="1654.5" cy="196.5" r="9.1"/>
<circle cx="1578.1" cy="105.5" r="9.1"/>
<circle cx="1856.0" cy="357.2" r="9.1"/>
<circle cx="1562.6" cy="101.2" r="9.1"/>
<circle cx="1753.7" cy="255.3" r="9.1"/>
<circle cx="1667.0" cy="210.2" r="9.1"/>
<circle cx="1693.6" cy="181.4" r="9.1"/>
<circle cx="1879.6" cy="359.0" r="9.1"/>
<circle cx="1723.3" cy="207.9" r="9.1"/>
<circle cx="1655.7" cy="195.2" r="9.1"/>
<circle cx="1594.0" cy="161.9" r="9.1"/>
<circle cx="1599.5" cy="126.8" r="9.1"/>
<circle cx="1870.3" cy="379.5" r="9.1"/>
<circle cx="1744.8" cy="215.9" r="9.1"/>
<circle cx="1739.4" cy="280.5" r="9.1"/>
<circle cx="1749.9" cy="269.2" r="9.1"/>
<circle cx="1725.9" cy="248.1" r="9.1"/>
<circle cx="1681.1" cy="211.1" r="9.1"/>
<circle cx="1632.0" cy="147.5" r="9.1"/>
<circle cx="1735.3" cy="247.8" r="9.1"/>
<circle cx="1879.4" cy="353.0" r="9.1"/>
<circle cx="1817.3" cy="305.2" r="9.1"/>
<circle cx="1839.8" cy="333.5" r="9.1"/>
<circle cx="1797.0" cy="305.6" r="9.1"/>
<circle cx="1676.5" cy="213.6" r="9.1"/>
<circle cx="1703.3" cy="183.3" r="9.1"/>
<circle cx="1766.1" cy="279.5" r="9.1"/>
<circle cx="1679.0" cy="217.0" r="9.1"/>
<circle cx="1729.0" cy="214.6" r="9.1"/>
<circle cx="1735.3" cy="258.7" r="9.1"/>
<circle cx="1819.7" cy="312.5" r="9.1"/>
<circle cx="1767.0" cy="248.7" r="9.1"/>
<circle cx="1574.1" cy="116.1" r="9.1"/>
<circle cx="1637.4" cy="131.7" r="9.1"/>
<circle cx="1797.7" cy="302.9" r="9.1"/>
<circle cx="1536.3" cy="89.4" r="9.1"/>
<circle cx="1654.9" cy="180.8" r="9.1"/>
<circle cx="1625.2" cy="161.5" r="9.1"/>
<circle cx="1885.5" cy="381.0" r="9.1"/>
<circle cx="1885.7" cy="393.7" r="9.1"/>
<circle cx="1790.7" cy="290.1" r="9.1"/>
<circle cx="1859.4" cy="339.3" r="9.1"/>
<circle cx="1859.5" cy="352.1" r="9.1"/>
<circle cx="1789.2" cy="287.8" r="9.1"/>
<circle cx="1622.9" cy="159.8" r="9.1"/>
<circle cx="1743.8" cy="272.3" r="9.1"/>
<circle cx="1648.1" cy="137.3" r="9.1"/>
<circle cx="1721.8" cy="242.7" r="9.1"/>
<circle cx="1616.8" cy="167.9" r="9.1"/>
<circle cx="1823.3" cy="302.2" r="9.1"/>
<circle cx="1652.2" cy="194.2" r="9.1"/>
<circle cx="1748.7" cy="256.9" r="9.1"/>
<circle cx="1818.7" cy="332.5" r="9.1"/>
<circle cx="1771.9" cy="290.0" r="9.1"/>
<circle cx="1625.2" cy="131.2" r="9.1"/>
<circle cx="1658.0" cy="181.7" r="9.1"/>
<circle cx="1863.1" cy="341.4" r="9.1"/>
<circle cx="1643.1" cy="154.6" r="9.1"/>
<circle cx="1708.9" cy="191.1" r="9.1"/>
<circle cx="1747.4" cy="275.0" r="9.1"/>
<circle cx="1788.7" cy="299.2" r="9.1"/>
<circle cx="1767.1" cy="288.0" r="9.1"/>
<circle cx="1630.2" cy="147.7" r="9.1"/>
<circle cx="1537.4" cy="116.4" r="9.1"/>
<circle cx="1580.9" cy="130.6" r="9.1"/>
<circle cx="1762.8" cy="261.8" r="9.1"/>
<circle cx="1559.2" cy="106.8" r="9.1"/>
<circle cx="1650.1" cy="131.6" r="9.1"/>
<circle cx="1765.7" cy="246.4" r="9.1"/>
<circle cx="1675.6" cy="198.5" r="9.1"/>
<circle cx="1882.8" cy="387.3" r="9.1"/>
<circle cx="1743.4" cy="269.9" r="9.1"/>
<circle cx="1554.5" cy="130.6" r="9.1"/>
<circle cx="1744.9" cy="260.3" r="9.1"/>
<circle cx="1565.5" cy="112.7" r="9.1"/>
<circle cx="1625.7" cy="158.6" r="9.1"/>
<circle cx="1896.2" cy="378.8" r="9.1"/>
<circle cx="1642.3" cy="168.3" r="9.1"/>
<circle cx="1652.9" cy="167.0" r="9.1"/>
<circle cx="1797.7" cy="301.9" r="9.1"/>
<circle cx="1646.2" cy="166.6" r="9.1"/>
<circle cx="1767.4" cy="295.2" r="9.1"/>
<circle cx="1850.8" cy="335.1" r="9.1"/>
<circle cx="1753.2" cy="241.9" r="9.1"/>
<circle cx="1853.7" cy="346.4" r="9.1"/>
<circle cx="1628.0" cy="160.8" r="9.1"/>
<circle cx="1588.6" cy="152.8" r="9.1"/>
<circle cx="1817.0" cy="314.7" r="9.1"/>
<circle cx="1702.3" cy="175.5" r="9.1"/>
<circle cx="1702.2" cy="235.9" r="9.1"/>
<circle cx="1870.0" cy="359.3" r="9.1"/>
<circle cx="1663.5" cy="214.3" r="9.1"/>
<circle cx="1650.4" cy="142.0" r="9.1"/>
<circle cx="1852.3" cy="352.4" r="9.1"/>
<circle cx="1655.4" cy="157.3" r="9.1"/>
<circle cx="1563.5" cy="128.7" r="9.1"/>
<circle cx="1583.8" cy="114.9" r="9.1"/>
<circle cx="1821.7" cy="320.7" r="9.1"/>
<circle cx="1574.4" cy="116.5" r="9.1"/>
<circle cx="1658.6" cy="168.4" r="9.1"/>
<circle cx="1647.7" cy="184.8" r="9.1"/>
<circle cx="1664.9" cy="153.3" r="9.1"/>
<circle cx="1702.5" cy="216.4" r="9.1"/>
<circle cx="1729.1" cy="245.1" r="9.1"/>
<circle cx="1538.2" cy="132.0" r="9.1"/>
<circle cx="1865.2" cy="349.5" r="9.1"/>
<circle cx="1648.3" cy="144.6" r="9.1"/>
<circle cx="1747.9" cy="236.6" r="9.1"/>
<circle cx="1596.0" cy="155.9" r="9.1"/>
<circle cx="1705.3" cy="228.8" r="9.1"/>
<circle cx="1676.5" cy="202.7" r="9.1"/>
<circle cx="1678.7" cy="207.6" r="9.1"/>
<circle cx="1607.0" cy="127.9" r="9.1"/>
<circle cx="1671.3" cy="179.6" r="9.1"/>
<circle cx="1894.5" cy="385.0" r="9.1"/>
<circle cx="1877.5" cy="340.8" r="9.1"/>
<circle cx="1763.9" cy="285.5" r="9.1"/>
<circle cx="1760.5" cy="254.8" r="9.1"/>
<circle cx="1656.8" cy="186.4" r="9.1"/>
<circle cx="1767.0" cy="286.2" r="9.1"/>
<circle cx="1833.1" cy="333.2" r="9.1"/>
<circle cx="1703.3" cy="183.4" r="9.1"/>
<circle cx="1740.8" cy="283.1" r="9.1"/>
<circle cx="1796.7" cy="301.0" r="9.1"/>
<circle cx="1834.2" cy="321.6" r="9.1"/>
<circle cx="1753.7" cy="234.3" r="9.1"/>
<circle cx="1867.8" cy="356.8" r="9.1"/>
<circle cx="1653.8" cy="143.5" r="9.1"/>
<circle cx="1753.7" cy="255.8" r="9.1"/>
<circle cx="1829.0" cy="318.1" r="9.1"/>
<circle cx="1731.3" cy="251.0" r="9.1"/>
<circle cx="1582.2" cy="160.5" r="9.1"/>
<circle cx="1651.0" cy="173.8" r="9.1"/>
<circle cx="1700.2" cy="210.2" r="9.1"/>
<circle cx="1721.4" cy="219.8" r="9.1"/>
<circle cx="1604.6" cy="125.4" r="9.1"/>
<circle cx="1547.6" cy="95.0" r="9.1"/>
<circle cx="1567.4" cy="147.4" r="9.1"/>
<circle cx="1793.1" cy="302.3" r="9.1"/>
<circle cx="1652.1" cy="159.1" r="9.1"/>
<circle cx="1571.5" cy="126.1" r="9.1"/>
<circle cx="1661.5" cy="153.2" r="9.1"/>
<circle cx="1670.5" cy="215.1" r="9.1"/>
<circle cx="1868.1" cy="347.4" r="9.1"/>
<circle cx="1550.8" cy="99.5" r="9.1"/>
<circle cx="1745.4" cy="271.6" r="9.1"/>
<circle cx="1739.2" cy="238.2" r="9.1"/>
<circle cx="1730.3" cy="216.6" r="9.1"/>
<circle cx="1766.4" cy="258.7" r="9.1"/>
<circle cx="1566.6" cy="117.3" r="9.1"/>
<circle cx="1537.1" cy="89.5" r="9.1"/>
<circle cx="1690.6" cy="226.8" r="9.1"/>
<circle cx="1809.0" cy="310.1" r="9.1"/>
<circle cx="1688.6" cy="200.1" r="9.1"/>
<circle cx="1834.5" cy="314.9" r="9.1"/>
<circle cx="1746.9" cy="281.9" r="9.1"/>
<circle cx="1682.9" cy="177.9" r="9.1"/>
<circle cx="1735.8" cy="273.9" r="9.1"/>
<circle cx="1831.2" cy="330.8" r="9.1"/>
<circle cx="1688.8" cy="195.0" r="9.1"/>
<circle cx="1768.1" cy="252.8" r="9.1"/>
<circle cx="1717.0" cy="234.4" r="9.1"/>
<circle cx="1675.3" cy="185.5" r="9.1"/>
<circle cx="1746.2" cy="287.9" r="9.1"/>
<circle cx="1646.6" cy="150.1" r="9.1"/>
<circle cx="1869.7" cy="367.8" r="9.1"/>
<circle cx="1691.9" cy="172.7" r="9.1"/>
<circle cx="1717.1" cy="226.4" r="9.1"/>
<circle cx="1734.5" cy="245.8" r="9.1"/>
<circle cx="1540.4" cy="132.7" r="9.1"/>
<circle cx="1626.9" cy="179.1" r="9.1"/>
<circle cx="1572.9" cy="133.0" r="9.1"/>
<circle cx="1749.6" cy="223.2" r="9.1"/>
<circle cx="1733.9" cy="218.8" r="9.1"/>
<circle cx="1589.1" cy="127.3" r="9.1"/>
<circle cx="1649.4" cy="157.5" r="9.1"/>
<circle cx="1859.1" cy="330.1" r="9.1"/>
<circle cx="1745.9" cy="290.9" r="9.1"/>
<circle cx="1698.6" cy="216.0" r="9.1"/>
<circle cx="1709.1" cy="206.1" r="9.1"/>
<circle cx="1819.3" cy="320.8" r="9.1"/>
<circle cx="1685.5" cy="203.5" r="9.1"/>
<circle cx="1817.1" cy="331.3" r="9.1"/>
<circle cx="1759.0" cy="251.3" r="9.1"/>
<circle cx="1692.3" cy="176.8" r="9.1"/>
<circle cx="1838.3" cy="318.9" r="9.1"/>
<circle cx="1599.6" cy="114.3" r="9.1"/>
<circle cx="1598.2" cy="162.2" r="9.1"/>
<circle cx="1605.1" cy="122.7" r="9.1"/>
<circle cx="1770.7" cy="254.9" r="9.1"/>
<circle cx="1820.0" cy="310.4" r="9.1"/>
<circle cx="1848.2" cy="340.6" r="9.1"/>
<circle cx="1799.6" cy="312.9" r="9.1"/>
<circle cx="1739.3" cy="283.0" r="9.1"/>
<circle cx="1733.0" cy="244.5" r="9.1"/>
<circle cx="1812.7" cy="317.4" r="9.1"/>
<circle cx="1582.9" cy="157.6" r="9.1"/>
<circle cx="1579.3" cy="134.8" r="9.1"/>
<circle cx="1626.0" cy="136.1" r="9.1"/>
<circle cx="1747.3" cy="234.1" r="9.1"/>
<circle cx="1784.5" cy="300.4" r="9.1"/>
<circle cx="1884.0" cy="375.0" r="9.1"/>
<circle cx="1842.7" cy="319.1" r="9.1"/>
<circle cx="1848.9" cy="340.7" r="9.1"/>
<circle cx="1633.8" cy="157.8" r="9.1"/>
<circle cx="1667.4" cy="192.6" r="9.1"/>
<circle cx="1677.6" cy="171.1" r="9.1"/>
<circle cx="1573.9" cy="151.7" r="9.1"/>
<circle cx="1543.6" cy="108.4" r="9.1"/>
<circle cx="1691.3" cy="234.3" r="9.1"/>
<circle cx="1801.8" cy="314.9" r="9.1"/>
<circle cx="1618.7" cy="138.3" r="9.1"/>
<circle cx="1805.5" cy="306.1" r="9.1"/>
<circle cx="1812.0" cy="297.3" r="9.1"/>
<circle cx="1582.4" cy="161.1" r="9.1"/>
<circle cx="1543.3" cy="94.1" r="9.1"/>
<circle cx="1553.5" cy="97.8" r="9.1"/>
<circle cx="1547.0" cy="92.1" r="9.1"/>
<circle cx="1541.3" cy="99.5" r="9.1"/>
<circle cx="1551.5" cy="89.4" r="9.1"/>
<circle cx="1548.2" cy="98.3" r="9.1"/>
<circle cx="1548.3" cy="101.6" r="9.1"/>
<circle cx="1550.9" cy="92.4" r="9.1"/>
<circle cx="1547.1" cy="104.5" r="9.1"/>
<circle cx="1549.1" cy="103.2" r="9.1"/>
<circle cx="1534.6" cy="77.7" r="9.1"/>
<circle cx="1908.0" cy="396.0" r="9.1"/>
<circle cx="1908.9" cy="416.7" r="9.1"/>
<circle cx="1934.0" cy="412.9" r="9.1"/>
<circle cx="1932.0" cy="427.4" r="9.1"/>
<circle cx="1939.7" cy="440.8" r="9.1"/>
<circle cx="1943.6" cy="452.4" r="9.1"/>
<circle cx="1944.6" cy="462.0" r="9.1"/>
<circle cx="1957.1" cy="397.5" r="9.1"/>
<circle cx="1959.9" cy="409.1" r="9.1"/>
<circle cx="1964.8" cy="421.6" r="9.1"/>
<circle cx="1959.0" cy="433.1" r="9.1"/>
<circle cx="1953.2" cy="444.7" r="9.1"/>
<circle cx="1960.9" cy="454.3" r="9.1"/>
<circle cx="1967.6" cy="469.7" r="9.1"/>
<circle cx="1978.2" cy="453.3" r="9.1"/>
<circle cx="1973.4" cy="499.5" r="9.1"/>
<circle cx="1986.9" cy="481.2" r="9.1"/>
<circle cx="1992.7" cy="492.8" r="9.1"/>
<circle cx="1936.0" cy="420.0" r="9.1"/>
<circle cx="1962.0" cy="415.0" r="9.1"/>
<circle cx="1941.0" cy="447.0" r="9.1"/>
<circle cx="1957.0" cy="441.0" r="9.1"/>
<circle cx="2020.6" cy="515.9" r="9.1"/>
<circle cx="2015.2" cy="529.0" r="9.1"/>
<circle cx="2008.1" cy="552.5" r="9.1"/>
<circle cx="2026.3" cy="549.6" r="9.1"/>
</g>
<rect x="1199" y="40.6" width="866.6" height="562.7" fill="none" stroke="#000" stroke-width="5.10"/>
<path d="M1274.3 603.3v9.2M1461.2 603.3v9.2M1648.1 603.3v9.2M1835.0 603.3v9.2M2021.9 603.3v9.2M1199.0 160.5h-9.2M1199.0 284.2h-9.2M1199.0 407.9h-9.2M1199.0 531.6h-9.2" stroke="#000" stroke-width="2.04" fill="none"/>
<g class="tk" font-size="26.01" text-anchor="middle">
<text x="1274.3" y="641.2">3</text>
<text x="1461.2" y="641.2">4</text>
<text x="1648.1" y="641.2">5</text>
<text x="1835.0" y="641.2">6</text>
<text x="2021.9" y="641.2">7</text>
</g>
<g class="tk" font-size="26.01" text-anchor="end">
<text x="1180.4" y="170.0">−11</text>
<text x="1180.4" y="293.7">−12</text>
<text x="1180.4" y="417.4">−13</text>
<text x="1180.4" y="541.1">−14</text>
</g>
<text class="tk" font-size="31.11" text-anchor="middle" x="1632.3" y="25.4">GRB060729</text>
<g transform="translate(1634.5 695.1)"><text class="lab" font-size="49.4"><tspan class="it" x="-175.28" y="0">log</tspan><tspan x="-100.02" y="8.10" font-size="34.56">10</tspan><tspan x="-54.70" y="0">(</tspan><tspan class="it" x="-35.44" y="0">time</tspan><tspan x="76.10" y="0">) (s)</tspan></text></g>
<g transform="translate(1104.8 321.4) rotate(-90)"><text class="lab" font-size="49.4"><tspan class="it" x="-312.04" y="0">log</tspan><tspan x="-236.79" y="8.10" font-size="34.56">10</tspan><tspan x="-191.46" y="0">(</tspan><tspan class="it" x="-172.20" y="0">Flux</tspan><tspan x="-69.58" y="0">) (</tspan><tspan class="it" x="-15.37" y="0">erg</tspan><tspan class="it" x="82.66" y="0">cm</tspan><tspan x="160.19" y="-18.90" font-size="34.56">−2</tspan><tspan class="it" x="212.49" y="0">s</tspan><tspan x="240.50" y="-18.90" font-size="34.56">−1</tspan><tspan x="292.79" y="0">)</tspan></text></g>
<rect x="1776.2" y="53.6" width="276.5" height="83.9" rx="5.2" fill="#fff" fill-opacity="0.8" stroke="#ccc" stroke-opacity="0.8" stroke-width="2.59"/>
<path d="M1785.8 75.0H1837.6" stroke="#ff0000" stroke-width="3.88" stroke-linecap="square" fill="none"/>
<path d="M1811.7 100.1V126.0" stroke="#1f77b4" stroke-width="3.88" fill="none"/>
<path d="M1798.6 100.1h26.1M1798.6 126.0h26.1" stroke="#1f77b4" stroke-width="2.65" fill="none"/>
<circle cx="1811.7" cy="113.1" r="9.1" fill="#1f77b4"/>
<text class="tk" font-size="25.91" x="1859.1" y="84.3">Observed Fit</text>
<text class="tk" font-size="25.91" x="1859.1" y="122.1">Trimmed Data</text>
</g>
<g>
<path d="M199.9 958.2 L208.6 959.1 L217.2 960.0 L225.9 960.9 L234.6 961.9 L243.2 962.8 L251.9 963.7 L260.6 964.7 L269.2 965.6 L277.9 966.5 L286.6 967.5 L295.2 968.4 L303.9 969.4 L312.5 970.4 L321.2 971.4 L329.9 972.4 L338.5 973.5 L347.2 974.6 L355.9 975.7 L364.5 976.9 L373.2 978.1 L381.9 979.4 L390.5 980.8 L399.2 982.4 L407.9 984.0 L416.5 985.8 L425.2 987.8 L433.9 989.9 L442.5 992.3 L451.2 994.9 L459.9 997.8 L468.5 1000.9 L477.2 1004.2 L485.9 1007.8 L494.5 1011.6 L503.2 1015.6 L511.8 1019.8 L520.5 1024.1 L529.2 1028.7 L537.8 1033.3 L546.5 1038.0 L555.2 1042.9 L563.8 1047.8 L572.5 1052.7 L581.2 1057.7 L589.8 1062.8 L598.5 1067.9 L607.2 1073.0 L615.8 1078.1 L624.5 1083.3 L633.2 1088.4 L641.8 1093.6 L650.5 1098.8 L659.2 1104.0 L667.8 1109.2 L676.5 1114.4 L685.1 1119.6 L693.8 1124.8 L702.5 1130.0 L711.1 1135.2 L719.8 1140.4 L728.5 1145.6 L737.1 1150.9 L745.8 1156.1 L754.5 1161.3 L763.1 1166.5 L771.8 1171.7 L780.5 1176.9 L789.1 1182.1 L797.8 1187.4 L806.5 1192.6 L815.1 1197.8 L823.8 1203.0 L832.5 1208.2 L841.1 1213.4 L849.8 1218.7 L858.5 1223.9 L867.1 1229.1 L875.8 1234.3 L884.4 1239.5 L893.1 1244.7 L901.8 1250.0 L910.4 1255.2 L919.1 1260.4 L927.8 1265.6 L936.4 1270.8 L945.1 1276.0 L953.8 1281.3 L962.4 1286.5 L971.1 1291.7" fill="none" stroke="#ff0000" stroke-width="3.78" stroke-linecap="square" stroke-linejoin="round"/>
<path d="M201.1 898.9V942.0M225.6 827.4V869.1M245.3 845.9V887.9M266.0 902.4V945.3M295.2 953.2V990.7M554.7 1001.2V1045.6M563.2 1043.5V1092.9M572.3 1053.3V1103.2M581.7 1028.0V1077.4M589.1 1060.1V1110.0M599.1 1086.3V1138.6M608.6 1062.4V1101.1M680.3 1087.0V1135.3M686.5 1105.3V1155.7M693.8 1098.7V1149.4M703.9 1119.8V1156.1M750.2 1091.0V1141.6M755.1 1094.9V1145.1M759.9 1107.2V1157.7M766.7 1123.9V1174.1M819.6 1188.3V1230.0M868.6 1211.8V1258.0M897.8 1261.1V1312.7M971.1 1291.3V1327.5" fill="none" stroke="#1f77b4" stroke-width="3.78"/>
<path d="M188.4 898.9h25.4M188.4 942.0h25.4M212.9 827.4h25.4M212.9 869.1h25.4M232.6 845.9h25.4M232.6 887.9h25.4M253.3 902.4h25.4M253.3 945.3h25.4M282.5 953.2h25.4M282.5 990.7h25.4M542.0 1001.2h25.4M542.0 1045.6h25.4M550.5 1043.5h25.4M550.5 1092.9h25.4M559.6 1053.3h25.4M559.6 1103.2h25.4M569.0 1028.0h25.4M569.0 1077.4h25.4M576.4 1060.1h25.4M576.4 1110.0h25.4M586.4 1086.3h25.4M586.4 1138.6h25.4M595.9 1062.4h25.4M595.9 1101.1h25.4M667.6 1087.0h25.4M667.6 1135.3h25.4M673.8 1105.3h25.4M673.8 1155.7h25.4M681.1 1098.7h25.4M681.1 1149.4h25.4M691.2 1119.8h25.4M691.2 1156.1h25.4M737.5 1091.0h25.4M737.5 1141.6h25.4M742.4 1094.9h25.4M742.4 1145.1h25.4M747.2 1107.2h25.4M747.2 1157.7h25.4M754.0 1123.9h25.4M754.0 1174.1h25.4M806.9 1188.3h25.4M806.9 1230.0h25.4M855.9 1211.8h25.4M855.9 1258.0h25.4M885.1 1261.1h25.4M885.1 1312.7h25.4M958.4 1291.3h25.4M958.4 1327.5h25.4" fill="none" stroke="#1f77b4" stroke-width="2.58"/>
<g fill="#1f77b4">
<circle cx="201.1" cy="918.4" r="8.9"/>
<circle cx="225.6" cy="845.9" r="8.9"/>
<circle cx="245.3" cy="864.7" r="8.9"/>
<circle cx="266.0" cy="921.1" r="8.9"/>
<circle cx="295.2" cy="970.4" r="8.9"/>
<circle cx="554.7" cy="1020.5" r="8.9"/>
<circle cx="563.2" cy="1064.9" r="8.9"/>
<circle cx="572.3" cy="1074.6" r="8.9"/>
<circle cx="581.7" cy="1049.9" r="8.9"/>
<circle cx="589.1" cy="1081.7" r="8.9"/>
<circle cx="599.1" cy="1110.3" r="8.9"/>
<circle cx="608.6" cy="1080.0" r="8.9"/>
<circle cx="680.3" cy="1108.4" r="8.9"/>
<circle cx="686.5" cy="1127.7" r="8.9"/>
<circle cx="693.8" cy="1121.0" r="8.9"/>
<circle cx="703.9" cy="1136.2" r="8.9"/>
<circle cx="750.2" cy="1113.2" r="8.9"/>
<circle cx="755.1" cy="1116.9" r="8.9"/>
<circle cx="759.9" cy="1130.0" r="8.9"/>
<circle cx="766.7" cy="1145.5" r="8.9"/>
<circle cx="819.6" cy="1207.0" r="8.9"/>
<circle cx="868.6" cy="1232.0" r="8.9"/>
<circle cx="897.8" cy="1283.2" r="8.9"/>
<circle cx="971.1" cy="1308.0" r="8.9"/>
</g>
<rect x="162.7" y="802.4" width="846.9" height="549.9" fill="none" stroke="#000" stroke-width="4.97"/>
<path d="M320.0 1352.3v8.9M498.1 1352.3v8.9M676.3 1352.3v8.9M854.5 1352.3v8.9M162.7 856.4h-8.9M162.7 965.4h-8.9M162.7 1074.5h-8.9M162.7 1183.5h-8.9M162.7 1292.6h-8.9" stroke="#000" stroke-width="1.99" fill="none"/>
<g class="tk" font-size="25.35" text-anchor="middle">
<text x="320.0" y="1389.6">3.0</text>
<text x="498.1" y="1389.6">3.5</text>
<text x="676.3" y="1389.6">4.0</text>
<text x="854.5" y="1389.6">4.5</text>
</g>
<g class="tk" font-size="25.35" text-anchor="end">
<text x="144.6" y="865.7">−10.5</text>
<text x="144.6" y="974.7">−11.0</text>
<text x="144.6" y="1083.8">−11.5</text>
<text x="144.6" y="1192.8">−12.0</text>
<text x="144.6" y="1301.9">−12.5</text>
</g>
<text class="tk" font-size="30.32" text-anchor="middle" x="586.1" y="786.6">GRB060312</text>
<g transform="translate(588.4 1441)"><text class="lab" font-size="48.1"><tspan class="it" x="-170.81" y="0">log</tspan><tspan x="-97.47" y="7.89" font-size="33.68">10</tspan><tspan x="-53.31" y="0">(</tspan><tspan class="it" x="-34.54" y="0">time</tspan><tspan x="74.16" y="0">) (s)</tspan></text></g>
<g transform="translate(46.4 1076.1) rotate(-90)"><text class="lab" font-size="48.1"><tspan class="it" x="-304.09" y="0">log</tspan><tspan x="-230.75" y="7.89" font-size="33.68">10</tspan><tspan x="-186.58" y="0">(</tspan><tspan class="it" x="-167.81" y="0">Flux</tspan><tspan x="-67.81" y="0">) (</tspan><tspan class="it" x="-14.98" y="0">erg</tspan><tspan class="it" x="80.56" y="0">cm</tspan><tspan x="156.11" y="-18.42" font-size="33.68">−2</tspan><tspan class="it" x="207.07" y="0">s</tspan><tspan x="234.37" y="-18.42" font-size="33.68">−1</tspan><tspan x="285.33" y="0">)</tspan></text></g>
<rect x="727.2" y="815.0" width="269.8" height="81.8" rx="5.0" fill="#fff" fill-opacity="0.8" stroke="#ccc" stroke-opacity="0.8" stroke-width="2.52"/>
<path d="M736.6 835.9H787.1" stroke="#ff0000" stroke-width="3.78" stroke-linecap="square" fill="none"/>
<path d="M761.8 860.4V885.6" stroke="#1f77b4" stroke-width="3.78" fill="none"/>
<path d="M749.1 860.4h25.4M749.1 885.6h25.4" stroke="#1f77b4" stroke-width="2.58" fill="none"/>
<circle cx="761.8" cy="873.0" r="8.9" fill="#1f77b4"/>
<text class="tk" font-size="25.25" x="808.0" y="845.0">Observed Fit</text>
<text class="tk" font-size="25.25" x="808.0" y="881.9">Trimmed Data</text>
</g>
<g>
<path d="M1236.5 825.9 L1245.4 827.0 L1254.3 828.1 L1263.2 829.2 L1272.0 830.3 L1280.9 831.4 L1289.8 832.5 L1298.7 833.7 L1307.6 834.9 L1316.5 836.2 L1325.4 837.5 L1334.2 838.9 L1343.1 840.4 L1352.0 842.0 L1360.9 843.8 L1369.8 845.9 L1378.7 848.2 L1387.6 850.8 L1396.4 853.9 L1405.3 857.3 L1414.2 861.2 L1423.1 865.5 L1432.0 870.3 L1440.9 875.4 L1449.7 880.9 L1458.6 886.7 L1467.5 892.8 L1476.4 899.1 L1485.3 905.5 L1494.2 912.0 L1503.1 918.6 L1511.9 925.3 L1520.8 932.1 L1529.7 938.9 L1538.6 945.7 L1547.5 952.5 L1556.4 959.4 L1565.3 966.3 L1574.1 973.1 L1583.0 980.0 L1591.9 986.9 L1600.8 993.8 L1609.7 1000.7 L1618.6 1007.6 L1627.5 1014.5 L1636.3 1021.4 L1645.2 1028.3 L1654.1 1035.2 L1663.0 1042.1 L1671.9 1049.0 L1680.8 1055.9 L1689.7 1062.8 L1698.5 1069.7 L1707.4 1076.6 L1716.3 1083.5 L1725.2 1090.4 L1734.1 1097.3 L1743.0 1104.2 L1751.9 1111.1 L1760.7 1118.0 L1769.6 1125.0 L1778.5 1131.9 L1787.4 1138.8 L1796.3 1145.7 L1805.2 1152.6 L1814.1 1159.5 L1822.9 1166.4 L1831.8 1173.3 L1840.7 1180.2 L1849.6 1187.1 L1858.5 1194.0 L1867.4 1200.9 L1876.2 1207.8 L1885.1 1214.7 L1894.0 1221.6 L1902.9 1228.5 L1911.8 1235.4 L1920.7 1242.3 L1929.6 1249.2 L1938.4 1256.1 L1947.3 1263.0 L1956.2 1269.9 L1965.1 1276.8 L1974.0 1283.7 L1982.9 1290.7 L1991.8 1297.6 L2000.6 1304.5 L2009.5 1311.4 L2018.4 1318.3 L2027.3 1325.2" fill="none" stroke="#ff0000" stroke-width="3.87" stroke-linecap="square" stroke-linejoin="round"/>
<path d="M1237.9 864.7V884.5M1245.9 897.9V919.9M1269.2 886.4V906.4M1292.2 894.0V914.0M1309.7 873.5V893.5M1324.0 893.2V913.2M1338.0 873.9V894.9M1344.1 861.9V881.9M1350.9 850.8V869.8M1357.1 838.4V855.4M1361.6 811.8V828.2M1366.0 832.6V848.6M1374.1 837.9V855.9M1383.9 848.0V867.2M1370.5 845.0V863.0M1396.4 864.2V883.2M1391.1 887.3V908.3M1404.5 877.7V894.7M1411.6 886.1V904.1M1419.7 889.7V907.7M1425.9 907.2V927.8M1433.1 887.9V905.9M1441.1 913.9V935.3M1443.8 886.1V904.1M1452.7 881.7V897.7M1458.1 826.9V839.9M1458.1 840.9V859.9M1462.9 860.2V878.2M1466.8 888.8V908.8M1473.5 896.2V918.2M1485.2 920.5V942.5M1492.0 883.4V901.4M1497.4 898.1V917.1M1492.0 911.9V931.9M1482.2 921.3V943.9M1504.6 924.6V947.8M1510.8 927.3V950.5M1517.1 904.8V924.8M1524.2 906.9V924.5M1657.9 1057.6V1081.1M1666.3 1062.4V1086.1M1662.4 1076.3V1098.3M1672.7 1082.1V1107.2M1679.5 1086.6V1111.3M1684.0 1088.9V1113.1M1689.7 1083.3V1102.6M1737.8 1124.9V1149.0M1746.5 1118.1V1138.5M1813.4 1036.3V1057.2M1814.6 1064.0V1080.6M1815.7 1064.8V1087.9M2026.2 1194.6V1219.1" fill="none" stroke="#1f77b4" stroke-width="3.87"/>
<path d="M1224.9 864.7h26.1M1224.9 884.5h26.1M1232.9 897.9h26.1M1232.9 919.9h26.1M1256.2 886.4h26.1M1256.2 906.4h26.1M1279.2 894.0h26.1M1279.2 914.0h26.1M1296.7 873.5h26.1M1296.7 893.5h26.1M1311.0 893.2h26.1M1311.0 913.2h26.1M1325.0 873.9h26.1M1325.0 894.9h26.1M1331.1 861.9h26.1M1331.1 881.9h26.1M1337.9 850.8h26.1M1337.9 869.8h26.1M1344.1 838.4h26.1M1344.1 855.4h26.1M1348.6 811.8h26.1M1348.6 828.2h26.1M1353.0 832.6h26.1M1353.0 848.6h26.1M1361.1 837.9h26.1M1361.1 855.9h26.1M1370.9 848.0h26.1M1370.9 867.2h26.1M1357.5 845.0h26.1M1357.5 863.0h26.1M1383.4 864.2h26.1M1383.4 883.2h26.1M1378.1 887.3h26.1M1378.1 908.3h26.1M1391.5 877.7h26.1M1391.5 894.7h26.1M1398.6 886.1h26.1M1398.6 904.1h26.1M1406.7 889.7h26.1M1406.7 907.7h26.1M1412.9 907.2h26.1M1412.9 927.8h26.1M1420.1 887.9h26.1M1420.1 905.9h26.1M1428.1 913.9h26.1M1428.1 935.3h26.1M1430.8 886.1h26.1M1430.8 904.1h26.1M1439.7 881.7h26.1M1439.7 897.7h26.1M1445.1 826.9h26.1M1445.1 839.9h26.1M1445.1 840.9h26.1M1445.1 859.9h26.1M1449.9 860.2h26.1M1449.9 878.2h26.1M1453.8 888.8h26.1M1453.8 908.8h26.1M1460.5 896.2h26.1M1460.5 918.2h26.1M1472.2 920.5h26.1M1472.2 942.5h26.1M1479.0 883.4h26.1M1479.0 901.4h26.1M1484.4 898.1h26.1M1484.4 917.1h26.1M1479.0 911.9h26.1M1479.0 931.9h26.1M1469.2 921.3h26.1M1469.2 943.9h26.1M1491.6 924.6h26.1M1491.6 947.8h26.1M1497.8 927.3h26.1M1497.8 950.5h26.1M1504.1 904.8h26.1M1504.1 924.8h26.1M1511.2 906.9h26.1M1511.2 924.5h26.1M1644.9 1057.6h26.1M1644.9 1081.1h26.1M1653.3 1062.4h26.1M1653.3 1086.1h26.1M1649.4 1076.3h26.1M1649.4 1098.3h26.1M1659.7 1082.1h26.1M1659.7 1107.2h26.1M1666.5 1086.6h26.1M1666.5 1111.3h26.1M1671.0 1088.9h26.1M1671.0 1113.1h26.1M1676.7 1083.3h26.1M1676.7 1102.6h26.1M1724.8 1124.9h26.1M1724.8 1149.0h26.1M1733.5 1118.1h26.1M1733.5 1138.5h26.1M1800.4 1036.3h26.1M1800.4 1057.2h26.1M1801.6 1064.0h26.1M1801.6 1080.6h26.1M1802.7 1064.8h26.1M1802.7 1087.9h26.1M2013.2 1194.6h26.1M2013.2 1219.1h26.1" fill="none" stroke="#1f77b4" stroke-width="2.65"/>
<g fill="#1f77b4">
<circle cx="1237.9" cy="874.6" r="9.1"/>
<circle cx="1245.9" cy="908.9" r="9.1"/>
<circle cx="1269.2" cy="896.4" r="9.1"/>
<circle cx="1292.2" cy="904.0" r="9.1"/>
<circle cx="1309.7" cy="883.5" r="9.1"/>
<circle cx="1324.0" cy="903.2" r="9.1"/>
<circle cx="1338.0" cy="884.4" r="9.1"/>
<circle cx="1344.1" cy="871.9" r="9.1"/>
<circle cx="1350.9" cy="860.3" r="9.1"/>
<circle cx="1357.1" cy="846.9" r="9.1"/>
<circle cx="1361.6" cy="820.0" r="9.1"/>
<circle cx="1366.0" cy="840.6" r="9.1"/>
<circle cx="1374.1" cy="846.9" r="9.1"/>
<circle cx="1383.9" cy="857.6" r="9.1"/>
<circle cx="1370.5" cy="854.0" r="9.1"/>
<circle cx="1396.4" cy="873.7" r="9.1"/>
<circle cx="1391.1" cy="897.8" r="9.1"/>
<circle cx="1404.5" cy="886.2" r="9.1"/>
<circle cx="1411.6" cy="895.1" r="9.1"/>
<circle cx="1419.7" cy="898.7" r="9.1"/>
<circle cx="1425.9" cy="917.5" r="9.1"/>
<circle cx="1433.1" cy="896.9" r="9.1"/>
<circle cx="1441.1" cy="924.6" r="9.1"/>
<circle cx="1443.8" cy="895.1" r="9.1"/>
<circle cx="1452.7" cy="889.7" r="9.1"/>
<circle cx="1458.1" cy="833.4" r="9.1"/>
<circle cx="1458.1" cy="850.4" r="9.1"/>
<circle cx="1462.9" cy="869.2" r="9.1"/>
<circle cx="1466.8" cy="898.8" r="9.1"/>
<circle cx="1473.5" cy="907.2" r="9.1"/>
<circle cx="1485.2" cy="931.5" r="9.1"/>
<circle cx="1492.0" cy="892.4" r="9.1"/>
<circle cx="1497.4" cy="907.6" r="9.1"/>
<circle cx="1492.0" cy="921.9" r="9.1"/>
<circle cx="1482.2" cy="932.6" r="9.1"/>
<circle cx="1504.6" cy="936.2" r="9.1"/>
<circle cx="1510.8" cy="938.9" r="9.1"/>
<circle cx="1517.1" cy="914.8" r="9.1"/>
<circle cx="1524.2" cy="915.7" r="9.1"/>
<circle cx="1657.9" cy="1068.1" r="9.1"/>
<circle cx="1666.3" cy="1073.1" r="9.1"/>
<circle cx="1662.4" cy="1086.3" r="9.1"/>
<circle cx="1672.7" cy="1093.1" r="9.1"/>
<circle cx="1679.5" cy="1097.6" r="9.1"/>
<circle cx="1684.0" cy="1099.9" r="9.1"/>
<circle cx="1689.7" cy="1092.0" r="9.1"/>
<circle cx="1737.8" cy="1135.6" r="9.1"/>
<circle cx="1746.5" cy="1128.3" r="9.1"/>
<circle cx="1813.4" cy="1046.1" r="9.1"/>
<circle cx="1814.6" cy="1069.3" r="9.1"/>
<circle cx="1815.7" cy="1073.8" r="9.1"/>
<circle cx="2026.2" cy="1205.5" r="9.1"/>
</g>
<rect x="1198.7" y="786.5" width="866.7" height="563.1" fill="none" stroke="#000" stroke-width="5.09"/>
<path d="M1231.0 1349.6v9.2M1355.0 1349.6v9.2M1479.0 1349.6v9.2M1603.0 1349.6v9.2M1727.0 1349.6v9.2M1851.0 1349.6v9.2M1975.0 1349.6v9.2M1198.7 869.0h-9.2M1198.7 972.4h-9.2M1198.7 1075.8h-9.2M1198.7 1179.2h-9.2M1198.7 1282.6h-9.2" stroke="#000" stroke-width="2.04" fill="none"/>
<g class="tk" font-size="25.96" text-anchor="middle">
<text x="1231.0" y="1387.8">2.0</text>
<text x="1355.0" y="1387.8">2.5</text>
<text x="1479.0" y="1387.8">3.0</text>
<text x="1603.0" y="1387.8">3.5</text>
<text x="1727.0" y="1387.8">4.0</text>
<text x="1851.0" y="1387.8">4.5</text>
<text x="1975.0" y="1387.8">5.0</text>
</g>
<g class="tk" font-size="25.96" text-anchor="end">
<text x="1180.2" y="878.5">−9</text>
<text x="1180.2" y="981.9">−10</text>
<text x="1180.2" y="1085.3">−11</text>
<text x="1180.2" y="1188.7">−12</text>
<text x="1180.2" y="1292.1">−13</text>
</g>
<text class="tk" font-size="31.05" text-anchor="middle" x="1632.1" y="771.3">GRB140304A</text>
<g transform="translate(1634.3 1440.6)"><text class="lab" font-size="49.3"><tspan class="it" x="-174.94" y="0">log</tspan><tspan x="-99.83" y="8.08" font-size="34.49">10</tspan><tspan x="-54.59" y="0">(</tspan><tspan class="it" x="-35.37" y="0">time</tspan><tspan x="75.95" y="0">) (s)</tspan></text></g>
<g transform="translate(1104.9 1066.5) rotate(-90)"><text class="lab" font-size="49.3"><tspan class="it" x="-311.43" y="0">log</tspan><tspan x="-236.32" y="8.08" font-size="34.49">10</tspan><tspan x="-191.09" y="0">(</tspan><tspan class="it" x="-171.87" y="0">Flux</tspan><tspan x="-69.45" y="0">) (</tspan><tspan class="it" x="-15.34" y="0">erg</tspan><tspan class="it" x="82.50" y="0">cm</tspan><tspan x="159.88" y="-18.86" font-size="34.49">−2</tspan><tspan class="it" x="212.07" y="0">s</tspan><tspan x="240.03" y="-18.86" font-size="34.49">−1</tspan><tspan x="292.22" y="0">)</tspan></text></g>
<rect x="1776.3" y="799.4" width="276.1" height="83.8" rx="5.2" fill="#fff" fill-opacity="0.8" stroke="#ccc" stroke-opacity="0.8" stroke-width="2.59"/>
<path d="M1785.9 820.8H1837.6" stroke="#ff0000" stroke-width="3.87" stroke-linecap="square" fill="none"/>
<path d="M1811.8 845.9V871.8" stroke="#1f77b4" stroke-width="3.87" fill="none"/>
<path d="M1798.7 845.9h26.1M1798.7 871.8h26.1" stroke="#1f77b4" stroke-width="2.65" fill="none"/>
<circle cx="1811.8" cy="858.8" r="9.1" fill="#1f77b4"/>
<text class="tk" font-size="25.86" x="1859.1" y="830.1">Observed Fit</text>
<text class="tk" font-size="25.86" x="1859.1" y="867.9">Trimmed Data</text>
</g>
</svg></body></html>
